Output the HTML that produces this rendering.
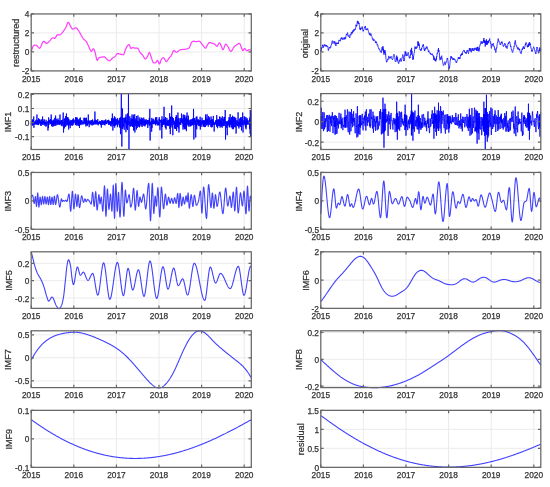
<!DOCTYPE html>
<html><head><meta charset="utf-8"><title>EMD decomposition</title>
<style>
html,body{margin:0;padding:0;background:#fff;}
body{width:550px;height:487px;overflow:hidden;}
svg{display:block;}
text{font-family:"Liberation Sans",Arial,sans-serif;font-size:8.3px;fill:#333333;stroke:#333;stroke-width:0.25px;}
text.yl{font-size:9.1px;}
</style></head><body>
<svg width="550" height="487" viewBox="0 0 550 487">
<rect width="550" height="487" fill="#fff"/>
<path d="M73.8 13.95V70.9M116.4 13.95V70.9M159 13.95V70.9M201.6 13.95V70.9M244.2 13.95V70.9M31.2 51.92H251.3M31.2 32.93H251.3" stroke="#ebebeb" stroke-width="1" fill="none"/>
<path d="M363.4 13.95V70.9M406 13.95V70.9M448.6 13.95V70.9M491.2 13.95V70.9M533.8 13.95V70.9M320.8 51.92H540.8M320.8 32.93H540.8" stroke="#ebebeb" stroke-width="1" fill="none"/>
<path d="M73.8 93.6V149.5M116.4 93.6V149.5M159 93.6V149.5M201.6 93.6V149.5M244.2 93.6V149.5M31.2 136.58H251.3M31.2 122.53H251.3M31.2 108.49H251.3M31.2 94.44H251.3" stroke="#ebebeb" stroke-width="1" fill="none"/>
<path d="M363.4 93.6V149.5M406 93.6V149.5M448.6 93.6V149.5M491.2 93.6V149.5M533.8 93.6V149.5M320.8 142.14H540.8M320.8 121.7H540.8M320.8 101.26H540.8" stroke="#ebebeb" stroke-width="1" fill="none"/>
<path d="M73.8 172.45V229.25M116.4 172.45V229.25M159 172.45V229.25M201.6 172.45V229.25M244.2 172.45V229.25M31.2 200.85H251.3" stroke="#ebebeb" stroke-width="1" fill="none"/>
<path d="M363.4 172.45V229.25M406 172.45V229.25M448.6 172.45V229.25M491.2 172.45V229.25M533.8 172.45V229.25M320.8 200.85H540.8" stroke="#ebebeb" stroke-width="1" fill="none"/>
<path d="M73.8 251.8V308.35M116.4 251.8V308.35M159 251.8V308.35M201.6 251.8V308.35M244.2 251.8V308.35M31.2 298.03H251.3M31.2 280.68H251.3M31.2 263.34H251.3" stroke="#ebebeb" stroke-width="1" fill="none"/>
<path d="M363.4 251.8V308.35M406 251.8V308.35M448.6 251.8V308.35M491.2 251.8V308.35M533.8 251.8V308.35M320.8 280.08H540.8" stroke="#ebebeb" stroke-width="1" fill="none"/>
<path d="M73.8 330.8V387.6M116.4 330.8V387.6M159 330.8V387.6M201.6 330.8V387.6M244.2 330.8V387.6M31.2 380.87H251.3M31.2 357.84H251.3M31.2 334.81H251.3" stroke="#ebebeb" stroke-width="1" fill="none"/>
<path d="M363.4 330.8V387.6M406 330.8V387.6M448.6 330.8V387.6M491.2 330.8V387.6M533.8 330.8V387.6M320.8 386.13H540.8M320.8 359.31H540.8M320.8 332.49H540.8" stroke="#ebebeb" stroke-width="1" fill="none"/>
<path d="M73.8 410.35V467.35M116.4 410.35V467.35M159 410.35V467.35M201.6 410.35V467.35M244.2 410.35V467.35M31.2 438.85H251.3" stroke="#ebebeb" stroke-width="1" fill="none"/>
<path d="M363.4 410.35V467.35M406 410.35V467.35M448.6 410.35V467.35M491.2 410.35V467.35M533.8 410.35V467.35M320.8 448.35H540.8M320.8 429.35H540.8" stroke="#ebebeb" stroke-width="1" fill="none"/>
<path d="M31.3 51.4 L31.8 49.77 L32.3 48.31 L32.8 47.07 L33.3 46.07 L33.8 45.38 L34.3 45.03 L34.8 45.01 L35.3 45.09 L35.8 45.21 L36.3 45.37 L36.8 45.63 L37.3 46.12 L37.8 46.73 L38.3 47.36 L38.8 47.88 L39.3 48.17 L39.8 48.1 L40.3 47.53 L40.8 46.6 L41.3 45.44 L41.8 44.2 L42.3 43.01 L42.8 42.03 L43.3 41.38 L43.8 41.21 L44.3 41.46 L44.8 41.95 L45.3 42.53 L45.8 43.06 L46.3 43.37 L46.8 43.36 L47.3 43.13 L47.8 42.76 L48.3 42.32 L48.8 41.86 L49.3 41.42 L49.8 40.88 L50.3 40.25 L50.8 39.58 L51.3 38.94 L51.8 38.39 L52.3 37.99 L52.8 37.81 L53.3 37.86 L53.8 38.03 L54.3 38.21 L54.8 38.3 L55.3 37.96 L55.8 37.15 L56.3 36.15 L56.8 35.27 L57.3 34.82 L57.8 34.8 L58.3 34.8 L58.8 34.8 L59.3 34.8 L59.8 34.8 L60.3 34.72 L60.8 34.4 L61.3 33.92 L61.8 33.31 L62.3 32.65 L62.8 31.98 L63.3 31.35 L63.8 30.67 L64.3 29.93 L64.8 29.14 L65.3 28.31 L65.8 27.42 L66.3 26.27 L66.8 24.97 L67.3 23.73 L67.8 22.78 L68.3 22.31 L68.8 22.6 L69.3 23.56 L69.8 24.72 L70.3 25.65 L70.8 26.62 L71.3 27.62 L71.8 28.47 L72.3 29 L72.8 29.09 L73.3 28.94 L73.8 28.69 L74.3 28.39 L74.8 28.1 L75.3 27.89 L75.8 27.8 L76.3 27.95 L76.8 28.36 L77.3 28.93 L77.8 29.6 L78.3 30.27 L78.8 30.97 L79.3 31.81 L79.8 32.71 L80.3 33.6 L80.8 34.49 L81.3 35.42 L81.8 36.35 L82.3 37.24 L82.8 38.04 L83.3 38.72 L83.8 39.27 L84.3 39.74 L84.8 40.16 L85.3 40.6 L85.8 41.08 L86.3 41.67 L86.8 42.43 L87.3 43.39 L87.8 44.49 L88.3 45.62 L88.8 46.7 L89.3 47.81 L89.8 49.09 L90.3 50.3 L90.8 51.15 L91.3 51.38 L91.8 50.93 L92.3 50.1 L92.8 49.27 L93.3 48.82 L93.8 49.11 L94.3 50.13 L94.8 51.47 L95.3 53 L95.8 55.33 L96.3 57.83 L96.8 59.73 L97.3 60.28 L97.8 59.74 L98.3 58.81 L98.8 57.96 L99.3 57.62 L99.8 57.45 L100.3 57.33 L100.8 57.23 L101.3 57.15 L101.8 57.07 L102.3 56.99 L102.8 56.91 L103.3 56.85 L103.8 56.81 L104.3 56.81 L104.8 57.03 L105.3 57.49 L105.8 58.06 L106.3 58.62 L106.8 59.08 L107.3 59.54 L107.8 60.03 L108.3 60.46 L108.8 60.78 L109.3 60.9 L109.8 60.76 L110.3 60.41 L110.8 59.91 L111.3 59.33 L111.8 58.76 L112.3 58.26 L112.8 57.89 L113.3 57.58 L113.8 57.3 L114.3 57 L114.8 56.66 L115.3 56.2 L115.8 55.51 L116.3 54.73 L116.8 54.04 L117.3 53.59 L117.8 53.51 L118.3 53.58 L118.8 53.7 L119.3 53.87 L119.8 54.04 L120.3 54.2 L120.8 54.32 L121.3 54.45 L121.8 54.57 L122.3 54.69 L122.8 54.77 L123.3 54.8 L123.8 54.31 L124.3 53.1 L124.8 51.53 L125.3 49.97 L125.8 48.8 L126.3 47.91 L126.8 47.01 L127.3 46.17 L127.8 45.45 L128.3 44.91 L128.8 44.63 L129.3 44.85 L129.8 46.05 L130.3 47.5 L130.8 48.37 L131.3 48.31 L131.8 48.03 L132.3 47.74 L132.8 47.6 L133.3 47.67 L133.8 47.84 L134.3 48.03 L134.8 48.17 L135.3 48.2 L135.8 48.2 L136.3 48.2 L136.8 48.2 L137.3 48.2 L137.8 48.26 L138.3 48.81 L138.8 49.76 L139.3 50.89 L139.8 51.95 L140.3 52.73 L140.8 53.29 L141.3 53.79 L141.8 54.27 L142.3 54.76 L142.8 55.32 L143.3 56.08 L143.8 56.97 L144.3 57.85 L144.8 58.56 L145.3 58.96 L145.8 58.91 L146.3 58.42 L146.8 57.7 L147.3 56.94 L147.8 55.78 L148.3 54.35 L148.8 53.09 L149.3 52.42 L149.8 52.85 L150.3 54.28 L150.8 55.94 L151.3 57.32 L151.8 58.88 L152.3 60.46 L152.8 61.8 L153.3 62.64 L153.8 62.8 L154.3 62.8 L154.8 62.8 L155.3 62.8 L155.8 62.63 L156.3 61.84 L156.8 60.89 L157.3 60.32 L157.8 60.66 L158.3 61.8 L158.8 63.11 L159.3 64 L159.8 63.79 L160.3 62.31 L160.8 60.54 L161.3 59.47 L161.8 58.83 L162.3 58.28 L162.8 57.89 L163.3 57.71 L163.8 57.9 L164.3 58.59 L164.8 59.55 L165.3 60.53 L165.8 61.29 L166.3 61.6 L166.8 61.37 L167.3 60.77 L167.8 59.98 L168.3 59.13 L168.8 58.4 L169.3 57.8 L169.8 57.22 L170.3 56.64 L170.8 56.03 L171.3 55.35 L171.8 54.46 L172.3 53.26 L172.8 52.03 L173.3 51.02 L173.8 50.52 L174.3 50.61 L174.8 51 L175.3 51.5 L175.8 51.98 L176.3 52.27 L176.8 52.25 L177.3 51.99 L177.8 51.57 L178.3 51.09 L178.8 50.62 L179.3 50.24 L179.8 50.03 L180.3 49.88 L180.8 49.76 L181.3 49.65 L181.8 49.56 L182.3 49.49 L182.8 49.43 L183.3 49.38 L183.8 49.34 L184.3 49.29 L184.8 49.24 L185.3 49.17 L185.8 49.09 L186.3 49.01 L186.8 48.91 L187.3 48.79 L187.8 48.64 L188.3 48.47 L188.8 48.25 L189.3 47.75 L189.8 46.64 L190.3 45.23 L190.8 43.83 L191.3 42.76 L191.8 42.2 L192.3 41.73 L192.8 41.38 L193.3 41.21 L193.8 41.22 L194.3 41.28 L194.8 41.37 L195.3 41.47 L195.8 41.55 L196.3 41.6 L196.8 41.59 L197.3 41.51 L197.8 41.4 L198.3 41.29 L198.8 41.21 L199.3 41.23 L199.8 41.52 L200.3 42.03 L200.8 42.68 L201.3 43.34 L201.8 43.94 L202.3 44.59 L202.8 45.28 L203.3 45.94 L203.8 46.54 L204.3 47.2 L204.8 47.8 L205.3 48.16 L205.8 48.04 L206.3 47.25 L206.8 46.15 L207.3 45.15 L207.8 44.4 L208.3 43.6 L208.8 42.93 L209.3 42.54 L209.8 42.52 L210.3 42.6 L210.8 42.75 L211.3 42.93 L211.8 43.13 L212.3 43.33 L212.8 43.5 L213.3 43.67 L213.8 43.84 L214.3 44.05 L214.8 44.29 L215.3 44.65 L215.8 45.28 L216.3 45.93 L216.8 46.29 L217.3 46.08 L217.8 45.33 L218.3 44.35 L218.8 43.42 L219.3 42.86 L219.8 42.97 L220.3 43.81 L220.8 44.95 L221.3 46.05 L221.8 47.49 L222.3 48.9 L222.8 49.67 L223.3 49.41 L223.8 48.42 L224.3 47.04 L224.8 45.64 L225.3 44.54 L225.8 44.1 L226.3 44.35 L226.8 44.96 L227.3 45.72 L227.8 46.44 L228.3 47.29 L228.8 48.32 L229.3 49.38 L229.8 50.33 L230.3 51.05 L230.8 51.39 L231.3 51.25 L231.8 50.72 L232.3 49.92 L232.8 48.98 L233.3 48.06 L233.8 47.26 L234.3 46.7 L234.8 46.23 L235.3 45.8 L235.8 45.4 L236.3 45.04 L236.8 44.7 L237.3 44.4 L237.8 44.09 L238.3 43.78 L238.8 43.53 L239.3 43.4 L239.8 43.66 L240.3 44.56 L240.8 45.84 L241.3 47.22 L241.8 48.44 L242.3 49.89 L242.8 50.7 L243.3 50.22 L243.8 49.25 L244.3 48.49 L244.8 48.51 L245.3 49.04 L245.8 49.77 L246.3 50.42 L246.8 50.7 L247.3 50.6 L247.8 50.37 L248.3 50.09 L248.8 49.84 L249.3 49.7 L249.8 49.75 L250.3 49.96 L250.8 50.28 L251.3 50.7" fill="none" stroke="#ff3cff" stroke-width="1.2" stroke-linejoin="round" />
<path d="M31.2 125.11 L31.37 121.87 L31.54 122.4 L31.71 122.54 L31.88 124.78 L32.05 120.33 L32.22 125.45 L32.39 122.1 L32.56 119.54 L32.72 125.33 L32.89 122.9 L33.06 119.53 L33.23 124.53 L33.4 122.82 L33.57 121.55 L33.74 116.53 L33.91 127.83 L34.08 122.14 L34.25 123.64 L34.42 124.3 L34.59 123.24 L34.76 123.54 L34.93 121.34 L35.1 124.48 L35.27 121.69 L35.44 121.81 L35.61 124.22 L35.77 121.66 L35.94 119.89 L36.11 123.4 L36.28 123.76 L36.45 121.89 L36.62 124.17 L36.79 121.51 L36.96 114.53 L37.13 124.96 L37.3 122.13 L37.47 120.14 L37.64 124.62 L37.81 121.75 L37.98 124.42 L38.15 123.39 L38.32 122.73 L38.49 118.38 L38.66 125.05 L38.82 123.13 L38.99 122.74 L39.16 122.61 L39.33 121.23 L39.5 122.75 L39.67 118.93 L39.84 123.71 L40.01 120.13 L40.18 122.88 L40.35 121.78 L40.52 125.36 L40.69 121.68 L40.86 122.49 L41.03 123.17 L41.2 126.02 L41.37 119.41 L41.54 123.94 L41.71 123.35 L41.87 122.34 L42.04 122.86 L42.21 121.73 L42.38 124.85 L42.55 116.53 L42.72 121.27 L42.89 122.73 L43.06 123.33 L43.23 123.11 L43.4 123.52 L43.57 122.07 L43.74 120.61 L43.91 125.11 L44.08 119.15 L44.25 122.09 L44.42 124.19 L44.59 120.54 L44.76 125.56 L44.92 124.47 L45.09 123.23 L45.26 122.52 L45.43 122.96 L45.6 123.24 L45.77 121.93 L45.94 126.7 L46.11 119.79 L46.28 125.59 L46.45 122.94 L46.62 122.51 L46.79 124.73 L46.96 124.25 L47.13 123.32 L47.3 121.83 L47.47 121.42 L47.64 121.94 L47.8 125.22 L47.97 130.53 L48.14 123.74 L48.31 120.8 L48.48 127.86 L48.65 117.41 L48.82 125.08 L48.99 124.66 L49.16 120.22 L49.33 120.6 L49.5 123.02 L49.67 120.18 L49.84 123.18 L50.01 119.68 L50.18 120.72 L50.35 123.99 L50.52 119.11 L50.69 123.42 L50.85 122.64 L51.02 124.29 L51.19 114.53 L51.36 120.76 L51.53 125.93 L51.7 120.17 L51.87 122.29 L52.04 122.6 L52.21 126.61 L52.38 120.84 L52.55 121.28 L52.72 124.77 L52.89 121.64 L53.06 126.49 L53.23 119.75 L53.4 124.06 L53.57 120.9 L53.74 126.18 L53.9 119.79 L54.07 123.37 L54.24 121.16 L54.41 124.73 L54.58 123 L54.75 117.85 L54.92 126.01 L55.09 123.19 L55.26 122.02 L55.43 124.55 L55.6 115.53 L55.77 120.14 L55.94 125.65 L56.11 124.83 L56.28 118.87 L56.45 121.81 L56.62 122.23 L56.79 121.11 L56.95 124.64 L57.12 122.15 L57.29 124.39 L57.46 123.9 L57.63 119.95 L57.8 124.5 L57.97 118.48 L58.14 123.85 L58.31 123.83 L58.48 120.26 L58.65 120.09 L58.82 123.25 L58.99 124.84 L59.16 120.66 L59.33 120.46 L59.5 124.82 L59.67 123.34 L59.84 119.91 L60 114.53 L60.17 124.6 L60.34 122.07 L60.51 123.77 L60.68 121.51 L60.85 122.53 L61.02 120.38 L61.19 122.09 L61.36 126.1 L61.53 120.24 L61.7 121.12 L61.87 122.75 L62.04 120.81 L62.21 124.28 L62.38 123.92 L62.55 119.67 L62.72 125.66 L62.88 126.24 L63.05 118.09 L63.22 112.53 L63.39 122.8 L63.56 132.53 L63.73 124.29 L63.9 123.81 L64.07 122.39 L64.24 121.48 L64.41 128.39 L64.58 118.4 L64.75 125.92 L64.92 124.29 L65.09 119.31 L65.26 123.81 L65.43 126.43 L65.6 116.1 L65.77 126.63 L65.93 121.3 L66.1 121.69 L66.27 119.56 L66.44 113.53 L66.61 119.54 L66.78 125.14 L66.95 119.16 L67.12 125.35 L67.29 122.82 L67.46 117.32 L67.63 124.07 L67.8 122.63 L67.97 117.19 L68.14 124.06 L68.31 124.74 L68.48 119.65 L68.65 129.53 L68.82 118.79 L68.98 120.61 L69.15 125.43 L69.32 123.06 L69.49 121.3 L69.66 122.93 L69.83 124.82 L70 119.92 L70.17 128.18 L70.34 121.58 L70.51 122.79 L70.68 123.24 L70.85 121.49 L71.02 125.49 L71.19 120.01 L71.36 123.41 L71.53 124.12 L71.7 124.9 L71.87 124.02 L72.03 120.45 L72.2 125.83 L72.37 121.35 L72.54 119.64 L72.71 121.44 L72.88 119.73 L73.05 124.88 L73.22 125 L73.39 118.34 L73.56 123.11 L73.73 120.32 L73.9 123.4 L74.07 119.66 L74.24 121.57 L74.41 121.77 L74.58 121.82 L74.75 122.02 L74.92 122.33 L75.08 122.17 L75.25 120.24 L75.42 125.11 L75.59 117.05 L75.76 124.76 L75.93 120.1 L76.1 123.45 L76.27 123.21 L76.44 117.46 L76.61 125.5 L76.78 125.36 L76.95 122.38 L77.12 122.78 L77.29 117.65 L77.46 124.18 L77.63 120.67 L77.8 125.53 L77.96 120.72 L78.13 121.12 L78.3 119.36 L78.47 125.83 L78.64 120.33 L78.81 122.19 L78.98 125.36 L79.15 121.42 L79.32 123.06 L79.49 127.9 L79.66 118.44 L79.83 121.94 L80 124.7 L80.17 124.91 L80.34 117.56 L80.51 123.65 L80.68 120.75 L80.85 120.15 L81.01 125.12 L81.18 120.13 L81.35 123.62 L81.52 122.68 L81.69 122.44 L81.86 122.55 L82.03 120.25 L82.2 123.32 L82.37 122.97 L82.54 122.76 L82.71 121.59 L82.88 124.75 L83.05 122.75 L83.22 122.09 L83.39 123.89 L83.56 122.29 L83.73 123.65 L83.9 117.8 L84.06 121.55 L84.23 122.97 L84.4 122.65 L84.57 117.82 L84.74 124.11 L84.91 123.08 L85.08 121.2 L85.25 122.28 L85.42 119.56 L85.59 123.87 L85.76 117.92 L85.93 126.41 L86.1 120.31 L86.27 125.05 L86.44 117.75 L86.61 124.82 L86.78 122.56 L86.95 120.15 L87.11 120.99 L87.28 125.95 L87.45 122.02 L87.62 124.82 L87.79 121.38 L87.96 122.78 L88.13 123.27 L88.3 114.53 L88.47 122.69 L88.64 123.61 L88.81 121.11 L88.98 120.41 L89.15 127.18 L89.32 121.12 L89.49 122.99 L89.66 121.76 L89.83 124.52 L89.99 122.07 L90.16 124.17 L90.33 120.61 L90.5 122.88 L90.67 123.07 L90.84 121.54 L91.01 123.3 L91.18 125.14 L91.35 120.14 L91.52 122.57 L91.69 123.28 L91.86 120.42 L92.03 121.23 L92.2 125.44 L92.37 122.84 L92.54 119.46 L92.71 121.64 L92.88 124.83 L93.04 123.57 L93.21 122.61 L93.38 123.03 L93.55 124.54 L93.72 121.46 L93.89 124.41 L94.06 123.59 L94.23 120.34 L94.4 124.24 L94.57 122.29 L94.74 121.41 L94.91 111.53 L95.08 123.4 L95.25 122.16 L95.42 123.64 L95.59 119.65 L95.76 122.69 L95.93 124.65 L96.09 121.53 L96.26 121.42 L96.43 122.5 L96.6 120.11 L96.77 121.67 L96.94 124.08 L97.11 122.11 L97.28 124.26 L97.45 121.51 L97.62 122.44 L97.79 119.13 L97.96 124.05 L98.13 125.29 L98.3 121.86 L98.47 122.12 L98.64 124.58 L98.81 122.87 L98.98 122.46 L99.14 122.07 L99.31 122.95 L99.48 123.6 L99.65 120.86 L99.82 123.79 L99.99 122.97 L100.16 123.83 L100.33 122.84 L100.5 121.31 L100.67 125.07 L100.84 121.72 L101.01 121.5 L101.18 123.63 L101.35 127.53 L101.52 124.08 L101.69 120 L101.86 121.72 L102.03 123.05 L102.19 124.98 L102.36 122.82 L102.53 120.57 L102.7 120.97 L102.87 123.2 L103.04 120.8 L103.21 124.03 L103.38 122.48 L103.55 122.25 L103.72 122.08 L103.89 124.86 L104.06 120.3 L104.23 121.29 L104.4 125.13 L104.57 123.48 L104.74 121.16 L104.91 123.85 L105.07 125.27 L105.24 120.02 L105.41 122.92 L105.58 123.43 L105.75 119.43 L105.92 123.6 L106.09 123.67 L106.26 121.67 L106.43 124.05 L106.6 123.01 L106.77 121.51 L106.94 123.61 L107.11 122.85 L107.28 120.02 L107.45 122.49 L107.62 121.99 L107.79 122.05 L107.96 122.19 L108.12 120.68 L108.29 123.43 L108.46 119.81 L108.63 125.01 L108.8 122.36 L108.97 124.26 L109.14 122.34 L109.31 121.45 L109.48 120.69 L109.65 124.76 L109.82 121.89 L109.99 122.97 L110.16 123.74 L110.33 124.05 L110.5 121.42 L110.67 126.17 L110.84 120.99 L111.01 122.49 L111.17 124.21 L111.34 123.71 L111.51 124.29 L111.68 118.15 L111.85 126.45 L112.02 118.93 L112.19 122.31 L112.36 113.53 L112.53 124.08 L112.7 119.24 L112.87 130.53 L113.04 126.61 L113.21 121.93 L113.38 119.68 L113.55 123.19 L113.72 118.33 L113.89 125.66 L114.06 120.72 L114.22 125.82 L114.39 116.36 L114.56 126.47 L114.73 127.65 L114.9 119.62 L115.07 123.17 L115.24 117.39 L115.41 125.67 L115.58 122.19 L115.75 120.38 L115.92 119.28 L116.09 124.65 L116.26 119.37 L116.43 122.07 L116.6 124.14 L116.77 121.69 L116.94 122.51 L117.11 125.07 L117.27 118.57 L117.44 127.16 L117.61 118.23 L117.78 121.03 L117.95 124.33 L118.12 124.01 L118.29 122.07 L118.46 121.28 L118.63 121.35 L118.8 122.61 L118.97 120.12 L119.14 125.29 L119.31 121.07 L119.48 127.45 L119.65 118.18 L119.82 123.01 L119.99 124.56 L120.15 117.77 L120.32 122.01 L120.49 134.17 L120.66 117.29 L120.83 127.84 L121 117.27 L121.17 114.21 L121.34 93.6 L121.51 120.73 L121.68 122.89 L121.85 146.53 L122.02 120.48 L122.19 118.55 L122.36 129 L122.53 108.53 L122.7 128.44 L122.87 120.38 L123.04 117.92 L123.2 122.35 L123.37 127.04 L123.54 123.17 L123.71 123.09 L123.88 122.35 L124.05 117.91 L124.22 129.76 L124.39 118.16 L124.56 120.51 L124.73 122.08 L124.9 121.32 L125.07 117.38 L125.24 123.25 L125.41 119.93 L125.58 121.41 L125.75 116.85 L125.92 132.23 L126.09 114.35 L126.25 125.1 L126.42 123.98 L126.59 124.95 L126.76 128.62 L126.93 120.69 L127.1 125.02 L127.27 119.65 L127.44 130.06 L127.61 113.42 L127.78 123.85 L127.95 124.73 L128.12 124.28 L128.29 124.55 L128.46 93.6 L128.63 122.79 L128.8 121.79 L128.97 149.5 L129.14 127.12 L129.3 121.2 L129.47 125.31 L129.64 121.03 L129.81 116.2 L129.98 123.48 L130.15 124.34 L130.32 126.62 L130.49 124.83 L130.66 126.07 L130.83 118.31 L131 126.05 L131.17 121.61 L131.34 124.15 L131.51 121.77 L131.68 118.73 L131.85 126.2 L132.02 114.53 L132.19 124.15 L132.35 119.14 L132.52 126.97 L132.69 124.96 L132.86 125.11 L133.03 125.5 L133.2 119.01 L133.37 114.69 L133.54 130.34 L133.71 117.46 L133.88 122.42 L134.05 130.53 L134.22 121.15 L134.39 122.95 L134.56 125.1 L134.73 114.24 L134.9 132.5 L135.07 118.3 L135.23 121.19 L135.4 126.04 L135.57 120.82 L135.74 119.73 L135.91 123.59 L136.08 121.29 L136.25 120.77 L136.42 129.59 L136.59 115.99 L136.76 117.84 L136.93 123.27 L137.1 120.19 L137.27 127.96 L137.44 120.99 L137.61 124.52 L137.78 123.58 L137.95 115.53 L138.12 125.89 L138.28 122.03 L138.45 126.64 L138.62 121.14 L138.79 122.13 L138.96 124.6 L139.13 123.33 L139.3 117.54 L139.47 127.32 L139.64 123.71 L139.81 122.82 L139.98 119.8 L140.15 119.48 L140.32 123.91 L140.49 124.31 L140.66 122.45 L140.83 119.39 L141 126.26 L141.17 117.46 L141.33 120.17 L141.5 124.43 L141.67 120.42 L141.84 121.08 L142.01 119.46 L142.18 127 L142.35 118.18 L142.52 124.56 L142.69 124.63 L142.86 120.85 L143.03 123.45 L143.2 125.25 L143.37 125.73 L143.54 123.24 L143.71 117.57 L143.88 119.05 L144.05 123.28 L144.22 119.43 L144.38 125.47 L144.55 122.13 L144.72 121.27 L144.89 126.4 L145.06 124.09 L145.23 120.83 L145.4 123.91 L145.57 125.24 L145.74 119.88 L145.91 123.96 L146.08 119.22 L146.25 123.66 L146.42 123.58 L146.59 121.45 L146.76 123.31 L146.93 124.41 L147.1 122.73 L147.27 120.1 L147.43 121.86 L147.6 120.04 L147.77 127.95 L147.94 121.54 L148.11 122.91 L148.28 122.09 L148.45 123.9 L148.62 123.38 L148.79 119.91 L148.96 123.08 L149.13 125.57 L149.3 117.76 L149.47 121.63 L149.64 125.09 L149.81 108.93 L149.98 125.06 L150.15 140.53 L150.31 124.01 L150.48 124.55 L150.65 122.25 L150.82 124.28 L150.99 121.27 L151.16 122.26 L151.33 122.82 L151.5 123.96 L151.67 131.67 L151.84 117.91 L152.01 127.91 L152.18 120.51 L152.35 119.28 L152.52 123.69 L152.69 123.71 L152.86 122.28 L153.03 122.76 L153.2 123.86 L153.36 123.33 L153.53 124.19 L153.7 118.76 L153.87 123.98 L154.04 120.33 L154.21 123.86 L154.38 122.19 L154.55 122.88 L154.72 121.17 L154.89 120.81 L155.06 122.91 L155.23 124.56 L155.4 123.64 L155.57 117.33 L155.74 125.39 L155.91 123.05 L156.08 118.17 L156.25 121.74 L156.41 122.48 L156.58 123.56 L156.75 117.06 L156.92 123.98 L157.09 121.82 L157.26 122.91 L157.43 125.4 L157.6 123.97 L157.77 120.34 L157.94 122.35 L158.11 123.57 L158.28 124.73 L158.45 124.56 L158.62 121.94 L158.79 125.49 L158.96 119.2 L159.13 120.75 L159.3 117.2 L159.46 123.16 L159.63 124.86 L159.8 123.54 L159.97 130.22 L160.14 120.11 L160.31 122.38 L160.48 120.37 L160.65 121.81 L160.82 121.62 L160.99 122.48 L161.16 120.78 L161.33 119.25 L161.5 127.28 L161.67 122.32 L161.84 138.53 L162.01 116.33 L162.18 120.8 L162.35 122.31 L162.51 126.57 L162.68 120.16 L162.85 123.57 L163.02 122.31 L163.19 123.08 L163.36 120.5 L163.53 124.89 L163.7 118.84 L163.87 122.86 L164.04 106.83 L164.21 122.11 L164.38 124 L164.55 118.93 L164.72 124.83 L164.89 121.14 L165.06 124.12 L165.23 127.26 L165.39 116.98 L165.56 127.91 L165.73 119 L165.9 121.65 L166.07 129.43 L166.24 122.88 L166.41 122.75 L166.58 125.01 L166.75 125.3 L166.92 117.86 L167.09 125.09 L167.26 120.89 L167.43 124.5 L167.6 120.76 L167.77 125.95 L167.94 121.4 L168.11 120 L168.28 123.75 L168.44 124.4 L168.61 126.09 L168.78 119.81 L168.95 121.58 L169.12 124.58 L169.29 125.09 L169.46 118.65 L169.63 113.06 L169.8 128.72 L169.97 120.4 L170.14 120.85 L170.31 134.11 L170.48 117.18 L170.65 125.43 L170.82 116.56 L170.99 125.58 L171.16 125.37 L171.33 121.52 L171.49 121.75 L171.66 105.53 L171.83 121.66 L172 127.51 L172.17 121.38 L172.34 119.14 L172.51 116.92 L172.68 123.06 L172.85 135.23 L173.02 118.24 L173.19 120.77 L173.36 118.12 L173.53 120.9 L173.7 124.66 L173.87 120.99 L174.04 122.15 L174.21 121.91 L174.38 122.17 L174.54 125.54 L174.71 128.57 L174.88 121.55 L175.05 128.62 L175.22 119.81 L175.39 122.53 L175.56 128.92 L175.73 117.11 L175.9 120.45 L176.07 124.29 L176.24 115.26 L176.41 117.9 L176.58 130.99 L176.75 115.64 L176.92 122.19 L177.09 122.4 L177.26 118.83 L177.43 126.95 L177.59 123.59 L177.76 124.47 L177.93 112.53 L178.1 121.65 L178.27 128.51 L178.44 124.36 L178.61 118.12 L178.78 124.51 L178.95 132.53 L179.12 130.22 L179.29 122.44 L179.46 123.18 L179.63 122.14 L179.8 124.7 L179.97 118.23 L180.14 124.17 L180.31 122.57 L180.47 122.18 L180.64 120.47 L180.81 125.05 L180.98 118.08 L181.15 122.48 L181.32 122.96 L181.49 113.53 L181.66 120.84 L181.83 119.89 L182 120.76 L182.17 122.55 L182.34 119.85 L182.51 123.32 L182.68 118.45 L182.85 124.23 L183.02 129.6 L183.19 114.62 L183.36 124.36 L183.52 127.11 L183.69 120.74 L183.86 125.34 L184.03 114.81 L184.2 123.93 L184.37 129.17 L184.54 116.97 L184.71 125.19 L184.88 115.27 L185.05 129.1 L185.22 129.36 L185.39 117.89 L185.56 124.52 L185.73 124.08 L185.9 128.68 L186.07 118.11 L186.24 118.2 L186.41 131.16 L186.57 116.17 L186.74 125.3 L186.91 115.85 L187.08 112.53 L187.25 123.82 L187.42 118.97 L187.59 122.56 L187.76 124.51 L187.93 120.11 L188.1 124.49 L188.27 126.25 L188.44 115.64 L188.61 125.53 L188.78 123.9 L188.95 120.54 L189.12 126.71 L189.29 124.19 L189.46 122.05 L189.62 123.71 L189.79 121.91 L189.96 119.78 L190.13 125.15 L190.3 120.68 L190.47 121.26 L190.64 126.37 L190.81 120.3 L190.98 125.17 L191.15 118.99 L191.32 122.4 L191.49 123.29 L191.66 125.73 L191.83 120.65 L192 124.62 L192.17 120.19 L192.34 123.56 L192.51 124.96 L192.67 118.7 L192.84 121.8 L193.01 125.18 L193.18 118.22 L193.35 124.68 L193.52 108.93 L193.69 121.43 L193.86 139.53 L194.03 122.89 L194.2 122.33 L194.37 118.67 L194.54 120.55 L194.71 124.65 L194.88 118.11 L195.05 124.15 L195.22 121.78 L195.39 120.24 L195.55 123 L195.72 137.53 L195.89 124.61 L196.06 126.32 L196.23 116.8 L196.4 125.41 L196.57 123.18 L196.74 129.29 L196.91 116.45 L197.08 121.68 L197.25 122.09 L197.42 120.58 L197.59 119.5 L197.76 124.43 L197.93 120.01 L198.1 125.09 L198.27 122.77 L198.44 119.42 L198.6 122.96 L198.77 126.09 L198.94 119.97 L199.11 123.41 L199.28 124.59 L199.45 120.45 L199.62 124.05 L199.79 126.14 L199.96 123.31 L200.13 116.73 L200.3 129.59 L200.47 120.15 L200.64 120.57 L200.81 122.1 L200.98 127.04 L201.15 121.6 L201.32 121.6 L201.49 120.68 L201.65 125.49 L201.82 125.03 L201.99 117.73 L202.16 120.85 L202.33 123.13 L202.5 124.29 L202.67 120.49 L202.84 122.78 L203.01 120.58 L203.18 126.88 L203.35 120.64 L203.52 122.95 L203.69 125.99 L203.86 120.26 L204.03 122.75 L204.2 124.07 L204.37 120.61 L204.54 127.07 L204.7 120.93 L204.87 121 L205.04 122.7 L205.21 119.71 L205.38 127.04 L205.55 114.53 L205.72 119.82 L205.89 121.97 L206.06 117.55 L206.23 123.14 L206.4 125.28 L206.57 119.46 L206.74 125.31 L206.91 125.4 L207.08 114.23 L207.25 124.76 L207.42 121.5 L207.58 121.19 L207.75 118.88 L207.92 123.75 L208.09 119.57 L208.26 126.67 L208.43 125.47 L208.6 116.01 L208.77 120.39 L208.94 123.29 L209.11 121.95 L209.28 122.16 L209.45 124.8 L209.62 117.35 L209.79 122.59 L209.96 122.15 L210.13 121.56 L210.3 119.96 L210.47 122.4 L210.63 120.95 L210.8 126.74 L210.97 119.34 L211.14 116.49 L211.31 127.28 L211.48 121.99 L211.65 119.56 L211.82 121.44 L211.99 121.96 L212.16 127.2 L212.33 119.28 L212.5 126.12 L212.67 123.74 L212.84 119.86 L213.01 124.25 L213.18 120.37 L213.35 115.9 L213.52 124.27 L213.68 121.5 L213.85 124.71 L214.02 123.23 L214.19 131.53 L214.36 122.85 L214.53 124.5 L214.7 123.06 L214.87 122.36 L215.04 124.63 L215.21 124.64 L215.38 124.02 L215.55 120.53 L215.72 123.02 L215.89 120.51 L216.06 121.01 L216.23 124.4 L216.4 120.4 L216.57 126.69 L216.73 115.11 L216.9 121.84 L217.07 125.02 L217.24 124.74 L217.41 119.91 L217.58 128.24 L217.75 122.56 L217.92 119.38 L218.09 123.73 L218.26 123.83 L218.43 119.47 L218.6 126.16 L218.77 120.77 L218.94 123.87 L219.11 124.53 L219.28 120.16 L219.45 125.7 L219.62 116.62 L219.78 126.03 L219.95 116.86 L220.12 127.62 L220.29 119.75 L220.46 125.97 L220.63 125.05 L220.8 120.43 L220.97 121.37 L221.14 126.73 L221.31 117.85 L221.48 125.64 L221.65 121.69 L221.82 121.25 L221.99 121.73 L222.16 127.72 L222.33 116.28 L222.5 122.89 L222.66 124.82 L222.83 124.23 L223 126.19 L223.17 124.62 L223.34 118.95 L223.51 124.86 L223.68 125.78 L223.85 122.28 L224.02 117.08 L224.19 126.02 L224.36 123.9 L224.53 116.95 L224.7 123.29 L224.87 123.18 L225.04 124.07 L225.21 110.03 L225.38 124.22 L225.55 139.53 L225.71 122.97 L225.88 121.2 L226.05 121.3 L226.22 122.65 L226.39 122.06 L226.56 125.75 L226.73 127.9 L226.9 121.1 L227.07 124.94 L227.24 135.23 L227.41 122.34 L227.58 126.1 L227.75 124.3 L227.92 121.29 L228.09 122.38 L228.26 124.88 L228.43 120.02 L228.6 123.81 L228.76 125.45 L228.93 120.78 L229.1 117.12 L229.27 127.39 L229.44 117.96 L229.61 119.11 L229.78 120.15 L229.95 127.21 L230.12 114.05 L230.29 124.99 L230.46 124.03 L230.63 122.14 L230.8 120.12 L230.97 123.52 L231.14 123.23 L231.31 117.43 L231.48 127.36 L231.65 125.27 L231.81 117.09 L231.98 121.64 L232.15 119.63 L232.32 128.73 L232.49 115.72 L232.66 122.29 L232.83 117.16 L233 129.3 L233.17 119.56 L233.34 123.43 L233.51 128.77 L233.68 122.25 L233.85 116.65 L234.02 127.33 L234.19 124.66 L234.36 117.06 L234.53 120.49 L234.7 120.49 L234.86 126.98 L235.03 121.18 L235.2 117.91 L235.37 127.28 L235.54 124.18 L235.71 117.79 L235.88 118.49 L236.05 133.53 L236.22 130.06 L236.39 123.25 L236.56 124.48 L236.73 122 L236.9 120.08 L237.07 124.32 L237.24 124.89 L237.41 120.74 L237.58 126.07 L237.74 121.44 L237.91 124.55 L238.08 112.32 L238.25 123.82 L238.42 126.77 L238.59 123.82 L238.76 122.62 L238.93 128.48 L239.1 122.62 L239.27 123.98 L239.44 118.64 L239.61 125.86 L239.78 125.15 L239.95 126.34 L240.12 125.35 L240.29 120.85 L240.46 123.69 L240.63 117.74 L240.79 126.98 L240.96 117.2 L241.13 123 L241.3 123.46 L241.47 130.52 L241.64 124.15 L241.81 117.53 L241.98 119.11 L242.15 124.23 L242.32 119.77 L242.49 124.76 L242.66 112.53 L242.83 123.82 L243 132.53 L243.17 122.85 L243.34 123.7 L243.51 122.85 L243.68 120.42 L243.84 122.44 L244.01 125.31 L244.18 116.23 L244.35 124.02 L244.52 123.1 L244.69 117.37 L244.86 121.58 L245.03 124.19 L245.2 120.5 L245.37 126.17 L245.54 123.14 L245.71 127.76 L245.88 116.91 L246.05 129.26 L246.22 118.71 L246.39 125.13 L246.56 124.88 L246.73 121.46 L246.89 121.8 L247.06 121.41 L247.23 118.3 L247.4 123.66 L247.57 120.63 L247.74 124.67 L247.91 120.08 L248.08 122.81 L248.25 124.1 L248.42 121.96 L248.59 122.61 L248.76 122.06 L248.93 121.52 L249.1 124.73 L249.27 124.12 L249.44 119.14 L249.61 129.11 L249.78 122.23 L249.94 117.19 L250.11 133.74 L250.28 110.03 L250.45 118.47 L250.62 136.53 L250.79 110.57 L250.96 136.24 L251.13 113.01 L251.3 117.71" fill="none" stroke="#0000ff" stroke-width="0.85" stroke-linejoin="round" />
<path d="M320.8 122.12 L320.97 116.26 L321.14 128.52 L321.31 107.7 L321.48 128.52 L321.65 116.26 L321.82 122.12 L321.99 122.57 L322.15 128.49 L322.32 128.92 L322.49 119.78 L322.66 112.17 L322.83 111.95 L323 113.58 L323.17 121.81 L323.34 129.08 L323.51 131.11 L323.68 127.82 L323.85 120.97 L324.02 112.41 L324.19 112.41 L324.36 117.55 L324.53 129.29 L324.7 127 L324.86 123.45 L325.03 121.14 L325.2 127.22 L325.37 124.47 L325.54 118.24 L325.71 118.95 L325.88 120.97 L326.05 121.51 L326.22 118.96 L326.39 119.1 L326.56 115.29 L326.73 118.16 L326.9 124.25 L327.07 127.82 L327.24 131.98 L327.41 131.84 L327.57 122.04 L327.74 115.02 L327.91 118.11 L328.08 121.15 L328.25 130.01 L328.42 130.88 L328.59 124.03 L328.76 116.69 L328.93 118.43 L329.1 118.63 L329.27 114.8 L329.44 118.52 L329.61 120.38 L329.78 127.49 L329.95 131.68 L330.11 128.81 L330.28 120.96 L330.45 116.71 L330.62 119.49 L330.79 123.57 L330.96 122.22 L331.13 115.7 L331.3 116.7 L331.47 126.09 L331.64 124.64 L331.81 120.06 L331.98 116.3 L332.15 117.07 L332.32 112.25 L332.49 115.4 L332.66 119.48 L332.82 130.1 L332.99 133.18 L333.16 130.69 L333.33 123.68 L333.5 117.58 L333.67 119.66 L333.84 116.06 L334.01 121.58 L334.18 126.42 L334.35 125.5 L334.52 121.32 L334.69 126.76 L334.86 115.37 L335.03 134.7 L335.2 115.37 L335.37 126.76 L335.53 121.32 L335.7 127.54 L335.87 134.04 L336.04 132.89 L336.21 126.54 L336.38 121.87 L336.55 116.22 L336.72 125.89 L336.89 133.55 L337.06 133.73 L337.23 124.97 L337.4 118.32 L337.57 118.92 L337.74 125.31 L337.91 123.49 L338.07 123.07 L338.24 121.34 L338.41 128.42 L338.58 124.02 L338.75 118.7 L338.92 115.53 L339.09 112.81 L339.26 117.92 L339.43 123.95 L339.6 123.23 L339.77 120.46 L339.94 120.78 L340.11 121.57 L340.28 124.24 L340.45 121.57 L340.62 116.74 L340.78 117.35 L340.95 113.53 L341.12 122.48 L341.29 128.37 L341.46 120.94 L341.63 119.21 L341.8 125.94 L341.97 122.05 L342.14 117.67 L342.31 122.49 L342.48 121.93 L342.65 125.51 L342.82 130.17 L342.99 128.45 L343.16 125.14 L343.33 125.66 L343.49 124.97 L343.66 126.69 L343.83 124.54 L344 121.78 L344.17 117.57 L344.34 119.76 L344.51 122.06 L344.68 117.04 L344.85 127.55 L345.02 109.7 L345.19 127.55 L345.36 117.04 L345.53 122.06 L345.7 127.54 L345.87 124.87 L346.03 123.07 L346.2 118.27 L346.37 115.36 L346.54 119.06 L346.71 121.64 L346.88 127.28 L347.05 127.5 L347.22 119.93 L347.39 109.39 L347.56 109.4 L347.73 113.23 L347.9 130.67 L348.07 130.91 L348.24 132.26 L348.41 129.99 L348.58 122.25 L348.74 122.75 L348.91 116.26 L349.08 111.53 L349.25 117.93 L349.42 126.49 L349.59 134.13 L349.76 134.64 L349.93 127.07 L350.1 116.04 L350.27 112.12 L350.44 115.05 L350.61 123.42 L350.78 125.88 L350.95 131.25 L351.12 128.38 L351.28 116.63 L351.45 108.99 L351.62 114.06 L351.79 123.65 L351.96 122.38 L352.13 113.8 L352.3 120.48 L352.47 127.18 L352.64 126.71 L352.81 118.14 L352.98 119.42 L353.15 118.89 L353.32 121.94 L353.49 113.1 L353.66 111.28 L353.83 117.93 L353.99 125.72 L354.16 122.88 L354.33 117.85 L354.5 122.41 L354.67 123.8 L354.84 129.46 L355.01 131.7 L355.18 133.29 L355.35 133.02 L355.52 129.53 L355.69 127.55 L355.86 120.37 L356.03 113.45 L356.2 116.16 L356.37 126.96 L356.54 126.04 L356.7 133.25 L356.87 137.5 L357.04 129.16 L357.21 114.79 L357.38 106.16 L357.55 112.13 L357.72 128.85 L357.89 136.65 L358.06 128.72 L358.23 124.28 L358.4 124.01 L358.57 129.65 L358.74 133.88 L358.91 124.49 L359.08 115.87 L359.24 120.39 L359.41 121.32 L359.58 126.76 L359.75 115.37 L359.92 134.7 L360.09 115.37 L360.26 126.76 L360.43 121.32 L360.6 127.63 L360.77 115.36 L360.94 117.85 L361.11 125.31 L361.28 123.8 L361.45 123.52 L361.62 124.74 L361.79 121.52 L361.95 119.26 L362.12 115.08 L362.29 113.83 L362.46 120.59 L362.63 125.72 L362.8 126.34 L362.97 129.26 L363.14 130.35 L363.31 121.75 L363.48 123.38 L363.65 119.37 L363.82 117.59 L363.99 119.84 L364.16 120.25 L364.33 119.58 L364.5 115.54 L364.66 119.08 L364.83 123.75 L365 126.1 L365.17 117.37 L365.34 111.59 L365.51 118.53 L365.68 125.86 L365.85 130.57 L366.02 127.64 L366.19 121.62 L366.36 109.28 L366.53 117.43 L366.7 120.86 L366.87 121.67 L367.04 125.09 L367.2 125.69 L367.37 125.67 L367.54 123.17 L367.71 116.89 L367.88 122.71 L368.05 120.19 L368.22 121.39 L368.39 116.21 L368.56 115.06 L368.73 113.71 L368.9 115.89 L369.07 116.52 L369.24 119.99 L369.41 126.26 L369.58 124.56 L369.75 119.03 L369.91 109.32 L370.08 119.8 L370.25 127.71 L370.42 124.3 L370.59 125.94 L370.76 125.23 L370.93 114.13 L371.1 109.33 L371.27 116.21 L371.44 119.09 L371.61 118 L371.78 116.87 L371.95 117.96 L372.12 120.18 L372.29 125.66 L372.46 128.5 L372.62 123.06 L372.79 118.86 L372.96 111.66 L373.13 115.32 L373.3 130.01 L373.47 132.83 L373.64 128.3 L373.81 119.15 L373.98 115.59 L374.15 120.52 L374.32 118.7 L374.49 122.08 L374.66 121.26 L374.83 122.23 L375 126.95 L375.16 121.22 L375.33 127.65 L375.5 130.82 L375.67 125.36 L375.84 121.41 L376.01 116.56 L376.18 117.51 L376.35 122.52 L376.52 116.74 L376.69 117.59 L376.86 121.29 L377.03 127.66 L377.2 130.23 L377.37 124.06 L377.54 117.23 L377.71 116.17 L377.87 121.72 L378.04 122.41 L378.21 128.71 L378.38 129.2 L378.55 125.88 L378.72 124.57 L378.89 121.52 L379.06 122.56 L379.23 125.78 L379.4 118.12 L379.57 113.06 L379.74 111.2 L379.91 116.5 L380.08 119.03 L380.25 119 L380.42 115.89 L380.58 109.16 L380.75 113.13 L380.92 120.41 L381.09 125.5 L381.26 134.33 L381.43 134.39 L381.6 131.07 L381.77 115.58 L381.94 112.87 L382.11 111.93 L382.28 111.86 L382.45 122.42 L382.62 112.37 L382.79 133.39 L382.96 97.7 L383.12 133.39 L383.29 112.37 L383.46 120.93 L383.63 131.81 L383.8 109.04 L383.97 147.7 L384.14 109.04 L384.31 131.81 L384.48 122.24 L384.65 114.71 L384.82 130.47 L384.99 103.7 L385.16 130.47 L385.33 114.71 L385.5 122.24 L385.67 108.84 L385.83 121.04 L386 122.95 L386.17 119.66 L386.34 119.18 L386.51 121.64 L386.68 120.99 L386.85 117.08 L387.02 114.12 L387.19 118.66 L387.36 121.04 L387.53 118.85 L387.7 115.81 L387.87 131.86 L388.04 135.91 L388.21 134.86 L388.38 125.72 L388.54 117.6 L388.71 111.5 L388.88 112.16 L389.05 118.88 L389.22 124.32 L389.39 118.53 L389.56 119.78 L389.73 120.45 L389.9 115.34 L390.07 114.92 L390.24 127.36 L390.41 129.25 L390.58 127.12 L390.75 123.02 L390.92 115.33 L391.08 112.92 L391.25 118.21 L391.42 119.6 L391.59 119.87 L391.76 120.68 L391.93 120.55 L392.1 120.16 L392.27 122.29 L392.44 124.96 L392.61 124.44 L392.78 126.15 L392.95 129.52 L393.12 121.22 L393.29 117.86 L393.46 118.52 L393.63 121.39 L393.79 123.17 L393.96 123.14 L394.13 121.96 L394.3 124.38 L394.47 120.27 L394.64 121.68 L394.81 118.38 L394.98 126.28 L395.15 132.16 L395.32 125 L395.49 119.38 L395.66 120.45 L395.83 120.31 L396 125.45 L396.17 122.3 L396.34 113.93 L396.5 131.44 L396.67 101.7 L396.84 121.17 L397.01 128.7 L397.18 112.94 L397.35 139.7 L397.52 112.94 L397.69 128.7 L397.86 121.17 L398.03 127.74 L398.2 116.85 L398.37 116.38 L398.54 122.3 L398.71 129.42 L398.88 123.45 L399.04 119.18 L399.21 111.25 L399.38 114.05 L399.55 130 L399.72 130.59 L399.89 126.81 L400.06 122.45 L400.23 112.35 L400.4 113.71 L400.57 114.37 L400.74 119.27 L400.91 127.07 L401.08 125.78 L401.25 125.12 L401.42 117.46 L401.59 111.78 L401.75 114.44 L401.92 117.89 L402.09 119.87 L402.26 123.28 L402.43 120.35 L402.6 120.53 L402.77 118.67 L402.94 123.66 L403.11 124.73 L403.28 121.68 L403.45 123.23 L403.62 124.69 L403.79 125.75 L403.96 120.95 L404.13 121.51 L404.29 120.18 L404.46 114.32 L404.63 122.21 L404.8 115.09 L404.97 129.98 L405.14 104.7 L405.31 129.98 L405.48 121.29 L405.65 127.15 L405.82 114.88 L405.99 135.7 L406.16 114.88 L406.33 127.15 L406.5 121.29 L406.67 118.24 L406.84 115.65 L407 119.17 L407.17 122.38 L407.34 122.21 L407.51 128.03 L407.68 130.15 L407.85 129.05 L408.02 124.53 L408.19 121.26 L408.36 120.63 L408.53 124.11 L408.7 122.04 L408.87 119.48 L409.04 125.77 L409.21 126.66 L409.38 128.25 L409.55 118.54 L409.71 116.68 L409.88 120.3 L410.05 122.8 L410.22 124.3 L410.39 123.72 L410.56 115.95 L410.73 114.41 L410.9 115 L411.07 122.54 L411.24 110.82 L411.41 135.34 L411.58 93.7 L411.75 135.34 L411.92 110.82 L412.09 122.54 L412.25 120.68 L412.42 121.14 L412.59 129.09 L412.76 112.45 L412.93 140.7 L413.1 112.45 L413.27 129.09 L413.44 121.14 L413.61 114.97 L413.78 113.79 L413.95 112.72 L414.12 122.11 L414.29 128.98 L414.46 131.75 L414.63 126.46 L414.8 115.3 L414.96 110.54 L415.13 118.7 L415.3 125.92 L415.47 123.62 L415.64 122.95 L415.81 122.03 L415.98 120.09 L416.15 126.66 L416.32 124.27 L416.49 120.06 L416.66 116.72 L416.83 121.32 L417 126.99 L417.17 129.09 L417.34 124.63 L417.51 119.88 L417.67 117.82 L417.84 122.21 L418.01 115.09 L418.18 129.98 L418.35 104.7 L418.52 121.35 L418.69 126.37 L418.86 115.86 L419.03 133.7 L419.2 115.86 L419.37 126.37 L419.54 121.35 L419.71 128.14 L419.88 128.36 L420.05 125.66 L420.21 118.58 L420.38 118.02 L420.55 120.76 L420.72 124.57 L420.89 129.97 L421.06 122.17 L421.23 126.47 L421.4 128.39 L421.57 122.97 L421.74 124.51 L421.91 121.22 L422.08 114.7 L422.25 118.65 L422.42 121.94 L422.59 127.73 L422.76 125.23 L422.92 121.18 L423.09 118.38 L423.26 113.94 L423.43 114.56 L423.6 114.56 L423.77 116.68 L423.94 125.05 L424.11 126.61 L424.28 122.68 L424.45 124.64 L424.62 119.45 L424.79 117.76 L424.96 117.94 L425.13 123.24 L425.3 124.86 L425.47 122.77 L425.63 121.9 L425.8 120.97 L425.97 127.37 L426.14 123.18 L426.31 123.25 L426.48 129.34 L426.65 131.22 L426.82 129.11 L426.99 121.21 L427.16 120.18 L427.33 119.5 L427.5 123.7 L427.67 117.29 L427.84 114.45 L428.01 111.39 L428.17 118.87 L428.34 122.94 L428.51 127.8 L428.68 124.58 L428.85 118.52 L429.02 122.65 L429.19 128.46 L429.36 131.9 L429.53 133.1 L429.7 129.31 L429.87 126.02 L430.04 126.71 L430.21 123.71 L430.38 118.57 L430.55 122.58 L430.72 126.36 L430.88 125.39 L431.05 123.39 L431.22 123.8 L431.39 119.52 L431.56 115.15 L431.73 114.22 L431.9 118.99 L432.07 115.73 L432.24 110.26 L432.41 116.1 L432.58 123.34 L432.75 121.49 L432.92 123.91 L433.09 122.11 L433.26 120.6 L433.43 121.2 L433.59 128.31 L433.76 113.42 L433.93 138.7 L434.1 113.42 L434.27 128.31 L434.44 121.2 L434.61 106.72 L434.78 110.72 L434.95 118.61 L435.12 118.68 L435.29 115.63 L435.46 122.33 L435.63 113.54 L435.8 131.93 L435.97 121.29 L436.13 127.15 L436.3 114.88 L436.47 135.7 L436.64 114.88 L436.81 127.15 L436.98 121.29 L437.15 110.31 L437.32 116.67 L437.49 125.38 L437.66 128.5 L437.83 121.24 L438 122.27 L438.17 114.32 L438.34 130.96 L438.51 102.7 L438.68 130.96 L438.84 114.32 L439.01 122.27 L439.18 110.93 L439.35 114.98 L439.52 117.95 L439.69 121.19 L439.86 127.32 L440.03 128.47 L440.2 125.15 L440.37 114.91 L440.54 106.11 L440.71 107.7 L440.88 121.96 L441.05 133.29 L441.22 133.06 L441.39 119.18 L441.55 111.04 L441.72 113.29 L441.89 123.96 L442.06 124.03 L442.23 121.09 L442.4 120.08 L442.57 120.01 L442.74 112.3 L442.91 114.92 L443.08 111.93 L443.25 110.54 L443.42 116.32 L443.59 118.76 L443.76 122.44 L443.93 127.78 L444.09 128.26 L444.26 128.26 L444.43 122.06 L444.6 118.31 L444.77 116 L444.94 114.78 L445.11 131.34 L445.28 132.58 L445.45 133.6 L445.62 126.2 L445.79 122.52 L445.96 119.63 L446.13 114.39 L446.3 122.21 L446.47 125.46 L446.64 125.12 L446.8 129.61 L446.97 124.66 L447.14 120.09 L447.31 120.24 L447.48 123.65 L447.65 114.13 L447.82 122.15 L447.99 115.87 L448.16 129.01 L448.33 121.38 L448.5 125.98 L448.67 116.35 L448.84 132.7 L449.01 116.35 L449.18 125.98 L449.35 121.38 L449.51 128.4 L449.68 126.17 L449.85 119.74 L450.02 115.69 L450.19 118.16 L450.36 121.78 L450.53 123.06 L450.7 116.92 L450.87 118.32 L451.04 119.89 L451.21 119.77 L451.38 123.69 L451.55 124.13 L451.72 122.36 L451.89 122.35 L452.05 120.22 L452.22 117.14 L452.39 115.1 L452.56 118.6 L452.73 121.99 L452.9 117.05 L453.07 120.34 L453.24 122.4 L453.41 120.6 L453.58 119.86 L453.75 118.77 L453.92 119.53 L454.09 119.19 L454.26 117.04 L454.43 119.44 L454.6 121.59 L454.76 123.03 L454.93 124.12 L455.1 123.28 L455.27 125.01 L455.44 121.78 L455.61 115.02 L455.78 112.92 L455.95 113.15 L456.12 121.07 L456.29 122.6 L456.46 125.1 L456.63 124.5 L456.8 117.1 L456.97 118.87 L457.14 119.23 L457.31 120.15 L457.47 122.1 L457.64 125.63 L457.81 123.89 L457.98 122.9 L458.15 118.45 L458.32 114.34 L458.49 120.78 L458.66 126.62 L458.83 127.95 L459 128.4 L459.17 127.72 L459.34 123.46 L459.51 120.56 L459.68 124.67 L459.85 126.63 L460.01 123.12 L460.18 123.77 L460.35 125.51 L460.52 119.51 L460.69 113.45 L460.86 120.1 L461.03 128.79 L461.2 128.2 L461.37 127.25 L461.54 124.02 L461.71 122.1 L461.88 118.97 L462.05 126.86 L462.22 131.32 L462.39 131.32 L462.56 123.49 L462.72 116.62 L462.89 121.08 L463.06 122.56 L463.23 120.56 L463.4 120.94 L463.57 122.75 L463.74 121.64 L463.91 117.1 L464.08 116.87 L464.25 118.1 L464.42 121.15 L464.59 124.45 L464.76 127.33 L464.93 124.61 L465.1 122.23 L465.26 121.34 L465.43 118.27 L465.6 117.23 L465.77 116.79 L465.94 124.53 L466.11 125.58 L466.28 125.58 L466.45 125.91 L466.62 126.3 L466.79 119.48 L466.96 114.08 L467.13 118.41 L467.3 126.6 L467.47 128.1 L467.64 126.55 L467.81 116.9 L467.97 119.47 L468.14 128.79 L468.31 130.85 L468.48 126.18 L468.65 120.09 L468.82 122.09 L468.99 116.65 L469.16 128.03 L469.33 108.7 L469.5 121.29 L469.67 127.15 L469.84 114.88 L470.01 135.7 L470.18 114.88 L470.35 127.15 L470.52 121.29 L470.68 117.77 L470.85 126.15 L471.02 130.72 L471.19 134.04 L471.36 134.64 L471.53 126.79 L471.7 114.67 L471.87 107.97 L472.04 109.02 L472.21 121.08 L472.38 133.35 L472.55 128.65 L472.72 119.75 L472.89 118.77 L473.06 116.91 L473.22 116.47 L473.39 128.06 L473.56 127.29 L473.73 122.73 L473.9 121.35 L474.07 122.71 L474.24 115.03 L474.41 107.72 L474.58 107.7 L474.75 118.34 L474.92 131.49 L475.09 128.53 L475.26 128.29 L475.43 127.17 L475.6 131.07 L475.77 119.32 L475.93 109.71 L476.1 122.36 L476.27 113.15 L476.44 132.42 L476.61 121.05 L476.78 130.26 L476.95 110.99 L477.12 143.7 L477.29 110.99 L477.46 130.26 L477.63 121.05 L477.8 120.11 L477.97 117.77 L478.14 120.9 L478.31 133.51 L478.48 121.17 L478.64 128.7 L478.81 112.94 L478.98 139.7 L479.15 112.94 L479.32 128.7 L479.49 121.17 L479.66 116.54 L479.83 122.49 L480 121.34 L480.17 127.62 L480.34 129.53 L480.51 129.34 L480.68 126.23 L480.85 117.67 L481.02 118.32 L481.18 118.15 L481.35 117.04 L481.52 127.47 L481.69 135.2 L481.86 133 L482.03 127.45 L482.2 119.16 L482.37 125.56 L482.54 123.15 L482.71 117.42 L482.88 117.66 L483.05 127.1 L483.22 128.9 L483.39 122.3 L483.56 113.93 L483.73 131.44 L483.89 101.7 L484.06 131.44 L484.23 113.93 L484.4 122.3 L484.57 135.9 L484.74 120.87 L484.91 132.59 L485.08 108.07 L485.25 149.5 L485.42 108.07 L485.59 132.59 L485.76 120.87 L485.93 122.51 L486.1 111.21 L486.27 134.85 L486.44 94.7 L486.6 134.85 L486.77 121.11 L486.94 129.48 L487.11 111.96 L487.28 141.7 L487.45 121.23 L487.62 127.92 L487.79 113.91 L487.96 137.7 L488.13 113.91 L488.3 127.92 L488.47 121.23 L488.64 135.6 L488.81 121.11 L488.98 120.12 L489.14 123.09 L489.31 122.55 L489.48 119.02 L489.65 111.14 L489.82 121.54 L489.99 127.18 L490.16 123.01 L490.33 125.94 L490.5 125.02 L490.67 113.69 L490.84 107.57 L491.01 109.68 L491.18 130.45 L491.35 134.86 L491.52 129.23 L491.69 121.69 L491.85 117.77 L492.02 108.6 L492.19 109.23 L492.36 123.49 L492.53 129.08 L492.7 128.89 L492.87 125.45 L493.04 121.6 L493.21 116.54 L493.38 116 L493.55 123.86 L493.72 127.1 L493.89 123.86 L494.06 122.38 L494.23 116.95 L494.4 113.94 L494.56 120.78 L494.73 124.13 L494.9 116.98 L495.07 110.35 L495.24 113.99 L495.41 117.57 L495.58 124.58 L495.75 132.03 L495.92 127.73 L496.09 120.62 L496.26 115.35 L496.43 116.44 L496.6 119.15 L496.77 124.23 L496.94 123.71 L497.1 119.13 L497.27 118.36 L497.44 117 L497.61 125.78 L497.78 130.99 L497.95 122.86 L498.12 110.66 L498.29 110.06 L498.46 117.15 L498.63 128.82 L498.8 129.53 L498.97 122.12 L499.14 123.29 L499.31 120.73 L499.48 117.87 L499.65 116.88 L499.81 123.98 L499.98 124.34 L500.15 129 L500.32 120.98 L500.49 116.27 L500.66 121.88 L500.83 119.28 L501 114.76 L501.17 119.09 L501.34 113.72 L501.51 120.12 L501.68 123.41 L501.85 119 L502.02 128.11 L502.19 124.79 L502.36 121.34 L502.52 119.7 L502.69 124.67 L502.86 124.26 L503.03 127.07 L503.2 129.5 L503.37 127.78 L503.54 128.02 L503.71 117.95 L503.88 120.03 L504.05 125.33 L504.22 127.16 L504.39 124.89 L504.56 118.21 L504.73 113.03 L504.9 116.82 L505.06 123.71 L505.23 126.05 L505.4 121.24 L505.57 115.82 L505.74 118.61 L505.91 131.52 L506.08 123.02 L506.25 112.94 L506.42 111.24 L506.59 115.58 L506.76 124.01 L506.93 131.58 L507.1 130.97 L507.27 125.93 L507.44 123.12 L507.61 127.22 L507.77 127.62 L507.94 121.36 L508.11 120.36 L508.28 120.52 L508.45 131.22 L508.62 131.99 L508.79 126.69 L508.96 126.32 L509.13 131.33 L509.3 126.3 L509.47 124.41 L509.64 119.23 L509.81 119.94 L509.98 118.5 L510.15 121.28 L510.32 130.12 L510.48 130.35 L510.65 126.55 L510.82 118.17 L510.99 117.84 L511.16 121.94 L511.33 119.98 L511.5 114.42 L511.67 112 L511.84 111.72 L512.01 115.57 L512.18 117.69 L512.35 117.01 L512.52 117.41 L512.69 120.12 L512.86 121.83 L513.02 110.52 L513.19 111.19 L513.36 119.31 L513.53 127.19 L513.7 128.55 L513.87 123.58 L514.04 125.35 L514.21 133.57 L514.38 129.52 L514.55 130 L514.72 123.88 L514.89 118.4 L515.06 111.76 L515.23 106.49 L515.4 110.92 L515.57 123.1 L515.73 134.32 L515.9 136.18 L516.07 128.33 L516.24 129.23 L516.41 124.78 L516.58 120.38 L516.75 116.12 L516.92 118.75 L517.09 121.56 L517.26 126.28 L517.43 127.99 L517.6 132.38 L517.77 127.73 L517.94 114.8 L518.11 111.51 L518.27 114.66 L518.44 124.69 L518.61 122.69 L518.78 124.02 L518.95 120.14 L519.12 118.44 L519.29 123.4 L519.46 121 L519.63 120 L519.8 119.74 L519.97 119.03 L520.14 120.35 L520.31 123.55 L520.48 122.26 L520.65 122.93 L520.82 122.23 L520.98 124.35 L521.15 130.26 L521.32 131.45 L521.49 128.1 L521.66 122.06 L521.83 112.63 L522 121.05 L522.17 125.54 L522.34 135.92 L522.51 136.02 L522.68 131.07 L522.85 132.26 L523.02 134.79 L523.19 127.33 L523.36 119.42 L523.53 116.97 L523.69 122.21 L523.86 115.09 L524.03 116.09 L524.2 123.88 L524.37 119.46 L524.54 115.62 L524.71 118.89 L524.88 117.09 L525.05 118.29 L525.22 118.28 L525.39 119.28 L525.56 126.04 L525.73 122.77 L525.9 119.57 L526.07 123.52 L526.23 127.55 L526.4 122.29 L526.57 120.47 L526.74 119.99 L526.91 118.08 L527.08 118.72 L527.25 127.47 L527.42 126.06 L527.59 118.53 L527.76 112.5 L527.93 122.24 L528.1 114.71 L528.27 130.47 L528.44 103.7 L528.61 130.47 L528.78 114.71 L528.94 121.17 L529.11 128.7 L529.28 112.94 L529.45 139.7 L529.62 112.94 L529.79 128.7 L529.96 121.17 L530.13 118.56 L530.3 118.52 L530.47 115.47 L530.64 115.87 L530.81 122.12 L530.98 123.69 L531.15 120.65 L531.32 122.27 L531.49 124.35 L531.65 125.17 L531.82 125.51 L531.99 122.17 L532.16 116.52 L532.33 111.45 L532.5 111.66 L532.67 113.98 L532.84 117.12 L533.01 117.47 L533.18 121.54 L533.35 121.68 L533.52 120.74 L533.69 121.23 L533.86 123.26 L534.03 124.99 L534.19 124.8 L534.36 126.88 L534.53 122.98 L534.7 120.07 L534.87 119.02 L535.04 119.01 L535.21 118.27 L535.38 121.96 L535.55 124.22 L535.72 129.36 L535.89 132.06 L536.06 132.1 L536.23 122.77 L536.4 120.56 L536.57 118.43 L536.74 114.14 L536.9 118.04 L537.07 116.79 L537.24 112.67 L537.41 112.77 L537.58 111.03 L537.75 114.01 L537.92 123.22 L538.09 125.66 L538.26 126.08 L538.43 127.8 L538.6 129.15 L538.77 117.72 L538.94 115.71 L539.11 118.29 L539.28 124.05 L539.45 121.26 L539.61 127.53 L539.78 114.4 L539.95 136.7 L540.12 114.4 L540.29 127.53 L540.46 121.26 L540.63 112.65 L540.8 112.07" fill="none" stroke="#0000ff" stroke-width="0.8" stroke-linejoin="round" />
<path d="M31.3 197.6 L31.5 196.73 L31.7 196.1 L31.9 195.67 L32.1 195.4 L32.3 195.26 L32.5 195.2 L32.7 195.29 L32.9 195.97 L33.1 197.13 L33.3 198.58 L33.5 200.12 L33.7 201.57 L33.9 202.73 L34.1 203.41 L34.3 203.36 L34.5 202.39 L34.7 200.83 L34.9 199.07 L35.1 197.51 L35.3 196.54 L35.5 196.64 L35.7 198.24 L35.9 200.76 L36.1 203.46 L36.3 205.62 L36.5 206.5 L36.7 205.49 L36.9 202.95 L37.1 199.65 L37.3 196.35 L37.5 193.81 L37.7 192.8 L37.9 193.86 L38.1 196.51 L38.3 199.95 L38.5 203.39 L38.7 206.04 L38.9 207.1 L39.1 206.35 L39.3 204.48 L39.5 202.05 L39.7 199.62 L39.9 197.75 L40.1 197 L40.3 197.57 L40.5 199 L40.7 200.85 L40.9 202.7 L41.1 204.13 L41.3 204.7 L41.5 204.09 L41.7 202.55 L41.9 200.55 L42.1 198.55 L42.3 197.01 L42.5 196.4 L42.7 196.97 L42.9 198.4 L43.1 200.25 L43.3 202.1 L43.5 203.53 L43.7 204.1 L43.9 203.53 L44.1 202.1 L44.3 200.25 L44.5 198.4 L44.7 196.97 L44.9 196.4 L45.1 196.97 L45.3 198.4 L45.5 200.25 L45.7 202.1 L45.9 203.53 L46.1 204.1 L46.3 203.57 L46.5 202.26 L46.7 200.55 L46.9 198.84 L47.1 197.53 L47.3 197 L47.5 197.57 L47.7 199 L47.9 200.85 L48.1 202.7 L48.3 204.13 L48.5 204.7 L48.7 203.98 L48.9 202.21 L49.1 199.99 L49.3 197.92 L49.5 196.59 L49.7 196.56 L49.9 197.7 L50.1 199.52 L50.3 201.58 L50.5 203.4 L50.7 204.54 L50.9 204.55 L51.1 203.5 L51.3 201.8 L51.5 199.9 L51.7 198.2 L51.9 197.15 L52.1 197.15 L52.3 198.2 L52.5 199.9 L52.7 201.8 L52.9 203.5 L53.1 204.55 L53.3 204.52 L53.5 203.31 L53.7 201.35 L53.9 199.15 L54.1 197.19 L54.3 195.98 L54.5 195.98 L54.7 197.19 L54.9 199.15 L55.1 201.35 L55.3 203.31 L55.5 204.52 L55.7 204.61 L55.9 203.95 L56.1 202.79 L56.3 201.31 L56.5 199.65 L56.7 197.99 L56.9 196.51 L57.1 195.35 L57.3 194.69 L57.5 194.66 L57.7 195.14 L57.9 196 L58.1 197.17 L58.3 198.56 L58.5 200.07 L58.7 201.63 L58.9 203.14 L59.1 204.53 L59.3 205.7 L59.5 206.56 L59.7 207.04 L59.9 207.02 L60.1 206.42 L60.3 205.37 L60.5 204.04 L60.7 202.58 L60.9 201.17 L61.1 199.96 L61.3 199.12 L61.5 198.8 L61.7 199.14 L61.9 199.93 L62.1 200.8 L62.3 201.41 L62.5 201.47 L62.7 201.24 L62.9 200.92 L63.1 200.63 L63.3 200.5 L63.5 200.55 L63.7 200.68 L63.9 200.85 L64.1 201.02 L64.3 201.15 L64.5 201.2 L64.7 201.13 L64.9 200.94 L65.1 200.7 L65.3 200.46 L65.5 200.27 L65.7 200.2 L65.9 200.3 L66.1 200.54 L66.3 200.85 L66.5 201.16 L66.7 201.4 L66.9 201.5 L67.1 201.31 L67.3 200.79 L67.5 200.01 L67.7 199.06 L67.9 198.02 L68.1 196.95 L68.3 195.94 L68.5 195.07 L68.7 194.42 L68.9 194.05 L69.1 194.17 L69.3 195.43 L69.5 197.61 L69.7 200.38 L69.9 203.41 L70.1 206.36 L70.3 208.88 L70.5 210.64 L70.7 211.3 L70.9 210.52 L71.1 208.46 L71.3 205.5 L71.5 202.04 L71.7 198.49 L71.9 195.24 L72.1 192.67 L72.3 191.2 L72.5 191.23 L72.7 192.86 L72.9 195.64 L73.1 199.06 L73.3 202.6 L73.5 205.76 L73.7 208.03 L73.9 208.9 L74.1 208.26 L74.3 206.57 L74.5 204.19 L74.7 201.45 L74.9 198.71 L75.1 196.33 L75.3 194.64 L75.5 194 L75.7 194.69 L75.9 196.48 L76.1 198.92 L76.3 201.58 L76.5 204.02 L76.7 205.81 L76.9 206.5 L77.1 205.62 L77.3 203.41 L77.5 200.55 L77.7 197.69 L77.9 195.48 L78.1 194.6 L78.3 195.33 L78.5 197.2 L78.7 199.76 L78.9 202.54 L79.1 205.1 L79.3 206.97 L79.5 207.7 L79.7 207.42 L79.9 206.66 L80.1 205.53 L80.3 204.12 L80.5 202.56 L80.7 200.94 L80.9 199.38 L81.1 197.97 L81.3 196.84 L81.5 196.08 L81.7 195.8 L81.9 196.03 L82.1 196.63 L82.3 197.51 L82.5 198.55 L82.7 199.65 L82.9 200.69 L83.1 201.57 L83.3 202.17 L83.5 202.4 L83.7 202.23 L83.9 201.77 L84.1 201.13 L84.3 200.42 L84.5 199.73 L84.7 199.17 L84.9 198.85 L85.1 198.86 L85.3 199.27 L85.5 199.93 L85.7 200.67 L85.9 201.33 L86.1 201.74 L86.3 201.77 L86.5 201.52 L86.7 201.1 L86.9 200.6 L87.1 200.1 L87.3 199.68 L87.5 199.43 L87.7 199.41 L87.9 199.48 L88.1 199.62 L88.3 199.8 L88.5 200.02 L88.7 200.27 L88.9 200.54 L89.1 200.81 L89.3 201.07 L89.5 201.34 L89.7 201.67 L89.9 202.07 L90.1 202.5 L90.3 202.93 L90.5 203.33 L90.7 203.68 L90.9 203.94 L91.1 204.08 L91.3 203.93 L91.5 202.69 L91.7 200.63 L91.9 198.15 L92.1 195.67 L92.3 193.61 L92.5 192.37 L92.7 192.36 L92.9 193.52 L93.1 195.52 L93.3 198.02 L93.5 200.68 L93.7 203.18 L93.9 205.18 L94.1 206.34 L94.3 206.31 L94.5 204.95 L94.7 202.64 L94.9 199.79 L95.1 196.84 L95.3 194.21 L95.5 192.32 L95.7 191.6 L95.9 192.62 L96.1 195.27 L96.3 198.88 L96.5 202.82 L96.7 206.43 L96.9 209.08 L97.1 210.1 L97.3 209.57 L97.5 208.14 L97.7 206.08 L97.9 203.64 L98.1 201.06 L98.3 198.62 L98.5 196.56 L98.7 195.13 L98.9 194.6 L99.1 195.42 L99.3 197.42 L99.5 199.94 L99.7 202.28 L99.9 203.78 L100.1 203.86 L100.3 202.91 L100.5 201.37 L100.7 199.63 L100.9 198.09 L101.1 197.14 L101.3 197.16 L101.5 198.32 L101.7 200.32 L101.9 202.82 L102.1 205.48 L102.3 207.98 L102.5 209.98 L102.7 211.14 L102.9 211.04 L103.1 209.19 L103.3 205.96 L103.5 201.85 L103.7 197.37 L103.9 193.02 L104.1 189.28 L104.3 186.68 L104.5 185.7 L104.7 187.2 L104.9 191.12 L105.1 196.58 L105.3 202.69 L105.5 208.59 L105.7 213.39 L105.9 216.21 L106.1 216.19 L106.3 213.31 L106.5 208.47 L106.7 202.65 L106.9 196.83 L107.1 191.99 L107.3 189.11 L107.5 188.97 L107.7 190.86 L107.9 194.09 L108.1 198.06 L108.3 202.18 L108.5 205.85 L108.7 208.49 L108.9 209.5 L109.1 208.83 L109.3 207.08 L109.5 204.6 L109.7 201.75 L109.9 198.9 L110.1 196.42 L110.3 194.67 L110.5 194 L110.7 194.96 L110.9 197.43 L111.1 200.81 L111.3 204.49 L111.5 207.87 L111.7 210.34 L111.9 211.3 L112.1 209.85 L112.3 206.11 L112.5 200.99 L112.7 195.41 L112.9 190.29 L113.1 186.55 L113.3 185.1 L113.5 187.57 L113.7 193.73 L113.9 201.75 L114.1 209.77 L114.3 215.93 L114.5 218.4 L114.7 216.16 L114.9 210.48 L115.1 202.87 L115.3 194.88 L115.5 188.04 L115.7 183.89 L115.9 183.66 L116.1 186.21 L116.3 190.56 L116.5 195.9 L116.7 201.44 L116.9 206.39 L117.1 209.94 L117.3 211.3 L117.5 209.89 L117.7 206.35 L117.9 201.75 L118.1 197.15 L118.3 193.61 L118.5 192.2 L118.7 193.41 L118.9 196.59 L119.1 201 L119.3 205.95 L119.5 210.72 L119.7 214.6 L119.9 216.88 L120.1 216.95 L120.3 215.07 L120.5 211.72 L120.7 207.31 L120.9 202.27 L121.1 197.03 L121.3 191.99 L121.5 187.58 L121.7 184.23 L121.9 182.35 L122.1 182.41 L122.3 184.66 L122.5 188.61 L122.7 193.69 L122.9 199.35 L123.1 205.01 L123.3 210.09 L123.5 214.04 L123.7 216.29 L123.9 216.3 L124.1 214.14 L124.3 210.41 L124.5 205.74 L124.7 200.76 L124.9 196.09 L125.1 192.36 L125.3 190.2 L125.5 190.09 L125.7 191.45 L125.9 193.72 L126.1 196.45 L126.3 199.18 L126.5 201.45 L126.7 202.81 L126.9 202.96 L127.1 202.64 L127.3 202.06 L127.5 201.27 L127.7 200.34 L127.9 199.32 L128.1 198.28 L128.3 197.26 L128.5 196.33 L128.7 195.54 L128.9 194.96 L129.1 194.64 L129.3 194.76 L129.5 195.9 L129.7 197.84 L129.9 200.23 L130.1 202.7 L130.3 204.91 L130.5 206.49 L130.7 207.1 L130.9 206.96 L131.1 206.56 L131.3 205.96 L131.5 205.21 L131.7 204.38 L131.9 203.5 L132.1 202.23 L132.3 200.32 L132.5 198 L132.7 195.5 L132.9 193.04 L133.1 190.86 L133.3 189.18 L133.5 188.23 L133.7 188.32 L133.9 189.91 L134.1 192.69 L134.3 196.22 L134.5 200.07 L134.7 203.81 L134.9 207.02 L135.1 209.26 L135.3 210.1 L135.5 209.43 L135.7 207.63 L135.9 205.02 L136.1 201.93 L136.3 198.67 L136.5 195.58 L136.7 192.97 L136.9 191.17 L137.1 190.5 L137.3 191.28 L137.5 193.31 L137.7 196.13 L137.9 199.3 L138.1 202.35 L138.3 204.84 L138.5 206.3 L138.7 206.36 L138.9 205.38 L139.1 203.73 L139.3 201.75 L139.5 199.77 L139.7 198.12 L139.9 197.14 L140.1 197.07 L140.3 197.56 L140.5 198.4 L140.7 199.43 L140.9 200.5 L141.1 201.45 L141.3 202.14 L141.5 202.4 L141.7 202.19 L141.9 201.6 L142.1 200.73 L142.3 199.67 L142.5 198.5 L142.7 197.31 L142.9 196.18 L143.1 195.2 L143.3 194.47 L143.5 194.06 L143.7 194.1 L143.9 194.83 L144.1 196.13 L144.3 197.86 L144.5 199.86 L144.7 201.98 L144.9 204.06 L145.1 205.95 L145.3 207.48 L145.5 208.52 L145.7 208.9 L145.9 208.57 L146.1 207.66 L146.3 206.24 L146.5 204.41 L146.7 202.26 L146.9 199.89 L147.1 197.38 L147.3 194.82 L147.5 192.31 L147.7 189.94 L147.9 187.79 L148.1 185.96 L148.3 184.54 L148.5 183.63 L148.7 183.3 L148.9 184.59 L149.1 188.03 L149.3 193.02 L149.5 198.94 L149.7 205.16 L149.9 211.08 L150.1 216.07 L150.3 219.51 L150.5 220.8 L150.7 219.51 L150.9 216.07 L151.1 211.08 L151.3 205.16 L151.5 198.94 L151.7 193.02 L151.9 188.03 L152.1 184.59 L152.3 183.3 L152.5 184.78 L152.7 188.63 L152.9 194 L153.1 200.02 L153.3 205.82 L153.5 210.54 L153.7 213.31 L153.9 213.44 L154.1 211.59 L154.3 208.48 L154.5 204.75 L154.7 201.02 L154.9 197.91 L155.1 196.06 L155.3 196.01 L155.5 197.47 L155.7 199.82 L155.9 202.48 L156.1 204.83 L156.3 206.29 L156.5 206.22 L156.7 204.26 L156.9 200.96 L157.1 197 L157.3 193.04 L157.5 189.74 L157.7 187.78 L157.9 187.72 L158.1 189.3 L158.3 192.14 L158.5 195.87 L158.7 200.13 L158.9 204.57 L159.1 208.83 L159.3 212.56 L159.5 215.4 L159.7 216.98 L159.9 216.86 L160.1 214.4 L160.3 210.17 L160.5 204.88 L160.7 199.22 L160.9 193.93 L161.1 189.7 L161.3 187.24 L161.5 187.03 L161.7 188.02 L161.9 189.79 L162.1 192.16 L162.3 194.93 L162.5 197.9 L162.7 200.87 L162.9 203.64 L163.1 206.01 L163.3 207.78 L163.5 208.77 L163.7 208.77 L163.9 207.8 L164.1 206.09 L164.3 203.89 L164.5 201.45 L164.7 199.01 L164.9 196.81 L165.1 195.1 L165.3 194.13 L165.5 194.14 L165.7 195.18 L165.9 196.93 L166.1 199.09 L166.3 201.32 L166.5 203.32 L166.7 204.75 L166.9 205.3 L167.1 204.98 L167.3 204.14 L167.5 202.93 L167.7 201.52 L167.9 200.06 L168.1 198.73 L168.3 197.68 L168.5 197.08 L168.7 197.08 L168.9 197.66 L169.1 198.63 L169.3 199.84 L169.5 201.08 L169.7 202.19 L169.9 202.99 L170.1 203.3 L170.3 203.06 L170.5 202.42 L170.7 201.54 L170.9 200.55 L171.1 199.6 L171.3 198.82 L171.5 198.36 L171.7 198.36 L171.9 198.78 L172.1 199.51 L172.3 200.42 L172.5 201.38 L172.7 202.29 L172.9 203.02 L173.1 203.44 L173.3 203.41 L173.5 202.8 L173.7 201.78 L173.9 200.55 L174.1 199.32 L174.3 198.3 L174.5 197.69 L174.7 197.68 L174.9 198.21 L175.1 199.13 L175.3 200.26 L175.5 201.42 L175.7 202.47 L175.9 203.21 L176.1 203.5 L176.3 203.07 L176.5 201.92 L176.7 200.3 L176.9 198.45 L177.1 196.6 L177.3 194.98 L177.5 193.83 L177.7 193.4 L177.9 194.46 L178.1 197.11 L178.3 200.55 L178.5 203.99 L178.7 206.64 L178.9 207.7 L179.1 206.64 L179.3 203.99 L179.5 200.55 L179.7 197.11 L179.9 194.46 L180.1 193.4 L180.3 193.94 L180.5 195.35 L180.7 197.36 L180.9 199.65 L181.1 201.94 L181.3 203.95 L181.5 205.36 L181.7 205.9 L181.9 205.41 L182.1 204.14 L182.3 202.4 L182.5 200.5 L182.7 198.76 L182.9 197.49 L183.1 197 L183.3 197.39 L183.5 198.41 L183.7 199.79 L183.9 201.31 L184.1 202.69 L184.3 203.71 L184.5 204.1 L184.7 203.74 L184.9 202.8 L185.1 201.47 L185.3 199.95 L185.5 198.43 L185.7 197.1 L185.9 196.16 L186.1 195.8 L186.3 196.34 L186.5 197.66 L186.7 199.32 L186.9 200.87 L187.1 201.86 L187.3 201.68 L187.5 199.61 L187.7 196.64 L187.9 193.96 L188.1 192.8 L188.3 193.95 L188.5 196.82 L188.7 200.55 L188.9 204.28 L189.1 207.15 L189.3 208.3 L189.5 207.88 L189.7 206.73 L189.9 205.06 L190.1 203.06 L190.3 200.91 L190.5 198.81 L190.7 196.95 L190.9 195.52 L191.1 194.71 L191.3 194.72 L191.5 195.58 L191.7 197.08 L191.9 198.99 L192.1 201.07 L192.3 203.1 L192.5 204.83 L192.7 206.04 L192.9 206.5 L193.1 205.95 L193.3 204.52 L193.5 202.52 L193.7 200.29 L193.9 198.13 L194.1 196.38 L194.3 195.34 L194.5 195.27 L194.7 195.81 L194.9 196.78 L195.1 198.05 L195.3 199.5 L195.5 201 L195.7 202.45 L195.9 203.72 L196.1 204.69 L196.3 205.23 L196.5 205.29 L196.7 205.18 L196.9 204.97 L197.1 204.67 L197.3 204.31 L197.5 203.88 L197.7 203.4 L197.9 202.88 L198.1 202.34 L198.3 201.78 L198.5 201.17 L198.7 200.26 L198.9 199.07 L199.1 197.72 L199.3 196.28 L199.5 194.84 L199.7 193.51 L199.9 192.38 L200.1 191.53 L200.3 191.06 L200.5 191.28 L200.7 193.3 L200.9 196.73 L201.1 200.95 L201.3 205.32 L201.5 209.22 L201.7 212.03 L201.9 213.1 L202.1 212.1 L202.3 209.43 L202.5 205.61 L202.7 201.15 L202.9 196.57 L203.1 192.37 L203.3 189.06 L203.5 187.16 L203.7 187.01 L203.9 187.84 L204.1 189.39 L204.3 191.52 L204.5 194.12 L204.7 197.06 L204.9 200.21 L205.1 203.46 L205.3 206.68 L205.5 209.75 L205.7 212.53 L205.9 214.91 L206.1 216.77 L206.3 217.97 L206.5 218.4 L206.7 217.54 L206.9 215.18 L207.1 211.68 L207.3 207.39 L207.5 202.66 L207.7 197.84 L207.9 193.29 L208.1 189.35 L208.3 186.38 L208.5 184.72 L208.7 184.62 L208.9 185.5 L209.1 187.1 L209.3 189.27 L209.5 191.84 L209.7 194.65 L209.9 197.55 L210.1 200.36 L210.3 202.93 L210.5 205.1 L210.7 206.7 L210.9 207.58 L211.1 207.48 L211.3 205.94 L211.5 203.36 L211.7 200.25 L211.9 197.14 L212.1 194.56 L212.3 193.02 L212.5 193 L212.7 194.41 L212.9 196.82 L213.1 199.78 L213.3 202.84 L213.5 205.58 L213.7 207.55 L213.9 208.3 L214.1 207.71 L214.3 206.16 L214.5 203.97 L214.7 201.45 L214.9 198.93 L215.1 196.74 L215.3 195.19 L215.5 194.6 L215.7 195.11 L215.9 196.46 L216.1 198.37 L216.3 200.55 L216.5 202.73 L216.7 204.64 L216.9 205.99 L217.1 206.5 L217.3 206.27 L217.5 205.64 L217.7 204.67 L217.9 203.44 L218.1 202.01 L218.3 200.45 L218.5 198.85 L218.7 197.26 L218.9 195.76 L219.1 194.42 L219.3 193.31 L219.5 192.5 L219.7 192.06 L219.9 192.07 L220.1 192.57 L220.3 193.51 L220.5 194.82 L220.7 196.43 L220.9 198.26 L221.1 200.25 L221.3 202.33 L221.5 204.42 L221.7 206.46 L221.9 208.38 L222.1 210.11 L222.3 211.58 L222.5 212.71 L222.7 213.44 L222.9 213.7 L223.1 213.33 L223.3 212.28 L223.5 210.67 L223.7 208.6 L223.9 206.21 L224.1 203.58 L224.3 200.85 L224.5 198.12 L224.7 195.49 L224.9 193.1 L225.1 191.03 L225.3 189.42 L225.5 188.37 L225.7 188 L225.9 188.5 L226.1 189.87 L226.3 191.89 L226.5 194.34 L226.7 197 L226.9 199.66 L227.1 202.11 L227.3 204.13 L227.5 205.5 L227.7 206 L227.9 205.79 L228.1 205.2 L228.3 204.31 L228.5 203.21 L228.7 201.97 L228.9 200.67 L229.1 199.4 L229.3 198.22 L229.5 197.21 L229.7 196.47 L229.9 196.06 L230.1 196.17 L230.3 197.36 L230.5 199.35 L230.7 201.75 L230.9 204.15 L231.1 206.14 L231.3 207.33 L231.5 207.38 L231.7 206.46 L231.9 204.84 L232.1 202.74 L232.3 200.36 L232.5 197.93 L232.7 195.66 L232.9 193.77 L233.1 192.48 L233.3 192 L233.5 192.94 L233.7 195.39 L233.9 198.79 L234.1 202.61 L234.3 206.3 L234.5 209.29 L234.7 211.05 L234.9 211.06 L235.1 209.31 L235.3 206.27 L235.5 202.41 L235.7 198.19 L235.9 194.09 L236.1 190.57 L236.3 188.12 L236.5 187.2 L236.7 188.19 L236.9 190.83 L237.1 194.6 L237.3 199.01 L237.5 203.54 L237.7 207.7 L237.9 210.96 L238.1 212.84 L238.3 212.99 L238.5 212.15 L238.7 210.64 L238.9 208.6 L239.1 206.21 L239.3 203.61 L239.5 200.98 L239.7 198.46 L239.9 196.22 L240.1 194.43 L240.3 193.23 L240.5 192.8 L240.7 193.21 L240.9 194.31 L241.1 195.92 L241.3 197.85 L241.5 199.92 L241.7 201.95 L241.9 203.74 L242.1 205.12 L242.3 205.89 L242.5 205.83 L242.7 204.62 L242.9 202.52 L243.1 199.9 L243.3 197.1 L243.5 194.48 L243.7 192.38 L243.9 191.17 L244.1 191.17 L244.3 192.4 L244.5 194.59 L244.7 197.48 L244.9 200.78 L245.1 204.22 L245.3 207.52 L245.5 210.41 L245.7 212.6 L245.9 213.83 L246.1 213.64 L246.3 211.09 L246.5 206.74 L246.7 201.4 L246.9 195.86 L247.1 190.91 L247.3 187.36 L247.5 186 L247.7 187.23 L247.9 190.44 L248.1 194.91 L248.3 199.91 L248.5 204.74 L248.7 208.67 L248.9 210.98 L249.1 211.04 L249.3 209.23 L249.5 206.25 L249.7 202.77 L249.9 199.45 L250.1 196.97 L250.3 196 L250.5 196.07 L250.7 196.37 L250.9 197.03 L251.1 198.19 L251.3 200 L251.3 200" fill="none" stroke="#4040ff" stroke-width="1.1" stroke-linejoin="round" />
<path d="M320.8 51.38 L320.97 50.17 L321.14 50.89 L321.31 47.92 L321.48 49.82 L321.65 47.54 L321.82 48.09 L321.99 47.39 L322.15 47.42 L322.32 47.54 L322.49 46.07 L322.66 44.81 L322.83 45.11 L323 45.14 L323.17 45.99 L323.34 46.4 L323.51 47.58 L323.68 46.76 L323.85 46 L324.02 44.94 L324.19 44.62 L324.36 44.92 L324.53 45.77 L324.7 45.51 L324.86 44.74 L325.03 44.51 L325.2 45.61 L325.37 45.5 L325.54 45.16 L325.71 46.05 L325.88 46.74 L326.05 46.91 L326.22 46.81 L326.39 46.37 L326.56 45.05 L326.73 45.8 L326.9 45.83 L327.07 45.82 L327.24 46.63 L327.41 46.65 L327.57 46.3 L327.74 46.15 L327.91 47.26 L328.08 48.03 L328.25 50.21 L328.42 50.58 L328.59 49.9 L328.76 48.96 L328.93 48.77 L329.1 48.46 L329.27 47.27 L329.44 47.66 L329.61 47.19 L329.78 47.99 L329.95 48.29 L330.11 48.21 L330.28 47.04 L330.45 46.63 L330.62 46.87 L330.79 47.33 L330.96 46.26 L331.13 45.33 L331.3 44.7 L331.47 44.9 L331.64 44.02 L331.81 42.72 L331.98 41.99 L332.15 41.03 L332.32 40.66 L332.49 41.1 L332.66 41.71 L332.82 42.99 L332.99 43.52 L333.16 43.25 L333.33 42.35 L333.5 41.96 L333.67 41.54 L333.84 41.14 L334.01 41.74 L334.18 41.86 L334.35 42.13 L334.52 41.69 L334.69 42.49 L334.86 41.61 L335.03 44.29 L335.2 42.67 L335.37 44.3 L335.53 44.42 L335.7 44.75 L335.87 45.95 L336.04 45.41 L336.21 44.38 L336.38 43.74 L336.55 42.72 L336.72 43.43 L336.89 44 L337.06 43.96 L337.23 43.12 L337.4 42.82 L337.57 43.5 L337.74 43.81 L337.91 43.46 L338.07 43.93 L338.24 42.63 L338.41 43.63 L338.58 42.6 L338.75 41.12 L338.92 40.3 L339.09 39.78 L339.26 39.93 L339.43 40.82 L339.6 40.52 L339.77 40.42 L339.94 40.85 L340.11 40.63 L340.28 41.25 L340.45 40.69 L340.62 39.93 L340.78 38.74 L340.95 38.3 L341.12 39.2 L341.29 38.9 L341.46 37.89 L341.63 37.56 L341.8 38.62 L341.97 37.85 L342.14 37.65 L342.31 38.74 L342.48 38.7 L342.65 39.7 L342.82 39.74 L342.99 39.81 L343.16 38.98 L343.33 39.16 L343.49 38.24 L343.66 38.44 L343.83 37.85 L344 37.8 L344.17 37.32 L344.34 37.44 L344.51 38.64 L344.68 38.13 L344.85 39.44 L345.02 37.67 L345.19 38.75 L345.36 37.64 L345.53 38.19 L345.7 38.19 L345.87 36.8 L346.03 36.25 L346.2 35.16 L346.37 34.17 L346.54 34.44 L346.71 34.18 L346.88 34.72 L347.05 34.68 L347.22 33.57 L347.39 32.89 L347.56 32.57 L347.73 33.65 L347.9 35.84 L348.07 35.85 L348.24 36.26 L348.41 36.53 L348.58 36.05 L348.74 36 L348.91 35.46 L349.08 35.44 L349.25 36.12 L349.42 36.81 L349.59 37.13 L349.76 37.83 L349.93 36.54 L350.1 35.11 L350.27 34.12 L350.44 34.16 L350.61 34.53 L350.78 34.6 L350.95 35.23 L351.12 34.2 L351.28 32.81 L351.45 32.02 L351.62 32.36 L351.79 33.61 L351.96 33.27 L352.13 31.74 L352.3 32.7 L352.47 33.22 L352.64 32.24 L352.81 30.59 L352.98 31.34 L353.15 31.86 L353.32 31.32 L353.49 30.09 L353.66 29.55 L353.83 29.99 L353.99 31.17 L354.16 29.78 L354.33 29.54 L354.5 29.6 L354.67 29.03 L354.84 29.7 L355.01 29.84 L355.18 28.86 L355.35 29.38 L355.52 28.22 L355.69 27.68 L355.86 26.37 L356.03 24.73 L356.2 25.13 L356.37 26.38 L356.54 25.37 L356.7 26.21 L356.87 25.97 L357.04 24.12 L357.21 22.59 L357.38 21.01 L357.55 20.87 L357.72 22.95 L357.89 23.54 L358.06 22.17 L358.23 22.45 L358.4 21.57 L358.57 22.64 L358.74 23.92 L358.91 23.25 L359.08 22.93 L359.24 24.44 L359.41 25.61 L359.58 26.66 L359.75 26.86 L359.92 29.21 L360.09 27.79 L360.26 29.54 L360.43 29.02 L360.6 30.09 L360.77 28.17 L360.94 28.49 L361.11 29.05 L361.28 28.61 L361.45 28.19 L361.62 27.73 L361.79 27.66 L361.95 27.03 L362.12 26.53 L362.29 26.87 L362.46 27.98 L362.63 29.51 L362.8 30.16 L362.97 30.47 L363.14 31.4 L363.31 30.49 L363.48 30.98 L363.65 30.02 L363.82 29.61 L363.99 29.4 L364.16 28.9 L364.33 28.26 L364.5 27.27 L364.66 27.16 L364.83 27.14 L365 27.59 L365.17 25.95 L365.34 26.09 L365.51 26.85 L365.68 28.42 L365.85 29.45 L366.02 29.21 L366.19 29.68 L366.36 28.66 L366.53 29.55 L366.7 29.98 L366.87 29.46 L367.04 30.09 L367.2 29.59 L367.37 29.77 L367.54 29.03 L367.71 28.49 L367.88 29.36 L368.05 30.17 L368.22 30.52 L368.39 30.81 L368.56 31.7 L368.73 31.93 L368.9 32.9 L369.07 33.79 L369.24 33.68 L369.41 34.86 L369.58 35.02 L369.75 34.5 L369.91 32.87 L370.08 34.55 L370.25 35.21 L370.42 34.81 L370.59 35.45 L370.76 35.06 L370.93 34.24 L371.1 33.82 L371.27 34.83 L371.44 35.51 L371.61 35.6 L371.78 36.16 L371.95 36.71 L372.12 37.4 L372.29 38.38 L372.46 39.4 L372.62 39.02 L372.79 38.85 L372.96 38.48 L373.13 38.96 L373.3 40.86 L373.47 40.79 L373.64 40.64 L373.81 39.76 L373.98 39.37 L374.15 39.56 L374.32 39.92 L374.49 40.31 L374.66 40.21 L374.83 40.62 L375 41.19 L375.16 41.18 L375.33 41.71 L375.5 43.05 L375.67 42.21 L375.84 42.36 L376.01 41.43 L376.18 42.3 L376.35 42.86 L376.52 42.24 L376.69 42.64 L376.86 43.71 L377.03 44.41 L377.2 45.28 L377.37 44.69 L377.54 44.44 L377.71 44.77 L377.87 45.09 L378.04 46.24 L378.21 47.43 L378.38 47.69 L378.55 47.69 L378.72 48.51 L378.89 48.1 L379.06 48.85 L379.23 49.6 L379.4 49.48 L379.57 49.2 L379.74 49.64 L379.91 50.43 L380.08 51.25 L380.25 51.61 L380.42 51.46 L380.58 50.96 L380.75 51.63 L380.92 52 L381.09 52.38 L381.26 52.9 L381.43 52.06 L381.6 51.04 L381.77 48.98 L381.94 47.88 L382.11 47.05 L382.28 46.94 L382.45 48.34 L382.62 47.29 L382.79 49.81 L382.96 46.25 L383.12 50.92 L383.29 48.85 L383.46 50.59 L383.63 52.3 L383.8 49.88 L383.97 54.75 L384.14 50.43 L384.31 52.92 L384.48 51.03 L384.65 51.15 L384.82 52.85 L384.99 50.27 L385.16 53.49 L385.33 52.75 L385.5 54.79 L385.67 54.36 L385.83 57.19 L386 58.9 L386.17 59.64 L386.34 60.93 L386.51 62.13 L386.68 62.25 L386.85 62.08 L387.02 61.22 L387.19 61.29 L387.36 60.7 L387.53 60.13 L387.7 59.13 L387.87 59.89 L388.04 59.7 L388.21 59.22 L388.38 57.63 L388.54 56.56 L388.71 55.93 L388.88 56.32 L389.05 57.51 L389.22 58.25 L389.39 58.1 L389.56 58.26 L389.73 58.3 L389.9 57.42 L390.07 56.95 L390.24 58.3 L390.41 57.93 L390.58 57.44 L390.75 57.03 L390.92 56.53 L391.08 56.17 L391.25 56.76 L391.42 57.46 L391.59 58.03 L391.76 58.71 L391.93 58.9 L392.1 58.97 L392.27 59.42 L392.44 59.86 L392.61 59.31 L392.78 59.25 L392.95 58.84 L393.12 57.13 L393.29 55.94 L393.46 55.46 L393.63 54.74 L393.79 54.51 L393.96 54.55 L394.13 54.36 L394.3 54.87 L394.47 55.44 L394.64 56.84 L394.81 57.26 L394.98 59.6 L395.15 61.44 L395.32 61.25 L395.49 61.59 L395.66 61.91 L395.83 61.43 L396 61.59 L396.17 60.36 L396.34 58.43 L396.5 59.72 L396.67 55.65 L396.84 57.24 L397.01 58.35 L397.18 56.94 L397.35 60.55 L397.52 58.34 L397.69 60.83 L397.86 61.09 L398.03 62.3 L398.2 62.12 L398.37 62.25 L398.54 63.17 L398.71 63.69 L398.88 62.67 L399.04 61.66 L399.21 60.57 L399.38 60.1 L399.55 61.38 L399.72 60.99 L399.89 60.2 L400.06 59.21 L400.23 58.46 L400.4 58.41 L400.57 58.95 L400.74 60.06 L400.91 61.33 L401.08 61.63 L401.25 61.3 L401.42 61.12 L401.59 59.57 L401.75 59.5 L401.92 58.26 L402.09 58.29 L402.26 57.17 L402.43 56.73 L402.6 55.62 L402.77 54.53 L402.94 54.86 L403.11 55.78 L403.28 56.07 L403.45 58.16 L403.62 59.24 L403.79 60.85 L403.96 60.17 L404.13 61.06 L404.29 60.38 L404.46 57.93 L404.63 57.6 L404.8 54.78 L404.97 55.64 L405.14 51.32 L405.31 53.22 L405.48 51.93 L405.65 53.21 L405.82 51.9 L405.99 55.09 L406.16 53.67 L406.33 55.54 L406.5 55.59 L406.67 55.92 L406.84 55.19 L407 56.03 L407.17 55.14 L407.34 54.6 L407.51 54.71 L407.68 54.15 L407.85 53.27 L408.02 52.47 L408.19 52.26 L408.36 52.76 L408.53 53.64 L408.7 54.69 L408.87 54.99 L409.04 57.11 L409.21 57.23 L409.38 58.35 L409.55 57.65 L409.71 56.85 L409.88 57.28 L410.05 57.99 L410.22 56.06 L410.39 56.03 L410.56 53.43 L410.73 52.14 L410.9 49.71 L411.07 52.03 L411.24 50.35 L411.41 54.68 L411.58 47.87 L411.75 52.6 L411.92 51.26 L412.09 51.66 L412.25 54 L412.42 54.42 L412.59 56.12 L412.76 55.57 L412.93 59.89 L413.1 56.88 L413.27 58.93 L413.44 57.76 L413.61 55.96 L413.78 55.8 L413.95 53.54 L414.12 53.4 L414.29 52.89 L414.46 51.78 L414.63 49.69 L414.8 47.96 L414.96 46.53 L415.13 47.26 L415.3 47.58 L415.47 48.63 L415.64 47.28 L415.81 48.24 L415.98 48.05 L416.15 48.87 L416.32 48.76 L416.49 47.36 L416.66 47 L416.83 46.69 L417 47.77 L417.17 46.25 L417.34 46.18 L417.51 45.34 L417.67 44.7 L417.84 44.85 L418.01 41.26 L418.18 45.04 L418.35 41.93 L418.52 45.98 L418.69 44.76 L418.86 43.21 L419.03 46.06 L419.2 44.45 L419.37 46.04 L419.54 46.97 L419.71 48.71 L419.88 49.79 L420.05 49.95 L420.21 49.67 L420.38 49.28 L420.55 50.16 L420.72 50.12 L420.89 50.8 L421.06 49.51 L421.23 49.51 L421.4 50.08 L421.57 48.22 L421.74 48.79 L421.91 47.56 L422.08 47.01 L422.25 46.8 L422.42 46.7 L422.59 47.01 L422.76 45.89 L422.92 44.88 L423.09 45.77 L423.26 44.32 L423.43 45.13 L423.6 46.32 L423.77 46.44 L423.94 48.24 L424.11 49.31 L424.28 48.68 L424.45 50.99 L424.62 49.67 L424.79 49.92 L424.96 50.32 L425.13 50.29 L425.3 50.02 L425.47 49.63 L425.63 48.8 L425.8 48.08 L425.97 48.96 L426.14 46.89 L426.31 46.63 L426.48 47.47 L426.65 47.31 L426.82 47.84 L426.99 46.72 L427.16 47.36 L427.33 47.75 L427.5 48.24 L427.67 49.08 L427.84 49.08 L428.01 49.66 L428.17 50.45 L428.34 51.22 L428.51 52.1 L428.68 51.72 L428.85 50.61 L429.02 51.88 L429.19 52.29 L429.36 52.74 L429.53 52.82 L429.7 52.65 L429.87 53 L430.04 53.46 L430.21 53.35 L430.38 52.91 L430.55 54.26 L430.72 54.29 L430.88 54.67 L431.05 55 L431.22 54.85 L431.39 54.49 L431.56 53.9 L431.73 54.41 L431.9 54.2 L432.07 54.33 L432.24 53.71 L432.41 54.05 L432.58 55.14 L432.75 55.19 L432.92 55.66 L433.09 55.5 L433.26 55.19 L433.43 55.8 L433.59 57.45 L433.76 56.06 L433.93 59.98 L434.1 57.5 L434.27 59.7 L434.44 59.91 L434.61 58.58 L434.78 59.18 L434.95 60.62 L435.12 60.85 L435.29 60.09 L435.46 61.04 L435.63 59.35 L435.8 61.36 L435.97 59.67 L436.13 59.55 L436.3 57.7 L436.47 59.44 L436.64 56.28 L436.81 56.72 L436.98 55.44 L437.15 53.25 L437.32 53.8 L437.49 53.45 L437.66 53.1 L437.83 51.49 L438 51.13 L438.17 49.68 L438.34 50.92 L438.51 48.09 L438.68 51.87 L438.84 50.04 L439.01 52.31 L439.18 52.56 L439.35 52.92 L439.52 55.92 L439.69 58.83 L439.86 59.23 L440.03 60.18 L440.2 60 L440.37 59.08 L440.54 57.58 L440.71 57.36 L440.88 58.4 L441.05 59.18 L441.22 59.26 L441.39 56.21 L441.55 55.94 L441.72 55.7 L441.89 57.24 L442.06 58.36 L442.23 59.17 L442.4 60.33 L442.57 61.68 L442.74 62.24 L442.91 63.71 L443.08 64.27 L443.25 64.21 L443.42 65.34 L443.59 65.05 L443.76 65.27 L443.93 65.13 L444.09 64.57 L444.26 63.79 L444.43 62.52 L444.6 61.93 L444.77 61.72 L444.94 61.64 L445.11 63.24 L445.28 64.4 L445.45 64.68 L445.62 63.61 L445.79 63.5 L445.96 63.03 L446.13 62.03 L446.3 61.63 L446.47 61.68 L446.64 60.57 L446.8 60.27 L446.97 59.25 L447.14 58.3 L447.31 57.93 L447.48 58.77 L447.65 58.49 L447.82 60.36 L447.99 60.7 L448.16 63.13 L448.33 63.78 L448.5 64.92 L448.67 65.02 L448.84 67.51 L449.01 66.74 L449.18 68.21 L449.35 67.61 L449.51 68.38 L449.68 66.3 L449.85 64.5 L450.02 62.38 L450.19 61.18 L450.36 60.01 L450.53 58.97 L450.7 57.14 L450.87 56.44 L451.04 56.99 L451.21 56.53 L451.38 58.35 L451.55 56.79 L451.72 57.22 L451.89 57.66 L452.05 58.15 L452.22 57.68 L452.39 58.09 L452.56 58.75 L452.73 59.49 L452.9 58.93 L453.07 59.87 L453.24 59.67 L453.41 59.7 L453.58 58.27 L453.75 59.27 L453.92 59.34 L454.09 58.78 L454.26 58.92 L454.43 58.82 L454.6 59.33 L454.76 59.87 L454.93 59.4 L455.1 60.52 L455.27 60.46 L455.44 60.84 L455.61 61.21 L455.78 60.94 L455.95 61.37 L456.12 62.66 L456.29 62.99 L456.46 62.62 L456.63 62.88 L456.8 61.37 L456.97 61.44 L457.14 60.67 L457.31 60.67 L457.47 59.99 L457.64 59.75 L457.81 59.39 L457.98 58.95 L458.15 58.3 L458.32 57.14 L458.49 57.9 L458.66 58.77 L458.83 58.96 L459 58.51 L459.17 57.99 L459.34 58.76 L459.51 57.67 L459.68 58 L459.85 59.05 L460.01 56.97 L460.18 57.35 L460.35 56.45 L460.52 56.11 L460.69 55.03 L460.86 55.1 L461.03 55.72 L461.2 54.04 L461.37 55 L461.54 54.83 L461.71 53.86 L461.88 53.09 L462.05 53.54 L462.22 54.28 L462.39 54.98 L462.56 52.47 L462.72 51.6 L462.89 51.5 L463.06 51.6 L463.23 51.33 L463.4 50.69 L463.57 50.8 L463.74 50.49 L463.91 49.9 L464.08 50.2 L464.25 50.72 L464.42 50.71 L464.59 51.98 L464.76 51.95 L464.93 52.24 L465.1 52.85 L465.26 52.13 L465.43 52.34 L465.6 52.69 L465.77 51.95 L465.94 52.94 L466.11 53.87 L466.28 52.32 L466.45 52.53 L466.62 52.18 L466.79 50.75 L466.96 50.47 L467.13 50.41 L467.3 51.28 L467.47 50.57 L467.64 51.44 L467.81 51.37 L467.97 51.76 L468.14 52.65 L468.31 53.57 L468.48 53.64 L468.65 52.43 L468.82 51.42 L468.99 50.18 L469.16 50.69 L469.33 48.14 L469.5 48.6 L469.67 49.56 L469.84 48.11 L470.01 50.6 L470.18 48.44 L470.35 50.53 L470.52 49.67 L470.68 49.99 L470.85 51.27 L471.02 51.23 L471.19 52.27 L471.36 52.18 L471.53 51.18 L471.7 49.69 L471.87 48.39 L472.04 48.43 L472.21 49.05 L472.38 50.63 L472.55 50.4 L472.72 48.17 L472.89 48.94 L473.06 49.13 L473.22 48.79 L473.39 50.71 L473.56 50.01 L473.73 50.43 L473.9 50.82 L474.07 50 L474.24 49.72 L474.41 47.92 L474.58 48.79 L474.75 49.71 L474.92 49.95 L475.09 49.88 L475.26 49.57 L475.43 49.62 L475.6 49.1 L475.77 47.84 L475.93 47.97 L476.1 48.39 L476.27 48.36 L476.44 49.97 L476.61 48.57 L476.78 50.46 L476.95 47.6 L477.12 51.04 L477.29 46.99 L477.46 48.3 L477.63 47.37 L477.8 47.55 L477.97 46.81 L478.14 48.49 L478.31 50.36 L478.48 49.21 L478.64 50.86 L478.81 48.93 L478.98 51.42 L479.15 48.03 L479.32 49.01 L479.49 47.25 L479.66 46.33 L479.83 45.77 L480 44.84 L480.17 45.14 L480.34 44.11 L480.51 43.88 L480.68 42.57 L480.85 41.55 L481.02 41.6 L481.18 41.85 L481.35 41.44 L481.52 43.12 L481.69 43.82 L481.86 44.04 L482.03 43.71 L482.2 42.38 L482.37 43.32 L482.54 43.22 L482.71 41.78 L482.88 41.99 L483.05 41.41 L483.22 42.23 L483.39 42.58 L483.56 39.99 L483.73 41.69 L483.89 37.98 L484.06 41.49 L484.23 40 L484.4 40.61 L484.57 42.86 L484.74 41.27 L484.91 42.75 L485.08 40.53 L485.25 46.61 L485.42 41.19 L485.59 44.25 L485.76 42.3 L485.93 43.24 L486.1 41.79 L486.27 44.9 L486.44 39.33 L486.6 44.16 L486.77 42.57 L486.94 43.28 L487.11 41.12 L487.28 44.71 L487.45 41.94 L487.62 42.96 L487.79 41.08 L487.96 43.32 L488.13 40.79 L488.3 42.4 L488.47 40.92 L488.64 42.57 L488.81 40.8 L488.98 40.15 L489.14 40.63 L489.31 40.61 L489.48 39.94 L489.65 38.57 L489.82 40.86 L489.99 40.96 L490.16 41.05 L490.33 42.23 L490.5 43.42 L490.67 42.7 L490.84 43 L491.01 44.06 L491.18 47.49 L491.35 48.41 L491.52 47.4 L491.69 46.74 L491.85 46.2 L492.02 44.83 L492.19 44.03 L492.36 45.24 L492.53 45.14 L492.7 45.18 L492.87 44.01 L493.04 43.67 L493.21 43.53 L493.38 43.34 L493.55 44.88 L493.72 45.9 L493.89 45.89 L494.06 46.93 L494.23 46.55 L494.4 46.99 L494.56 48.58 L494.73 49.41 L494.9 49.88 L495.07 48.62 L495.24 49.89 L495.41 50.83 L495.58 51.32 L495.75 52.58 L495.92 52.12 L496.09 50.47 L496.26 49.77 L496.43 49.11 L496.6 47.54 L496.77 47.89 L496.94 46.43 L497.1 44.8 L497.27 43.43 L497.44 42.62 L497.61 42.3 L497.78 42.65 L497.95 41.05 L498.12 38.57 L498.29 38.68 L498.46 39.7 L498.63 41.05 L498.8 41.4 L498.97 41.15 L499.14 41.15 L499.31 41.79 L499.48 41.95 L499.65 42.31 L499.81 43.46 L499.98 44.12 L500.15 44.88 L500.32 44.71 L500.49 43.72 L500.66 44.09 L500.83 44.45 L501 43.13 L501.17 42.94 L501.34 42.01 L501.51 42.34 L501.68 42.8 L501.85 41.51 L502.02 43.13 L502.19 42.88 L502.36 42.63 L502.52 43.35 L502.69 44.17 L502.86 44.35 L503.03 45.87 L503.2 46.33 L503.37 46.61 L503.54 46.54 L503.71 45.96 L503.88 45.24 L504.05 45.65 L504.22 45.37 L504.39 44.7 L504.56 43.86 L504.73 43.09 L504.9 43.39 L505.06 44.04 L505.23 44.82 L505.4 44.54 L505.57 44.52 L505.74 45.7 L505.91 47.41 L506.08 47.47 L506.25 45.84 L506.42 46.53 L506.59 47.29 L506.76 48.12 L506.93 48.38 L507.1 48.6 L507.27 47.14 L507.44 46.07 L507.61 46.3 L507.77 45.74 L507.94 44.08 L508.11 43.92 L508.28 42.91 L508.45 43.82 L508.62 43.53 L508.79 42.2 L508.96 42.35 L509.13 42.11 L509.3 42.31 L509.47 41.52 L509.64 42.2 L509.81 42.09 L509.98 42.99 L510.15 43.89 L510.32 45.19 L510.48 46.01 L510.65 46.75 L510.82 45.84 L510.99 47.24 L511.16 48.23 L511.33 48.81 L511.5 49.03 L511.67 50.01 L511.84 49.78 L512.01 51.29 L512.18 52.07 L512.35 52.27 L512.52 52.47 L512.69 52.44 L512.86 51.87 L513.02 50.53 L513.19 49.98 L513.36 49.84 L513.53 49.41 L513.7 49.35 L513.87 47.67 L514.04 46.35 L514.21 46.84 L514.38 45.48 L514.55 44.85 L514.72 42.34 L514.89 42.27 L515.06 42.45 L515.23 40.32 L515.4 40.61 L515.57 42.28 L515.73 44.05 L515.9 44.69 L516.07 44.77 L516.24 45.72 L516.41 45.36 L516.58 45.87 L516.75 46.86 L516.92 46.64 L517.09 47.68 L517.26 48.35 L517.43 48.51 L517.6 49.27 L517.77 49.09 L517.94 47.37 L518.11 47.45 L518.27 48.06 L518.44 48.92 L518.61 48.54 L518.78 49.67 L518.95 48.64 L519.12 48.71 L519.29 49.57 L519.46 50.13 L519.63 49.23 L519.8 50.54 L519.97 50.92 L520.14 51.44 L520.31 52.17 L520.48 52.74 L520.65 53.07 L520.82 52.67 L520.98 53.61 L521.15 53.78 L521.32 52.82 L521.49 52.26 L521.66 50.76 L521.83 49.76 L522 48.91 L522.17 49.23 L522.34 49.3 L522.51 49.71 L522.68 47.89 L522.85 47.99 L523.02 48.6 L523.19 47.41 L523.36 46.38 L523.53 47.42 L523.69 48.26 L523.86 47.28 L524.03 48 L524.2 49.02 L524.37 48.9 L524.54 47.61 L524.71 47.12 L524.88 46.93 L525.05 45.98 L525.22 44.58 L525.39 43.88 L525.56 45.1 L525.73 43.84 L525.9 42.52 L526.07 42.9 L526.23 43.26 L526.4 42.87 L526.57 43.57 L526.74 44.22 L526.91 44.36 L527.08 45.53 L527.25 46.72 L527.42 47.27 L527.59 45.66 L527.76 45.87 L527.93 46.99 L528.1 45.62 L528.27 46.89 L528.44 43.94 L528.61 45.98 L528.78 43.83 L528.94 43.64 L529.11 44.7 L529.28 42.55 L529.45 45.41 L529.62 42.35 L529.79 43.84 L529.96 43.49 L530.13 43.18 L530.3 44.5 L530.47 44.04 L530.64 45.32 L530.81 46.87 L530.98 48.42 L531.15 48.34 L531.32 48.73 L531.49 49.82 L531.65 51.03 L531.82 51.32 L531.99 51.72 L532.16 50.17 L532.33 50.46 L532.5 50.78 L532.67 49.61 L532.84 49.38 L533.01 48.62 L533.18 48.17 L533.35 47.79 L533.52 47.57 L533.69 46.73 L533.86 47.6 L534.03 48.07 L534.19 48.1 L534.36 49.26 L534.53 49.78 L534.7 49.93 L534.87 51.01 L535.04 51.48 L535.21 52.4 L535.38 52.4 L535.55 53.88 L535.72 53.49 L535.89 53.92 L536.06 53.18 L536.23 51 L536.4 49.9 L536.57 48.72 L536.74 47.28 L536.9 47.72 L537.07 47.21 L537.24 47.3 L537.41 47.45 L537.58 48.17 L537.75 49.38 L537.92 51 L538.09 52.02 L538.26 52.53 L538.43 52.94 L538.6 53.32 L538.77 51.64 L538.94 50.49 L539.11 51.02 L539.28 50.52 L539.45 49.28 L539.61 50.98 L539.78 47.49 L539.95 50.73 L540.12 49.86 L540.29 49.42 L540.46 51.07 L540.63 48.6 L540.8 49.37" fill="none" stroke="#1414ff" stroke-width="0.85" stroke-linejoin="round" />
<path d="M320.9 214 L321.15 209.16 L321.4 204.42 L321.65 199.85 L321.9 195.5 L322.15 191.45 L322.4 187.74 L322.65 184.43 L322.9 181.59 L323.15 179.28 L323.4 177.55 L323.65 176.47 L323.9 176.1 L324.15 176.33 L324.4 177 L324.65 178.07 L324.9 179.49 L325.15 181.22 L325.4 183.23 L325.65 185.46 L325.9 187.87 L326.15 190.43 L326.4 193.09 L326.65 195.81 L326.9 198.54 L327.15 201.25 L327.4 203.89 L327.65 206.43 L327.9 208.81 L328.15 210.99 L328.4 212.95 L328.65 214.62 L328.9 215.97 L329.15 216.96 L329.4 217.55 L329.65 217.69 L329.9 217.28 L330.15 216.34 L330.4 214.95 L330.65 213.18 L330.9 211.11 L331.15 208.8 L331.4 206.33 L331.65 203.77 L331.9 201.19 L332.15 198.68 L332.4 196.29 L332.65 194.11 L332.9 192.21 L333.15 190.66 L333.4 189.54 L333.65 188.91 L333.9 188.88 L334.15 189.76 L334.4 191.41 L334.65 193.64 L334.9 196.24 L335.15 199.01 L335.4 201.73 L335.65 204.21 L335.9 206.23 L336.15 207.6 L336.4 208.1 L336.65 207.83 L336.9 207.14 L337.15 206.18 L337.4 205.13 L337.65 204.14 L337.9 203.38 L338.15 203.01 L338.4 203.09 L338.65 203.39 L338.9 203.81 L339.15 204.25 L339.4 204.61 L339.65 204.79 L339.9 204.61 L340.15 203.91 L340.4 202.84 L340.65 201.53 L340.9 200.14 L341.15 198.81 L341.4 197.68 L341.65 196.89 L341.9 196.6 L342.15 196.79 L342.4 197.3 L342.65 198.08 L342.9 199.06 L343.15 200.17 L343.4 201.35 L343.65 202.53 L343.9 203.64 L344.15 204.62 L344.4 205.4 L344.65 205.91 L344.9 206.1 L345.15 205.82 L345.4 205.05 L345.65 203.91 L345.9 202.51 L346.15 200.94 L346.4 199.34 L346.65 197.8 L346.9 196.43 L347.15 195.36 L347.4 194.68 L347.65 194.51 L347.9 194.94 L348.15 195.87 L348.4 197.19 L348.65 198.75 L348.9 200.45 L349.15 202.15 L349.4 203.71 L349.65 205.03 L349.9 205.96 L350.15 206.39 L350.4 206.23 L350.65 205.65 L350.9 204.89 L351.15 204.18 L351.4 203.75 L351.65 203.78 L351.9 204.22 L352.15 204.91 L352.4 205.71 L352.65 206.49 L352.9 207.09 L353.15 207.39 L353.4 207.33 L353.65 207.05 L353.9 206.58 L354.15 205.94 L354.4 205.15 L354.65 204.24 L354.9 203.21 L355.15 202.1 L355.4 200.92 L355.65 199.7 L355.9 198.45 L356.15 197.2 L356.4 195.96 L356.65 194.76 L356.9 193.62 L357.15 192.56 L357.4 191.6 L357.65 190.76 L357.9 190.05 L358.15 189.52 L358.4 189.16 L358.65 189 L358.9 189.14 L359.15 189.7 L359.4 190.62 L359.65 191.85 L359.9 193.32 L360.15 194.98 L360.4 196.77 L360.65 198.63 L360.9 200.49 L361.15 202.32 L361.4 204.04 L361.65 205.59 L361.9 206.92 L362.15 207.97 L362.4 208.68 L362.65 208.99 L362.9 208.9 L363.15 208.53 L363.4 207.92 L363.65 207.11 L363.9 206.13 L364.15 205.04 L364.4 203.86 L364.65 202.65 L364.9 201.44 L365.15 200.26 L365.4 199.17 L365.65 198.19 L365.9 197.38 L366.15 196.77 L366.4 196.4 L366.65 196.31 L366.9 196.55 L367.15 197.1 L367.4 197.88 L367.65 198.84 L367.9 199.89 L368.15 200.99 L368.4 202.06 L368.65 203.04 L368.9 203.86 L369.15 204.46 L369.4 204.77 L369.65 204.71 L369.9 204.19 L370.15 203.34 L370.4 202.28 L370.65 201.14 L370.9 200.06 L371.15 199.16 L371.4 198.56 L371.65 198.41 L371.9 198.78 L372.15 199.56 L372.4 200.58 L372.65 201.7 L372.9 202.75 L373.15 203.59 L373.4 204.05 L373.65 204.03 L373.9 203.61 L374.15 202.88 L374.4 201.9 L374.65 200.72 L374.9 199.41 L375.15 198.03 L375.4 196.63 L375.65 195.29 L375.9 194.05 L376.15 192.98 L376.4 192.14 L376.65 191.6 L376.9 191.4 L377.15 191.76 L377.4 192.78 L377.65 194.35 L377.9 196.36 L378.15 198.71 L378.4 201.29 L378.65 204 L378.9 206.73 L379.15 209.38 L379.4 211.83 L379.65 213.99 L379.9 215.75 L380.15 217 L380.4 217.64 L380.65 217.48 L380.9 216.21 L381.15 213.98 L381.4 210.98 L381.65 207.41 L381.9 203.45 L382.15 199.3 L382.4 195.15 L382.65 191.19 L382.9 187.62 L383.15 184.62 L383.4 182.39 L383.65 181.12 L383.9 181.02 L384.15 182.29 L384.4 184.75 L384.65 188.13 L384.9 192.18 L385.15 196.63 L385.4 201.25 L385.65 205.76 L385.9 209.91 L386.15 213.44 L386.4 216.1 L386.65 217.63 L386.9 217.79 L387.15 216.59 L387.4 214.32 L387.65 211.26 L387.9 207.68 L388.15 203.89 L388.4 200.14 L388.65 196.74 L388.9 193.96 L389.15 192.09 L389.4 191.4 L389.65 191.66 L389.9 192.37 L390.15 193.44 L390.4 194.78 L390.65 196.29 L390.9 197.87 L391.15 199.43 L391.4 200.88 L391.65 202.12 L391.9 203.06 L392.15 203.6 L392.4 203.69 L392.65 203.54 L392.9 203.25 L393.15 202.84 L393.4 202.35 L393.65 201.8 L393.9 201.22 L394.15 200.63 L394.4 200.06 L394.65 199.54 L394.9 199.1 L395.15 198.76 L395.4 198.55 L395.65 198.5 L395.9 198.67 L396.15 199.03 L396.4 199.54 L396.65 200.17 L396.9 200.87 L397.15 201.59 L397.4 202.29 L397.65 202.94 L397.9 203.48 L398.15 203.87 L398.4 204.08 L398.65 204.06 L398.9 203.81 L399.15 203.38 L399.4 202.8 L399.65 202.11 L399.9 201.33 L400.15 200.52 L400.4 199.69 L400.65 198.9 L400.9 198.16 L401.15 197.53 L401.4 197.04 L401.65 196.72 L401.9 196.6 L402.15 196.85 L402.4 197.55 L402.65 198.58 L402.9 199.83 L403.15 201.22 L403.4 202.62 L403.65 203.94 L403.9 205.08 L404.15 205.92 L404.4 206.36 L404.65 206.32 L404.9 205.85 L405.15 205.06 L405.4 204.01 L405.65 202.81 L405.9 201.54 L406.15 200.29 L406.4 199.14 L406.65 198.19 L406.9 197.52 L407.15 197.21 L407.4 197.23 L407.65 197.36 L407.9 197.58 L408.15 197.86 L408.4 198.21 L408.65 198.6 L408.9 199.02 L409.15 199.46 L409.4 199.9 L409.65 200.34 L409.9 200.78 L410.15 201.33 L410.4 201.98 L410.65 202.72 L410.9 203.5 L411.15 204.29 L411.4 205.06 L411.65 205.78 L411.9 206.4 L412.15 206.9 L412.4 207.24 L412.65 207.4 L412.9 207.28 L413.15 206.82 L413.4 206.09 L413.65 205.16 L413.9 204.09 L414.15 202.95 L414.4 201.81 L414.65 200.74 L414.9 199.81 L415.15 199.08 L415.4 198.62 L415.65 198.52 L415.9 199.26 L416.15 200.66 L416.4 202.25 L416.65 203.56 L416.9 204.1 L417.15 203.45 L417.4 201.76 L417.65 199.44 L417.9 196.87 L418.15 194.47 L418.4 192.62 L418.65 191.73 L418.9 192.12 L419.15 193.66 L419.4 196.03 L419.65 198.91 L419.9 201.98 L420.15 204.92 L420.4 207.42 L420.65 209.15 L420.9 209.8 L421.15 209.27 L421.4 207.87 L421.65 205.86 L421.9 203.53 L422.15 201.14 L422.4 198.98 L422.65 197.3 L422.9 196.39 L423.15 196.44 L423.4 197.17 L423.65 198.35 L423.9 199.75 L424.15 201.15 L424.4 202.33 L424.65 203.06 L424.9 203.17 L425.15 202.85 L425.4 202.26 L425.65 201.48 L425.9 200.57 L426.15 199.64 L426.4 198.76 L426.65 198 L426.9 197.46 L427.15 197.21 L427.4 197.28 L427.65 197.6 L427.9 198.12 L428.15 198.79 L428.4 199.57 L428.65 200.44 L428.9 201.33 L429.15 202.22 L429.4 203.05 L429.65 203.8 L429.9 204.41 L430.15 204.85 L430.4 205.08 L430.65 204.99 L430.9 204.39 L431.15 203.37 L431.4 202.03 L431.65 200.51 L431.9 198.91 L432.15 197.36 L432.4 195.98 L432.65 194.88 L432.9 194.19 L433.15 194.03 L433.4 195.01 L433.65 197.12 L433.9 200.01 L434.15 203.32 L434.4 206.7 L434.65 209.79 L434.9 212.26 L435.15 213.73 L435.4 213.92 L435.65 213.1 L435.9 211.49 L436.15 209.23 L436.4 206.46 L436.65 203.32 L436.9 199.96 L437.15 196.52 L437.4 193.13 L437.65 189.94 L437.9 187.09 L438.15 184.72 L438.4 182.97 L438.65 181.97 L438.9 181.87 L439.15 182.58 L439.4 184 L439.65 186.03 L439.9 188.56 L440.15 191.49 L440.4 194.73 L440.65 198.16 L440.9 201.7 L441.15 205.24 L441.4 208.67 L441.65 211.91 L441.9 214.84 L442.15 217.37 L442.4 219.4 L442.65 220.82 L442.9 221.53 L443.15 221.46 L443.4 220.63 L443.65 219.14 L443.9 217.1 L444.15 214.59 L444.4 211.72 L444.65 208.58 L444.9 205.26 L445.15 201.87 L445.4 198.5 L445.65 195.24 L445.9 192.19 L446.15 189.45 L446.4 187.12 L446.65 185.29 L446.9 184.06 L447.15 183.52 L447.4 184.21 L447.65 186.81 L447.9 190.83 L448.15 195.78 L448.4 201.13 L448.65 206.38 L448.9 211.02 L449.15 214.53 L449.4 216.42 L449.65 216.45 L449.9 215.59 L450.15 214.08 L450.4 212.05 L450.65 209.64 L450.9 206.96 L451.15 204.15 L451.4 201.34 L451.65 198.66 L451.9 196.25 L452.15 194.22 L452.4 192.71 L452.65 191.85 L452.9 191.74 L453.15 192.21 L453.4 193.13 L453.65 194.4 L453.9 195.95 L454.15 197.69 L454.4 199.53 L454.65 201.38 L454.9 203.17 L455.15 204.81 L455.4 206.2 L455.65 207.27 L455.9 207.93 L456.15 208.09 L456.4 207.7 L456.65 206.88 L456.9 205.78 L457.15 204.55 L457.4 203.36 L457.65 202.35 L457.9 201.68 L458.15 201.51 L458.4 201.66 L458.65 201.99 L458.9 202.41 L459.15 202.85 L459.4 203.22 L459.65 203.46 L459.9 203.47 L460.15 203.17 L460.4 202.6 L460.65 201.8 L460.9 200.85 L461.15 199.79 L461.4 198.68 L461.65 197.58 L461.9 196.55 L462.15 195.65 L462.4 194.94 L462.65 194.47 L462.9 194.3 L463.15 194.54 L463.4 195.21 L463.65 196.23 L463.9 197.51 L464.15 198.97 L464.4 200.53 L464.65 202.11 L464.9 203.62 L465.15 204.99 L465.4 206.12 L465.65 206.94 L465.9 207.36 L466.15 207.33 L466.4 206.92 L466.65 206.2 L466.9 205.24 L467.15 204.11 L467.4 202.87 L467.65 201.59 L467.9 200.34 L468.15 199.18 L468.4 198.18 L468.65 197.41 L468.9 196.93 L469.15 196.81 L469.4 197.15 L469.65 197.85 L469.9 198.76 L470.15 199.73 L470.4 200.61 L470.65 201.25 L470.9 201.5 L471.15 201.32 L471.4 200.87 L471.65 200.26 L471.9 199.61 L472.15 199.02 L472.4 198.61 L472.65 198.51 L472.9 198.7 L473.15 199.09 L473.4 199.59 L473.65 200.12 L473.9 200.56 L474.15 200.85 L474.4 200.89 L474.65 200.76 L474.9 200.54 L475.15 200.26 L475.4 199.97 L475.65 199.72 L475.9 199.55 L476.15 199.51 L476.4 199.87 L476.65 200.62 L476.9 201.64 L477.15 202.8 L477.4 203.96 L477.65 204.98 L477.9 205.73 L478.15 206.09 L478.4 205.95 L478.65 205.37 L478.9 204.46 L479.15 203.28 L479.4 201.93 L479.65 200.5 L479.9 199.07 L480.15 197.72 L480.4 196.54 L480.65 195.63 L480.9 195.05 L481.15 194.91 L481.4 195.1 L481.65 195.53 L481.9 196.18 L482.15 197 L482.4 197.95 L482.65 199.01 L482.9 200.13 L483.15 201.28 L483.4 202.42 L483.65 203.52 L483.9 204.54 L484.15 205.45 L484.4 206.2 L484.65 206.77 L484.9 207.11 L485.15 207.2 L485.4 207.03 L485.65 206.64 L485.9 206.06 L486.15 205.32 L486.4 204.44 L486.65 203.45 L486.9 202.38 L487.15 201.25 L487.4 200.1 L487.65 198.95 L487.9 197.82 L488.15 196.75 L488.4 195.76 L488.65 194.88 L488.9 194.14 L489.15 193.56 L489.4 193.17 L489.65 193 L489.9 193.1 L490.15 193.47 L490.4 194.07 L490.65 194.85 L490.9 195.74 L491.15 196.71 L491.4 197.69 L491.65 198.64 L491.9 199.5 L492.15 200.37 L492.4 201.35 L492.65 202.43 L492.9 203.57 L493.15 204.73 L493.4 205.9 L493.65 207.03 L493.9 208.09 L494.15 209.06 L494.4 209.9 L494.65 210.58 L494.9 211.08 L495.15 211.35 L495.4 211.35 L495.65 210.76 L495.9 209.64 L496.15 208.07 L496.4 206.18 L496.65 204.07 L496.9 201.85 L497.15 199.63 L497.4 197.52 L497.65 195.63 L497.9 194.06 L498.15 192.94 L498.4 192.35 L498.65 192.37 L498.9 192.79 L499.15 193.52 L499.4 194.48 L499.65 195.61 L499.9 196.85 L500.15 198.1 L500.4 199.32 L500.65 200.43 L500.9 201.35 L501.15 202.02 L501.4 202.37 L501.65 202.36 L501.9 202.17 L502.15 201.85 L502.4 201.46 L502.65 201.05 L502.9 200.68 L503.15 200.38 L503.4 200.22 L503.65 200.27 L503.9 200.7 L504.15 201.43 L504.4 202.4 L504.65 203.53 L504.9 204.75 L505.15 205.99 L505.4 207.16 L505.65 208.21 L505.9 209.04 L506.15 209.6 L506.4 209.8 L506.65 209.33 L506.9 208.04 L507.15 206.1 L507.4 203.67 L507.65 200.94 L507.9 198.07 L508.15 195.24 L508.4 192.61 L508.65 190.36 L508.9 188.66 L509.15 187.67 L509.4 187.62 L509.65 188.89 L509.9 191.32 L510.15 194.65 L510.4 198.63 L510.65 202.97 L510.9 207.42 L511.15 211.71 L511.4 215.57 L511.65 218.75 L511.9 220.97 L512.15 221.97 L512.4 221.63 L512.65 220.19 L512.9 217.84 L513.15 214.74 L513.4 211.04 L513.65 206.92 L513.9 202.54 L514.15 198.06 L514.4 193.64 L514.65 189.45 L514.9 185.66 L515.15 182.42 L515.4 179.91 L515.65 178.28 L515.9 177.7 L516.15 178.01 L516.4 178.9 L516.65 180.3 L516.9 182.15 L517.15 184.39 L517.4 186.94 L517.65 189.76 L517.9 192.77 L518.15 195.9 L518.4 199.1 L518.65 202.3 L518.9 205.43 L519.15 208.44 L519.4 211.26 L519.65 213.81 L519.9 216.05 L520.15 217.9 L520.4 219.3 L520.65 220.19 L520.9 220.5 L521.15 220.24 L521.4 219.5 L521.65 218.36 L521.9 216.91 L522.15 215.21 L522.4 213.36 L522.65 211.42 L522.9 209.48 L523.15 207.61 L523.4 205.9 L523.65 204.41 L523.9 203.24 L524.15 202.45 L524.4 202.1 L524.65 201.89 L524.9 201.74 L525.15 201.61 L525.4 201.51 L525.65 201.39 L525.9 201.24 L526.15 201.05 L526.4 200.76 L526.65 200.11 L526.9 199.11 L527.15 197.85 L527.4 196.41 L527.65 194.88 L527.9 193.34 L528.15 191.87 L528.4 190.56 L528.65 189.49 L528.9 188.74 L529.15 188.41 L529.4 188.85 L529.65 190.52 L529.9 193.13 L530.15 196.36 L530.4 199.9 L530.65 203.44 L530.9 206.67 L531.15 209.28 L531.4 210.95 L531.65 211.38 L531.9 210.58 L532.15 208.85 L532.4 206.45 L532.65 203.63 L532.9 200.66 L533.15 197.79 L533.4 195.28 L533.65 193.4 L533.9 192.4 L534.15 192.49 L534.4 193.56 L534.65 195.35 L534.9 197.59 L535.15 200.04 L535.4 202.44 L535.65 204.53 L535.9 206.06 L536.15 206.78 L536.4 206.71 L536.65 206.35 L536.9 205.78 L537.15 205.03 L537.4 204.16 L537.65 203.2 L537.9 202.2 L538.15 201.21 L538.4 200.28 L538.65 199.45 L538.9 198.77 L539.15 198.28 L539.4 198.02 L539.65 198.08 L539.9 198.53 L540.15 199.3 L540.4 200.31 L540.65 201.47 L540.8 202.2" fill="none" stroke="#4040ff" stroke-width="1.1" stroke-linejoin="round" />
<path d="M31.3 252.1 L31.55 253.1 L31.8 254.1 L32.05 255.1 L32.3 256.1 L32.55 257.1 L32.8 258.1 L33.05 259.13 L33.3 260.19 L33.55 261.24 L33.8 262.28 L34.05 263.3 L34.3 264.27 L34.55 265.19 L34.8 266.03 L35.05 266.84 L35.3 267.63 L35.55 268.39 L35.8 269.13 L36.05 269.85 L36.3 270.53 L36.55 271.19 L36.8 271.82 L37.05 272.43 L37.3 273 L37.55 273.54 L37.8 274.05 L38.05 274.53 L38.3 274.99 L38.55 275.43 L38.8 275.85 L39.05 276.26 L39.3 276.67 L39.55 277.07 L39.8 277.48 L40.05 277.89 L40.3 278.31 L40.55 278.75 L40.8 279.2 L41.05 279.68 L41.3 280.19 L41.55 280.72 L41.8 281.28 L42.05 281.85 L42.3 282.45 L42.55 283.06 L42.8 283.7 L43.05 284.35 L43.3 285.02 L43.55 285.71 L43.8 286.42 L44.05 287.15 L44.3 287.94 L44.55 288.79 L44.8 289.69 L45.05 290.62 L45.3 291.56 L45.55 292.51 L45.8 293.44 L46.05 294.34 L46.3 295.18 L46.55 295.97 L46.8 296.68 L47.05 297.44 L47.3 298.23 L47.55 299.01 L47.8 299.72 L48.05 300.33 L48.3 300.79 L48.55 301.05 L48.8 301.09 L49.05 300.97 L49.3 300.75 L49.55 300.44 L49.8 300.06 L50.05 299.64 L50.3 299.19 L50.55 298.74 L50.8 298.3 L51.05 297.9 L51.3 297.56 L51.55 297.3 L51.8 297.14 L52.05 297.1 L52.3 297.19 L52.55 297.38 L52.8 297.67 L53.05 298.05 L53.3 298.51 L53.55 299.03 L53.8 299.6 L54.05 300.22 L54.3 300.87 L54.55 301.53 L54.8 302.21 L55.05 302.88 L55.3 303.53 L55.55 304.16 L55.8 304.75 L56.05 305.3 L56.3 305.78 L56.55 306.19 L56.8 306.53 L57.05 306.87 L57.3 307.21 L57.55 307.54 L57.8 307.86 L58.05 308.14 L58.3 308.38 L58.55 308.56 L58.8 308.67 L59.05 308.7 L59.3 308.63 L59.55 308.49 L59.8 308.27 L60.05 307.98 L60.3 307.64 L60.55 307.25 L60.8 306.82 L61.05 306.37 L61.3 305.89 L61.55 305.38 L61.8 304.72 L62.05 303.92 L62.3 302.99 L62.55 301.94 L62.8 300.79 L63.05 299.55 L63.3 298.24 L63.55 296.81 L63.8 295.07 L64.05 293.06 L64.3 290.84 L64.55 288.49 L64.8 286.07 L65.05 283.65 L65.3 281.3 L65.55 279.01 L65.8 276.51 L66.05 273.92 L66.3 271.37 L66.55 269.01 L66.8 266.99 L67.05 265.42 L67.3 264.01 L67.55 262.65 L67.8 261.43 L68.05 260.47 L68.3 259.86 L68.55 259.71 L68.8 259.89 L69.05 260.32 L69.3 260.95 L69.55 261.75 L69.8 262.68 L70.05 263.71 L70.3 264.81 L70.55 265.94 L70.8 267.56 L71.05 269.7 L71.3 272.12 L71.55 274.59 L71.8 276.87 L72.05 278.71 L72.3 280.16 L72.55 281.63 L72.8 282.96 L73.05 283.99 L73.3 284.55 L73.55 284.53 L73.8 284.11 L74.05 283.36 L74.3 282.33 L74.55 281.07 L74.8 279.64 L75.05 278.09 L75.3 276.46 L75.55 274.81 L75.8 273.2 L76.05 271.66 L76.3 270.26 L76.55 269.05 L76.8 268.07 L77.05 267.38 L77.3 267.03 L77.55 267.06 L77.8 267.4 L78.05 268 L78.3 268.79 L78.55 269.72 L78.8 270.74 L79.05 271.77 L79.3 272.77 L79.55 273.68 L79.8 274.44 L80.05 274.99 L80.3 275.27 L80.55 275.28 L80.8 275.13 L81.05 274.89 L81.3 274.57 L81.55 274.19 L81.8 273.78 L82.05 273.37 L82.3 272.98 L82.55 272.63 L82.8 272.35 L83.05 272.17 L83.3 272.1 L83.55 272.17 L83.8 272.36 L84.05 272.67 L84.3 273.07 L84.55 273.55 L84.8 274.1 L85.05 274.7 L85.3 275.33 L85.55 275.99 L85.8 276.65 L86.05 277.3 L86.3 277.93 L86.55 278.52 L86.8 279.05 L87.05 279.52 L87.3 279.9 L87.55 280.19 L87.8 280.36 L88.05 280.4 L88.3 280.32 L88.55 280.13 L88.8 279.86 L89.05 279.51 L89.3 279.09 L89.55 278.62 L89.8 278.11 L90.05 277.57 L90.3 277.01 L90.55 276.45 L90.8 275.91 L91.05 275.38 L91.3 274.89 L91.55 274.45 L91.8 274.07 L92.05 273.76 L92.3 273.54 L92.55 273.42 L92.8 273.42 L93.05 273.69 L93.3 274.23 L93.55 275.01 L93.8 275.99 L94.05 277.16 L94.3 278.47 L94.55 279.89 L94.8 281.41 L95.05 282.98 L95.3 284.57 L95.55 286.16 L95.8 287.71 L96.05 289.19 L96.3 290.57 L96.55 291.83 L96.8 292.92 L97.05 293.83 L97.3 294.52 L97.55 294.95 L97.8 295.1 L98.05 294.93 L98.3 294.42 L98.55 293.62 L98.8 292.55 L99.05 291.25 L99.3 289.74 L99.55 288.05 L99.8 286.23 L100.05 284.29 L100.3 282.27 L100.55 280.2 L100.8 278.11 L101.05 276.04 L101.3 274.01 L101.55 272.05 L101.8 270.2 L102.05 268.49 L102.3 266.94 L102.55 265.59 L102.8 264.47 L103.05 263.62 L103.3 263.05 L103.55 262.81 L103.8 262.91 L104.05 263.35 L104.3 264.09 L104.55 265.11 L104.8 266.37 L105.05 267.86 L105.3 269.53 L105.55 271.36 L105.8 273.33 L106.05 275.39 L106.3 277.54 L106.55 279.73 L106.8 281.93 L107.05 284.13 L107.3 286.28 L107.55 288.37 L107.8 290.36 L108.05 292.22 L108.3 293.92 L108.55 295.45 L108.8 296.76 L109.05 297.83 L109.3 298.63 L109.55 299.13 L109.8 299.3 L110.05 299.18 L110.3 298.84 L110.55 298.29 L110.8 297.55 L111.05 296.63 L111.3 295.56 L111.55 294.33 L111.8 292.98 L112.05 291.51 L112.3 289.95 L112.55 288.3 L112.8 286.59 L113.05 284.83 L113.3 283.03 L113.55 281.21 L113.8 279.39 L114.05 277.59 L114.3 275.81 L114.55 274.08 L114.8 272.4 L115.05 270.8 L115.3 269.3 L115.55 267.89 L115.8 266.62 L116.05 265.48 L116.3 264.5 L116.55 263.68 L116.8 263.05 L117.05 262.63 L117.3 262.42 L117.55 262.46 L117.8 262.82 L118.05 263.49 L118.3 264.42 L118.55 265.6 L118.8 266.99 L119.05 268.57 L119.3 270.3 L119.55 272.16 L119.8 274.12 L120.05 276.15 L120.3 278.22 L120.55 280.3 L120.8 282.36 L121.05 284.38 L121.3 286.32 L121.55 288.15 L121.8 289.86 L122.05 291.4 L122.3 292.75 L122.55 293.88 L122.8 294.77 L123.05 295.37 L123.3 295.67 L123.55 295.62 L123.8 295.14 L124.05 294.28 L124.3 293.08 L124.55 291.6 L124.8 289.88 L125.05 287.97 L125.3 285.92 L125.55 283.79 L125.8 281.61 L126.05 279.45 L126.3 277.35 L126.55 275.35 L126.8 273.51 L127.05 271.88 L127.3 270.5 L127.55 269.43 L127.8 268.72 L128.05 268.41 L128.3 268.52 L128.55 268.98 L128.8 269.75 L129.05 270.78 L129.3 272.04 L129.55 273.49 L129.8 275.07 L130.05 276.75 L130.3 278.5 L130.55 280.26 L130.8 281.99 L131.05 283.66 L131.3 285.22 L131.55 286.63 L131.8 287.84 L132.05 288.83 L132.3 289.54 L132.55 289.93 L132.8 289.98 L133.05 289.78 L133.3 289.37 L133.55 288.78 L133.8 288.02 L134.05 287.12 L134.3 286.1 L134.55 284.97 L134.8 283.76 L135.05 282.49 L135.3 281.18 L135.55 279.85 L135.8 278.52 L136.05 277.21 L136.3 275.94 L136.55 274.73 L136.8 273.6 L137.05 272.58 L137.3 271.68 L137.55 270.92 L137.8 270.33 L138.05 269.92 L138.3 269.72 L138.55 269.76 L138.8 270.09 L139.05 270.7 L139.3 271.55 L139.55 272.62 L139.8 273.87 L140.05 275.29 L140.3 276.84 L140.55 278.48 L140.8 280.21 L141.05 281.98 L141.3 283.76 L141.55 285.54 L141.8 287.28 L142.05 288.94 L142.3 290.51 L142.55 291.96 L142.8 293.25 L143.05 294.36 L143.3 295.25 L143.55 295.91 L143.8 296.3 L144.05 296.39 L144.3 296.14 L144.55 295.56 L144.8 294.68 L145.05 293.53 L145.3 292.13 L145.55 290.53 L145.8 288.75 L146.05 286.83 L146.3 284.78 L146.55 282.65 L146.8 280.47 L147.05 278.26 L147.3 276.05 L147.55 273.89 L147.8 271.79 L148.05 269.79 L148.3 267.92 L148.55 266.2 L148.8 264.68 L149.05 263.38 L149.3 262.33 L149.55 261.57 L149.8 261.12 L150.05 261.01 L150.3 261.22 L150.55 261.71 L150.8 262.47 L151.05 263.47 L151.3 264.68 L151.55 266.08 L151.8 267.65 L152.05 269.36 L152.3 271.2 L152.55 273.13 L152.8 275.14 L153.05 277.19 L153.3 279.28 L153.55 281.37 L153.8 283.45 L154.05 285.48 L154.3 287.44 L154.55 289.32 L154.8 291.08 L155.05 292.71 L155.3 294.18 L155.55 295.47 L155.8 296.56 L156.05 297.41 L156.3 298.02 L156.55 298.34 L156.8 298.38 L157.05 298.12 L157.3 297.59 L157.55 296.83 L157.8 295.85 L158.05 294.67 L158.3 293.32 L158.55 291.83 L158.8 290.21 L159.05 288.49 L159.3 286.7 L159.55 284.85 L159.8 282.98 L160.05 281.1 L160.3 279.24 L160.55 277.42 L160.8 275.67 L161.05 274.01 L161.3 272.46 L161.55 271.05 L161.8 269.8 L162.05 268.74 L162.3 267.88 L162.55 267.26 L162.8 266.89 L163.05 266.81 L163.3 267.03 L163.55 267.55 L163.8 268.33 L164.05 269.34 L164.3 270.54 L164.55 271.9 L164.8 273.39 L165.05 274.97 L165.3 276.61 L165.55 278.28 L165.8 279.95 L166.05 281.57 L166.3 283.12 L166.55 284.56 L166.8 285.86 L167.05 286.99 L167.3 287.91 L167.55 288.59 L167.8 289 L168.05 289.1 L168.3 288.93 L168.55 288.55 L168.8 287.98 L169.05 287.22 L169.3 286.32 L169.55 285.29 L169.8 284.14 L170.05 282.9 L170.3 281.6 L170.55 280.25 L170.8 278.88 L171.05 277.5 L171.3 276.13 L171.55 274.81 L171.8 273.54 L172.05 272.36 L172.3 271.28 L172.55 270.32 L172.8 269.51 L173.05 268.86 L173.3 268.4 L173.55 268.14 L173.8 268.12 L174.05 268.39 L174.3 268.92 L174.55 269.67 L174.8 270.62 L175.05 271.74 L175.3 272.98 L175.55 274.31 L175.8 275.71 L176.05 277.14 L176.3 278.55 L176.55 279.93 L176.8 281.23 L177.05 282.43 L177.3 283.48 L177.55 284.36 L177.8 285.02 L178.05 285.45 L178.3 285.6 L178.55 285.54 L178.8 285.36 L179.05 285.07 L179.3 284.71 L179.55 284.27 L179.8 283.77 L180.05 283.23 L180.3 282.66 L180.55 282.08 L180.8 281.51 L181.05 280.95 L181.3 280.43 L181.55 279.95 L181.8 279.54 L182.05 279.2 L182.3 278.96 L182.55 278.82 L182.8 278.82 L183.05 279.04 L183.3 279.47 L183.55 280.1 L183.8 280.9 L184.05 281.83 L184.3 282.88 L184.55 284.02 L184.8 285.22 L185.05 286.45 L185.3 287.7 L185.55 288.93 L185.8 290.12 L186.05 291.24 L186.3 292.27 L186.55 293.18 L186.8 293.94 L187.05 294.53 L187.3 294.92 L187.55 295.09 L187.8 295.02 L188.05 294.69 L188.3 294.13 L188.55 293.36 L188.8 292.41 L189.05 291.28 L189.3 290 L189.55 288.59 L189.8 287.07 L190.05 285.45 L190.3 283.77 L190.55 282.03 L190.8 280.27 L191.05 278.49 L191.3 276.72 L191.55 274.97 L191.8 273.28 L192.05 271.65 L192.3 270.11 L192.55 268.68 L192.8 267.37 L193.05 266.21 L193.3 265.21 L193.55 264.41 L193.8 263.8 L194.05 263.43 L194.3 263.3 L194.55 263.36 L194.8 263.55 L195.05 263.85 L195.3 264.26 L195.55 264.78 L195.8 265.39 L196.05 266.1 L196.3 266.89 L196.55 267.76 L196.8 268.7 L197.05 269.71 L197.3 270.78 L197.55 271.9 L197.8 273.08 L198.05 274.29 L198.3 275.54 L198.55 276.82 L198.8 278.13 L199.05 279.45 L199.3 280.78 L199.55 282.12 L199.8 283.45 L200.05 284.78 L200.3 286.1 L200.55 287.39 L200.8 288.66 L201.05 289.9 L201.3 291.1 L201.55 292.25 L201.8 293.35 L202.05 294.4 L202.3 295.38 L202.55 296.3 L202.8 297.14 L203.05 297.89 L203.3 298.56 L203.55 299.14 L203.8 299.61 L204.05 299.98 L204.3 300.24 L204.55 300.38 L204.8 300.37 L205.05 300.03 L205.3 299.34 L205.55 298.33 L205.8 297.05 L206.05 295.53 L206.3 293.8 L206.55 291.9 L206.8 289.86 L207.05 287.73 L207.3 285.53 L207.55 283.3 L207.8 281.08 L208.05 278.91 L208.3 276.81 L208.55 274.82 L208.8 272.99 L209.05 271.34 L209.3 269.91 L209.55 268.73 L209.8 267.85 L210.05 267.29 L210.3 267.1 L210.55 267.2 L210.8 267.5 L211.05 267.97 L211.3 268.58 L211.55 269.34 L211.8 270.2 L212.05 271.16 L212.3 272.18 L212.55 273.26 L212.8 274.38 L213.05 275.5 L213.3 276.62 L213.55 277.7 L213.8 278.74 L214.05 279.72 L214.3 280.6 L214.55 281.38 L214.8 282.02 L215.05 282.52 L215.3 282.85 L215.55 283 L215.8 282.95 L216.05 282.77 L216.3 282.47 L216.55 282.06 L216.8 281.55 L217.05 280.98 L217.3 280.34 L217.55 279.65 L217.8 278.93 L218.05 278.2 L218.3 277.47 L218.55 276.75 L218.8 276.06 L219.05 275.42 L219.3 274.85 L219.55 274.34 L219.8 273.93 L220.05 273.63 L220.3 273.45 L220.55 273.4 L220.8 273.44 L221.05 273.54 L221.3 273.69 L221.55 273.9 L221.8 274.15 L222.05 274.44 L222.3 274.78 L222.55 275.15 L222.8 275.56 L223.05 276 L223.3 276.47 L223.55 276.96 L223.8 277.48 L224.05 278.02 L224.3 278.57 L224.55 279.14 L224.8 279.71 L225.05 280.3 L225.3 280.88 L225.55 281.47 L225.8 282.05 L226.05 282.63 L226.3 283.2 L226.55 283.76 L226.8 284.31 L227.05 284.83 L227.3 285.34 L227.55 285.82 L227.8 286.27 L228.05 286.69 L228.3 287.08 L228.55 287.43 L228.8 287.74 L229.05 288.01 L229.3 288.23 L229.55 288.4 L229.8 288.52 L230.05 288.59 L230.3 288.59 L230.55 288.48 L230.8 288.25 L231.05 287.91 L231.3 287.48 L231.55 286.95 L231.8 286.33 L232.05 285.64 L232.3 284.88 L232.55 284.06 L232.8 283.18 L233.05 282.26 L233.3 281.3 L233.55 280.31 L233.8 279.3 L234.05 278.28 L234.3 277.24 L234.55 276.21 L234.8 275.19 L235.05 274.19 L235.3 273.21 L235.55 272.27 L235.8 271.36 L236.05 270.51 L236.3 269.71 L236.55 268.97 L236.8 268.31 L237.05 267.73 L237.3 267.24 L237.55 266.84 L237.8 266.54 L238.05 266.36 L238.3 266.3 L238.55 266.46 L238.8 266.93 L239.05 267.67 L239.3 268.66 L239.55 269.87 L239.8 271.27 L240.05 272.82 L240.3 274.51 L240.55 276.29 L240.8 278.14 L241.05 280.04 L241.3 281.94 L241.55 283.83 L241.8 285.67 L242.05 287.44 L242.3 289.1 L242.55 290.62 L242.8 291.99 L243.05 293.15 L243.3 294.1 L243.55 294.79 L243.8 295.2 L244.05 295.3 L244.3 295.13 L244.55 294.75 L244.8 294.16 L245.05 293.39 L245.3 292.45 L245.55 291.36 L245.8 290.15 L246.05 288.82 L246.3 287.39 L246.55 285.9 L246.8 284.34 L247.05 282.74 L247.3 281.12 L247.55 279.5 L247.8 277.9 L248.05 276.32 L248.3 274.8 L248.55 273.34 L248.8 271.97 L249.05 270.71 L249.3 269.57 L249.55 268.57 L249.8 267.73 L250.05 267.07 L250.3 266.6 L250.55 266.34 L250.8 266.31 L251.05 266.41 L251.3 266.6" fill="none" stroke="#4040ff" stroke-width="1.1" stroke-linejoin="round" />
<path d="M321 301.5 L321.5 300.84 L322 300.17 L322.5 299.49 L323 298.8 L323.5 298.1 L324 297.4 L324.5 296.68 L325 295.96 L325.5 295.23 L326 294.5 L326.5 293.77 L327 293.03 L327.5 292.29 L328 291.56 L328.5 290.82 L329 290.08 L329.5 289.35 L330 288.62 L330.5 287.89 L331 287.17 L331.5 286.45 L332 285.74 L332.5 285.04 L333 284.35 L333.5 283.67 L334 283 L334.5 282.34 L335 281.69 L335.5 281.06 L336 280.44 L336.5 279.84 L337 279.25 L337.5 278.68 L338 278.12 L338.5 277.57 L339 277.02 L339.5 276.48 L340 275.95 L340.5 275.42 L341 274.89 L341.5 274.36 L342 273.83 L342.5 273.3 L343 272.76 L343.5 272.21 L344 271.65 L344.5 271.09 L345 270.51 L345.5 269.92 L346 269.32 L346.5 268.71 L347 268.1 L347.5 267.49 L348 266.87 L348.5 266.26 L349 265.64 L349.5 265.03 L350 264.42 L350.5 263.82 L351 263.23 L351.5 262.64 L352 262.07 L352.5 261.51 L353 260.96 L353.5 260.43 L354 259.92 L354.5 259.44 L355 258.97 L355.5 258.54 L356 258.14 L356.5 257.77 L357 257.44 L357.5 257.14 L358 256.89 L358.5 256.68 L359 256.53 L359.5 256.42 L360 256.36 L360.5 256.36 L361 256.4 L361.5 256.5 L362 256.66 L362.5 256.86 L363 257.12 L363.5 257.43 L364 257.8 L364.5 258.22 L365 258.69 L365.5 259.21 L366 259.77 L366.5 260.37 L367 261.01 L367.5 261.68 L368 262.37 L368.5 263.09 L369 263.83 L369.5 264.59 L370 265.36 L370.5 266.14 L371 266.93 L371.5 267.72 L372 268.52 L372.5 269.33 L373 270.16 L373.5 271 L374 271.86 L374.5 272.74 L375 273.63 L375.5 274.56 L376 275.51 L376.5 276.49 L377 277.49 L377.5 278.54 L378 279.6 L378.5 280.68 L379 281.77 L379.5 282.86 L380 283.93 L380.5 284.98 L381 286 L381.5 286.97 L382 287.9 L382.5 288.77 L383 289.57 L383.5 290.32 L384 291.02 L384.5 291.66 L385 292.26 L385.5 292.81 L386 293.31 L386.5 293.76 L387 294.18 L387.5 294.56 L388 294.89 L388.5 295.19 L389 295.45 L389.5 295.67 L390 295.86 L390.5 296 L391 296.11 L391.5 296.18 L392 296.21 L392.5 296.2 L393 296.16 L393.5 296.09 L394 295.98 L394.5 295.84 L395 295.67 L395.5 295.48 L396 295.25 L396.5 295.01 L397 294.73 L397.5 294.44 L398 294.14 L398.5 293.82 L399 293.49 L399.5 293.15 L400 292.82 L400.5 292.49 L401 292.17 L401.5 291.86 L402 291.55 L402.5 291.24 L403 290.92 L403.5 290.58 L404 290.23 L404.5 289.86 L405 289.45 L405.5 289.01 L406 288.54 L406.5 288.01 L407 287.44 L407.5 286.81 L408 286.15 L408.5 285.44 L409 284.69 L409.5 283.91 L410 283.1 L410.5 282.26 L411 281.4 L411.5 280.52 L412 279.63 L412.5 278.75 L413 277.87 L413.5 277.01 L414 276.18 L414.5 275.39 L415 274.65 L415.5 273.97 L416 273.35 L416.5 272.8 L417 272.3 L417.5 271.87 L418 271.49 L418.5 271.17 L419 270.9 L419.5 270.68 L420 270.51 L420.5 270.39 L421 270.33 L421.5 270.32 L422 270.37 L422.5 270.47 L423 270.63 L423.5 270.85 L424 271.11 L424.5 271.42 L425 271.76 L425.5 272.14 L426 272.54 L426.5 272.96 L427 273.4 L427.5 273.85 L428 274.3 L428.5 274.75 L429 275.21 L429.5 275.65 L430 276.09 L430.5 276.52 L431 276.92 L431.5 277.31 L432 277.68 L432.5 278.01 L433 278.32 L433.5 278.59 L434 278.84 L434.5 279.06 L435 279.26 L435.5 279.45 L436 279.64 L436.5 279.81 L437 279.99 L437.5 280.17 L438 280.36 L438.5 280.56 L439 280.78 L439.5 281.01 L440 281.26 L440.5 281.51 L441 281.78 L441.5 282.04 L442 282.3 L442.5 282.57 L443 282.82 L443.5 283.06 L444 283.29 L444.5 283.5 L445 283.69 L445.5 283.86 L446 284.02 L446.5 284.15 L447 284.28 L447.5 284.38 L448 284.48 L448.5 284.56 L449 284.63 L449.5 284.69 L450 284.73 L450.5 284.76 L451 284.78 L451.5 284.77 L452 284.75 L452.5 284.7 L453 284.63 L453.5 284.54 L454 284.42 L454.5 284.27 L455 284.1 L455.5 283.89 L456 283.66 L456.5 283.41 L457 283.12 L457.5 282.8 L458 282.45 L458.5 282.09 L459 281.7 L459.5 281.32 L460 280.93 L460.5 280.55 L461 280.19 L461.5 279.85 L462 279.54 L462.5 279.27 L463 279.05 L463.5 278.88 L464 278.76 L464.5 278.7 L465 278.71 L465.5 278.79 L466 278.92 L466.5 279.11 L467 279.33 L467.5 279.59 L468 279.87 L468.5 280.17 L469 280.48 L469.5 280.78 L470 281.08 L470.5 281.35 L471 281.6 L471.5 281.81 L472 281.97 L472.5 282.07 L473 282.1 L473.5 282.06 L474 281.96 L474.5 281.79 L475 281.58 L475.5 281.32 L476 281.03 L476.5 280.72 L477 280.38 L477.5 280.03 L478 279.68 L478.5 279.34 L479 279 L479.5 278.68 L480 278.39 L480.5 278.12 L481 277.88 L481.5 277.67 L482 277.5 L482.5 277.36 L483 277.27 L483.5 277.23 L484 277.24 L484.5 277.3 L485 277.42 L485.5 277.59 L486 277.8 L486.5 278.06 L487 278.34 L487.5 278.65 L488 278.98 L488.5 279.32 L489 279.67 L489.5 280.02 L490 280.36 L490.5 280.68 L491 280.99 L491.5 281.27 L492 281.52 L492.5 281.74 L493 281.91 L493.5 282.03 L494 282.1 L494.5 282.11 L495 282.06 L495.5 281.97 L496 281.84 L496.5 281.68 L497 281.49 L497.5 281.29 L498 281.07 L498.5 280.85 L499 280.64 L499.5 280.44 L500 280.25 L500.5 280.08 L501 279.93 L501.5 279.8 L502 279.68 L502.5 279.59 L503 279.52 L503.5 279.48 L504 279.46 L504.5 279.47 L505 279.51 L505.5 279.58 L506 279.67 L506.5 279.79 L507 279.92 L507.5 280.07 L508 280.23 L508.5 280.39 L509 280.56 L509.5 280.73 L510 280.89 L510.5 281.04 L511 281.18 L511.5 281.31 L512 281.42 L512.5 281.52 L513 281.61 L513.5 281.67 L514 281.72 L514.5 281.75 L515 281.77 L515.5 281.76 L516 281.74 L516.5 281.7 L517 281.64 L517.5 281.56 L518 281.46 L518.5 281.34 L519 281.21 L519.5 281.06 L520 280.89 L520.5 280.71 L521 280.51 L521.5 280.31 L522 280.09 L522.5 279.85 L523 279.61 L523.5 279.36 L524 279.11 L524.5 278.87 L525 278.64 L525.5 278.42 L526 278.22 L526.5 278.04 L527 277.9 L527.5 277.79 L528 277.72 L528.5 277.69 L529 277.71 L529.5 277.77 L530 277.87 L530.5 278 L531 278.16 L531.5 278.35 L532 278.57 L532.5 278.8 L533 279.06 L533.5 279.32 L534 279.6 L534.5 279.88 L535 280.17 L535.5 280.46 L536 280.74 L536.5 281.02 L537 281.28 L537.5 281.53 L538 281.77 L538.5 281.98 L539 282.17 L539.5 282.33 L540 282.46 L540.5 282.56 L540.8 282.6" fill="none" stroke="#4040ff" stroke-width="1.1" stroke-linejoin="round" />
<path d="M31.3 359.9 L31.8 358.95 L32.3 358.02 L32.8 357.12 L33.3 356.25 L33.8 355.4 L34.3 354.57 L34.8 353.76 L35.3 352.98 L35.8 352.22 L36.3 351.48 L36.8 350.77 L37.3 350.07 L37.8 349.4 L38.3 348.74 L38.8 348.11 L39.3 347.49 L39.8 346.89 L40.3 346.32 L40.8 345.76 L41.3 345.21 L41.8 344.69 L42.3 344.18 L42.8 343.69 L43.3 343.21 L43.8 342.75 L44.3 342.31 L44.8 341.88 L45.3 341.46 L45.8 341.06 L46.3 340.68 L46.8 340.3 L47.3 339.94 L47.8 339.59 L48.3 339.25 L48.8 338.92 L49.3 338.61 L49.8 338.31 L50.3 338.01 L50.8 337.73 L51.3 337.46 L51.8 337.2 L52.3 336.95 L52.8 336.71 L53.3 336.48 L53.8 336.26 L54.3 336.04 L54.8 335.84 L55.3 335.64 L55.8 335.45 L56.3 335.27 L56.8 335.09 L57.3 334.93 L57.8 334.77 L58.3 334.62 L58.8 334.47 L59.3 334.33 L59.8 334.19 L60.3 334.07 L60.8 333.94 L61.3 333.83 L61.8 333.71 L62.3 333.61 L62.8 333.5 L63.3 333.41 L63.8 333.31 L64.3 333.22 L64.8 333.14 L65.3 333.06 L65.8 332.98 L66.3 332.9 L66.8 332.83 L67.3 332.76 L67.8 332.7 L68.3 332.64 L68.8 332.58 L69.3 332.52 L69.8 332.46 L70.3 332.41 L70.8 332.36 L71.3 332.32 L71.8 332.29 L72.3 332.25 L72.8 332.23 L73.3 332.21 L73.8 332.2 L74.3 332.2 L74.8 332.21 L75.3 332.22 L75.8 332.24 L76.3 332.28 L76.8 332.31 L77.3 332.36 L77.8 332.41 L78.3 332.47 L78.8 332.54 L79.3 332.61 L79.8 332.7 L80.3 332.78 L80.8 332.88 L81.3 332.98 L81.8 333.08 L82.3 333.19 L82.8 333.31 L83.3 333.43 L83.8 333.56 L84.3 333.69 L84.8 333.82 L85.3 333.97 L85.8 334.11 L86.3 334.26 L86.8 334.41 L87.3 334.57 L87.8 334.73 L88.3 334.9 L88.8 335.07 L89.3 335.24 L89.8 335.41 L90.3 335.59 L90.8 335.77 L91.3 335.96 L91.8 336.15 L92.3 336.34 L92.8 336.53 L93.3 336.73 L93.8 336.93 L94.3 337.13 L94.8 337.33 L95.3 337.54 L95.8 337.74 L96.3 337.95 L96.8 338.16 L97.3 338.38 L97.8 338.59 L98.3 338.81 L98.8 339.03 L99.3 339.24 L99.8 339.46 L100.3 339.69 L100.8 339.91 L101.3 340.13 L101.8 340.36 L102.3 340.59 L102.8 340.82 L103.3 341.05 L103.8 341.28 L104.3 341.52 L104.8 341.76 L105.3 342 L105.8 342.24 L106.3 342.49 L106.8 342.74 L107.3 342.99 L107.8 343.25 L108.3 343.5 L108.8 343.77 L109.3 344.03 L109.8 344.3 L110.3 344.57 L110.8 344.85 L111.3 345.13 L111.8 345.41 L112.3 345.7 L112.8 345.99 L113.3 346.29 L113.8 346.59 L114.3 346.9 L114.8 347.21 L115.3 347.52 L115.8 347.85 L116.3 348.17 L116.8 348.51 L117.3 348.85 L117.8 349.19 L118.3 349.55 L118.8 349.91 L119.3 350.27 L119.8 350.65 L120.3 351.03 L120.8 351.42 L121.3 351.81 L121.8 352.22 L122.3 352.63 L122.8 353.06 L123.3 353.49 L123.8 353.93 L124.3 354.38 L124.8 354.83 L125.3 355.3 L125.8 355.77 L126.3 356.25 L126.8 356.74 L127.3 357.24 L127.8 357.74 L128.3 358.25 L128.8 358.77 L129.3 359.29 L129.8 359.82 L130.3 360.35 L130.8 360.89 L131.3 361.44 L131.8 361.99 L132.3 362.54 L132.8 363.1 L133.3 363.67 L133.8 364.24 L134.3 364.81 L134.8 365.38 L135.3 365.96 L135.8 366.54 L136.3 367.12 L136.8 367.71 L137.3 368.29 L137.8 368.88 L138.3 369.46 L138.8 370.05 L139.3 370.64 L139.8 371.23 L140.3 371.82 L140.8 372.4 L141.3 372.99 L141.8 373.58 L142.3 374.16 L142.8 374.75 L143.3 375.33 L143.8 375.92 L144.3 376.5 L144.8 377.08 L145.3 377.65 L145.8 378.23 L146.3 378.79 L146.8 379.35 L147.3 379.91 L147.8 380.45 L148.3 380.99 L148.8 381.51 L149.3 382.03 L149.8 382.53 L150.3 383.02 L150.8 383.5 L151.3 383.96 L151.8 384.4 L152.3 384.83 L152.8 385.24 L153.3 385.64 L153.8 386.01 L154.3 386.35 L154.8 386.67 L155.3 386.96 L155.8 387.22 L156.3 387.45 L156.8 387.64 L157.3 387.79 L157.8 387.9 L158.3 387.98 L158.8 388 L159.3 387.98 L159.8 387.92 L160.3 387.8 L160.8 387.65 L161.3 387.45 L161.8 387.21 L162.3 386.93 L162.8 386.61 L163.3 386.26 L163.8 385.87 L164.3 385.45 L164.8 384.99 L165.3 384.5 L165.8 383.99 L166.3 383.44 L166.8 382.87 L167.3 382.26 L167.8 381.63 L168.3 380.97 L168.8 380.28 L169.3 379.56 L169.8 378.81 L170.3 378.04 L170.8 377.23 L171.3 376.4 L171.8 375.54 L172.3 374.65 L172.8 373.73 L173.3 372.78 L173.8 371.8 L174.3 370.8 L174.8 369.77 L175.3 368.71 L175.8 367.63 L176.3 366.53 L176.8 365.41 L177.3 364.28 L177.8 363.13 L178.3 361.98 L178.8 360.82 L179.3 359.65 L179.8 358.49 L180.3 357.33 L180.8 356.17 L181.3 355.02 L181.8 353.88 L182.3 352.75 L182.8 351.64 L183.3 350.55 L183.8 349.47 L184.3 348.42 L184.8 347.39 L185.3 346.39 L185.8 345.4 L186.3 344.45 L186.8 343.51 L187.3 342.61 L187.8 341.73 L188.3 340.88 L188.8 340.05 L189.3 339.26 L189.8 338.5 L190.3 337.77 L190.8 337.07 L191.3 336.41 L191.8 335.78 L192.3 335.18 L192.8 334.62 L193.3 334.1 L193.8 333.61 L194.3 333.16 L194.8 332.75 L195.3 332.38 L195.8 332.05 L196.3 331.75 L196.8 331.5 L197.3 331.29 L197.8 331.12 L198.3 331 L198.8 330.92 L199.3 330.88 L199.8 330.88 L200.3 330.92 L200.8 331 L201.3 331.12 L201.8 331.28 L202.3 331.47 L202.8 331.69 L203.3 331.95 L203.8 332.24 L204.3 332.56 L204.8 332.9 L205.3 333.27 L205.8 333.67 L206.3 334.08 L206.8 334.51 L207.3 334.97 L207.8 335.43 L208.3 335.92 L208.8 336.41 L209.3 336.91 L209.8 337.43 L210.3 337.95 L210.8 338.47 L211.3 339 L211.8 339.52 L212.3 340.05 L212.8 340.57 L213.3 341.09 L213.8 341.6 L214.3 342.11 L214.8 342.61 L215.3 343.1 L215.8 343.58 L216.3 344.05 L216.8 344.53 L217.3 344.99 L217.8 345.45 L218.3 345.9 L218.8 346.35 L219.3 346.79 L219.8 347.23 L220.3 347.67 L220.8 348.1 L221.3 348.53 L221.8 348.95 L222.3 349.37 L222.8 349.79 L223.3 350.21 L223.8 350.62 L224.3 351.04 L224.8 351.45 L225.3 351.86 L225.8 352.26 L226.3 352.67 L226.8 353.08 L227.3 353.48 L227.8 353.88 L228.3 354.29 L228.8 354.69 L229.3 355.09 L229.8 355.49 L230.3 355.89 L230.8 356.28 L231.3 356.68 L231.8 357.07 L232.3 357.47 L232.8 357.86 L233.3 358.26 L233.8 358.65 L234.3 359.04 L234.8 359.43 L235.3 359.82 L235.8 360.21 L236.3 360.6 L236.8 360.99 L237.3 361.39 L237.8 361.79 L238.3 362.19 L238.8 362.6 L239.3 363.02 L239.8 363.44 L240.3 363.87 L240.8 364.32 L241.3 364.77 L241.8 365.24 L242.3 365.72 L242.8 366.22 L243.3 366.73 L243.8 367.26 L244.3 367.81 L244.8 368.37 L245.3 368.96 L245.8 369.57 L246.3 370.2 L246.8 370.85 L247.3 371.53 L247.8 372.24 L248.3 372.97 L248.8 373.73 L249.3 374.52 L249.8 375.34 L250.3 376.2 L250.8 377.08 L251.3 378" fill="none" stroke="#4040ff" stroke-width="1.1" stroke-linejoin="round" />
<path d="M321 359.8 L321.5 360.27 L322 360.73 L322.5 361.2 L323 361.66 L323.5 362.13 L324 362.59 L324.5 363.06 L325 363.52 L325.5 363.98 L326 364.44 L326.5 364.9 L327 365.36 L327.5 365.82 L328 366.27 L328.5 366.73 L329 367.18 L329.5 367.63 L330 368.08 L330.5 368.52 L331 368.97 L331.5 369.41 L332 369.84 L332.5 370.28 L333 370.71 L333.5 371.14 L334 371.56 L334.5 371.98 L335 372.4 L335.5 372.81 L336 373.22 L336.5 373.63 L337 374.03 L337.5 374.43 L338 374.82 L338.5 375.21 L339 375.59 L339.5 375.97 L340 376.35 L340.5 376.71 L341 377.08 L341.5 377.43 L342 377.79 L342.5 378.13 L343 378.47 L343.5 378.81 L344 379.13 L344.5 379.46 L345 379.77 L345.5 380.08 L346 380.38 L346.5 380.68 L347 380.97 L347.5 381.26 L348 381.53 L348.5 381.81 L349 382.07 L349.5 382.33 L350 382.58 L350.5 382.83 L351 383.06 L351.5 383.3 L352 383.52 L352.5 383.74 L353 383.95 L353.5 384.16 L354 384.35 L354.5 384.54 L355 384.73 L355.5 384.91 L356 385.07 L356.5 385.24 L357 385.39 L357.5 385.54 L358 385.68 L358.5 385.82 L359 385.94 L359.5 386.07 L360 386.18 L360.5 386.29 L361 386.4 L361.5 386.49 L362 386.59 L362.5 386.68 L363 386.76 L363.5 386.84 L364 386.92 L364.5 386.99 L365 387.05 L365.5 387.12 L366 387.18 L366.5 387.23 L367 387.29 L367.5 387.34 L368 387.38 L368.5 387.43 L369 387.47 L369.5 387.5 L370 387.54 L370.5 387.57 L371 387.6 L371.5 387.62 L372 387.64 L372.5 387.66 L373 387.67 L373.5 387.68 L374 387.68 L374.5 387.69 L375 387.68 L375.5 387.68 L376 387.67 L376.5 387.66 L377 387.64 L377.5 387.62 L378 387.6 L378.5 387.57 L379 387.54 L379.5 387.51 L380 387.47 L380.5 387.43 L381 387.38 L381.5 387.33 L382 387.28 L382.5 387.22 L383 387.16 L383.5 387.1 L384 387.03 L384.5 386.96 L385 386.89 L385.5 386.81 L386 386.73 L386.5 386.64 L387 386.55 L387.5 386.46 L388 386.37 L388.5 386.27 L389 386.17 L389.5 386.06 L390 385.96 L390.5 385.85 L391 385.73 L391.5 385.61 L392 385.49 L392.5 385.37 L393 385.24 L393.5 385.11 L394 384.98 L394.5 384.84 L395 384.7 L395.5 384.56 L396 384.42 L396.5 384.27 L397 384.12 L397.5 383.96 L398 383.81 L398.5 383.65 L399 383.48 L399.5 383.32 L400 383.15 L400.5 382.98 L401 382.8 L401.5 382.63 L402 382.45 L402.5 382.26 L403 382.08 L403.5 381.89 L404 381.7 L404.5 381.51 L405 381.31 L405.5 381.11 L406 380.91 L406.5 380.71 L407 380.5 L407.5 380.29 L408 380.08 L408.5 379.86 L409 379.65 L409.5 379.42 L410 379.2 L410.5 378.97 L411 378.74 L411.5 378.51 L412 378.28 L412.5 378.04 L413 377.8 L413.5 377.55 L414 377.3 L414.5 377.05 L415 376.8 L415.5 376.54 L416 376.28 L416.5 376.02 L417 375.75 L417.5 375.48 L418 375.21 L418.5 374.93 L419 374.65 L419.5 374.37 L420 374.09 L420.5 373.8 L421 373.51 L421.5 373.21 L422 372.92 L422.5 372.62 L423 372.32 L423.5 372.01 L424 371.71 L424.5 371.4 L425 371.09 L425.5 370.78 L426 370.47 L426.5 370.15 L427 369.84 L427.5 369.52 L428 369.2 L428.5 368.88 L429 368.56 L429.5 368.24 L430 367.92 L430.5 367.6 L431 367.27 L431.5 366.95 L432 366.63 L432.5 366.3 L433 365.98 L433.5 365.65 L434 365.33 L434.5 365.01 L435 364.68 L435.5 364.36 L436 364.03 L436.5 363.71 L437 363.39 L437.5 363.06 L438 362.74 L438.5 362.41 L439 362.08 L439.5 361.76 L440 361.43 L440.5 361.1 L441 360.77 L441.5 360.44 L442 360.11 L442.5 359.77 L443 359.44 L443.5 359.1 L444 358.76 L444.5 358.42 L445 358.08 L445.5 357.74 L446 357.39 L446.5 357.04 L447 356.69 L447.5 356.34 L448 355.99 L448.5 355.63 L449 355.27 L449.5 354.9 L450 354.54 L450.5 354.17 L451 353.8 L451.5 353.43 L452 353.06 L452.5 352.68 L453 352.31 L453.5 351.93 L454 351.55 L454.5 351.18 L455 350.8 L455.5 350.42 L456 350.04 L456.5 349.66 L457 349.28 L457.5 348.9 L458 348.52 L458.5 348.15 L459 347.77 L459.5 347.39 L460 347.02 L460.5 346.65 L461 346.28 L461.5 345.91 L462 345.54 L462.5 345.17 L463 344.81 L463.5 344.45 L464 344.09 L464.5 343.73 L465 343.38 L465.5 343.03 L466 342.69 L466.5 342.34 L467 342 L467.5 341.67 L468 341.33 L468.5 341.01 L469 340.68 L469.5 340.36 L470 340.04 L470.5 339.73 L471 339.43 L471.5 339.12 L472 338.83 L472.5 338.53 L473 338.25 L473.5 337.97 L474 337.69 L474.5 337.42 L475 337.15 L475.5 336.9 L476 336.64 L476.5 336.4 L477 336.16 L477.5 335.92 L478 335.7 L478.5 335.47 L479 335.26 L479.5 335.05 L480 334.85 L480.5 334.65 L481 334.46 L481.5 334.27 L482 334.09 L482.5 333.91 L483 333.74 L483.5 333.57 L484 333.41 L484.5 333.25 L485 333.1 L485.5 332.95 L486 332.81 L486.5 332.67 L487 332.53 L487.5 332.4 L488 332.27 L488.5 332.15 L489 332.03 L489.5 331.91 L490 331.8 L490.5 331.69 L491 331.58 L491.5 331.47 L492 331.37 L492.5 331.28 L493 331.18 L493.5 331.1 L494 331.01 L494.5 330.94 L495 330.87 L495.5 330.8 L496 330.74 L496.5 330.69 L497 330.65 L497.5 330.62 L498 330.59 L498.5 330.57 L499 330.57 L499.5 330.57 L500 330.58 L500.5 330.61 L501 330.64 L501.5 330.69 L502 330.74 L502.5 330.81 L503 330.88 L503.5 330.97 L504 331.07 L504.5 331.18 L505 331.29 L505.5 331.42 L506 331.56 L506.5 331.7 L507 331.86 L507.5 332.02 L508 332.2 L508.5 332.38 L509 332.57 L509.5 332.77 L510 332.98 L510.5 333.2 L511 333.43 L511.5 333.66 L512 333.9 L512.5 334.15 L513 334.41 L513.5 334.67 L514 334.95 L514.5 335.23 L515 335.52 L515.5 335.83 L516 336.14 L516.5 336.46 L517 336.79 L517.5 337.14 L518 337.49 L518.5 337.86 L519 338.23 L519.5 338.62 L520 339.02 L520.5 339.43 L521 339.86 L521.5 340.3 L522 340.75 L522.5 341.22 L523 341.7 L523.5 342.19 L524 342.7 L524.5 343.22 L525 343.76 L525.5 344.31 L526 344.88 L526.5 345.45 L527 346.04 L527.5 346.65 L528 347.26 L528.5 347.88 L529 348.52 L529.5 349.16 L530 349.81 L530.5 350.47 L531 351.14 L531.5 351.82 L532 352.51 L532.5 353.2 L533 353.9 L533.5 354.6 L534 355.31 L534.5 356.02 L535 356.74 L535.5 357.46 L536 358.19 L536.5 358.91 L537 359.64 L537.5 360.37 L538 361.1 L538.5 361.84 L539 362.57 L539.5 363.3 L540 364.03 L540.5 364.76 L540.8 365.2" fill="none" stroke="#4040ff" stroke-width="1.1" stroke-linejoin="round" />
<path d="M31.3 419.67 L31.8 420.03 L32.3 420.4 L32.8 420.76 L33.3 421.12 L33.8 421.47 L34.3 421.83 L34.8 422.18 L35.3 422.54 L35.8 422.89 L36.3 423.24 L36.8 423.59 L37.3 423.94 L37.8 424.28 L38.3 424.62 L38.8 424.97 L39.3 425.31 L39.8 425.65 L40.3 425.98 L40.8 426.32 L41.3 426.65 L41.8 426.99 L42.3 427.32 L42.8 427.65 L43.3 427.97 L43.8 428.3 L44.3 428.63 L44.8 428.95 L45.3 429.27 L45.8 429.59 L46.3 429.91 L46.8 430.22 L47.3 430.54 L47.8 430.85 L48.3 431.16 L48.8 431.47 L49.3 431.78 L49.8 432.09 L50.3 432.39 L50.8 432.69 L51.3 433 L51.8 433.3 L52.3 433.59 L52.8 433.89 L53.3 434.18 L53.8 434.48 L54.3 434.77 L54.8 435.06 L55.3 435.35 L55.8 435.63 L56.3 435.92 L56.8 436.2 L57.3 436.48 L57.8 436.76 L58.3 437.04 L58.8 437.31 L59.3 437.59 L59.8 437.86 L60.3 438.13 L60.8 438.4 L61.3 438.67 L61.8 438.93 L62.3 439.19 L62.8 439.46 L63.3 439.72 L63.8 439.98 L64.3 440.23 L64.8 440.49 L65.3 440.74 L65.8 440.99 L66.3 441.24 L66.8 441.49 L67.3 441.74 L67.8 441.98 L68.3 442.22 L68.8 442.46 L69.3 442.7 L69.8 442.94 L70.3 443.18 L70.8 443.41 L71.3 443.64 L71.8 443.87 L72.3 444.1 L72.8 444.33 L73.3 444.55 L73.8 444.78 L74.3 445 L74.8 445.22 L75.3 445.44 L75.8 445.65 L76.3 445.87 L76.8 446.08 L77.3 446.29 L77.8 446.5 L78.3 446.71 L78.8 446.91 L79.3 447.12 L79.8 447.32 L80.3 447.52 L80.8 447.72 L81.3 447.91 L81.8 448.11 L82.3 448.3 L82.8 448.49 L83.3 448.68 L83.8 448.87 L84.3 449.05 L84.8 449.24 L85.3 449.42 L85.8 449.6 L86.3 449.78 L86.8 449.95 L87.3 450.13 L87.8 450.3 L88.3 450.47 L88.8 450.64 L89.3 450.81 L89.8 450.97 L90.3 451.14 L90.8 451.3 L91.3 451.46 L91.8 451.62 L92.3 451.77 L92.8 451.93 L93.3 452.08 L93.8 452.23 L94.3 452.38 L94.8 452.53 L95.3 452.68 L95.8 452.82 L96.3 452.96 L96.8 453.1 L97.3 453.24 L97.8 453.38 L98.3 453.51 L98.8 453.64 L99.3 453.77 L99.8 453.9 L100.3 454.03 L100.8 454.16 L101.3 454.28 L101.8 454.4 L102.3 454.52 L102.8 454.64 L103.3 454.76 L103.8 454.87 L104.3 454.98 L104.8 455.1 L105.3 455.2 L105.8 455.31 L106.3 455.42 L106.8 455.52 L107.3 455.62 L107.8 455.72 L108.3 455.82 L108.8 455.92 L109.3 456.01 L109.8 456.1 L110.3 456.2 L110.8 456.28 L111.3 456.37 L111.8 456.46 L112.3 456.54 L112.8 456.62 L113.3 456.7 L113.8 456.78 L114.3 456.86 L114.8 456.93 L115.3 457 L115.8 457.08 L116.3 457.14 L116.8 457.21 L117.3 457.28 L117.8 457.34 L118.3 457.4 L118.8 457.46 L119.3 457.52 L119.8 457.58 L120.3 457.63 L120.8 457.69 L121.3 457.74 L121.8 457.79 L122.3 457.83 L122.8 457.88 L123.3 457.92 L123.8 457.96 L124.3 458 L124.8 458.04 L125.3 458.08 L125.8 458.12 L126.3 458.15 L126.8 458.18 L127.3 458.21 L127.8 458.24 L128.3 458.26 L128.8 458.29 L129.3 458.31 L129.8 458.33 L130.3 458.35 L130.8 458.37 L131.3 458.38 L131.8 458.4 L132.3 458.41 L132.8 458.42 L133.3 458.43 L133.8 458.43 L134.3 458.44 L134.8 458.44 L135.3 458.44 L135.8 458.44 L136.3 458.44 L136.8 458.44 L137.3 458.43 L137.8 458.42 L138.3 458.41 L138.8 458.4 L139.3 458.39 L139.8 458.38 L140.3 458.36 L140.8 458.34 L141.3 458.32 L141.8 458.3 L142.3 458.28 L142.8 458.25 L143.3 458.23 L143.8 458.2 L144.3 458.17 L144.8 458.14 L145.3 458.1 L145.8 458.07 L146.3 458.03 L146.8 458 L147.3 457.96 L147.8 457.91 L148.3 457.87 L148.8 457.83 L149.3 457.78 L149.8 457.73 L150.3 457.68 L150.8 457.63 L151.3 457.58 L151.8 457.52 L152.3 457.46 L152.8 457.4 L153.3 457.34 L153.8 457.28 L154.3 457.22 L154.8 457.15 L155.3 457.09 L155.8 457.02 L156.3 456.95 L156.8 456.88 L157.3 456.81 L157.8 456.73 L158.3 456.65 L158.8 456.58 L159.3 456.5 L159.8 456.42 L160.3 456.33 L160.8 456.25 L161.3 456.16 L161.8 456.07 L162.3 455.99 L162.8 455.89 L163.3 455.8 L163.8 455.71 L164.3 455.61 L164.8 455.52 L165.3 455.42 L165.8 455.32 L166.3 455.21 L166.8 455.11 L167.3 455.01 L167.8 454.9 L168.3 454.79 L168.8 454.68 L169.3 454.57 L169.8 454.46 L170.3 454.34 L170.8 454.23 L171.3 454.11 L171.8 453.99 L172.3 453.87 L172.8 453.75 L173.3 453.63 L173.8 453.5 L174.3 453.38 L174.8 453.25 L175.3 453.12 L175.8 452.99 L176.3 452.86 L176.8 452.72 L177.3 452.59 L177.8 452.45 L178.3 452.31 L178.8 452.17 L179.3 452.03 L179.8 451.89 L180.3 451.75 L180.8 451.6 L181.3 451.45 L181.8 451.31 L182.3 451.16 L182.8 451.01 L183.3 450.85 L183.8 450.7 L184.3 450.54 L184.8 450.39 L185.3 450.23 L185.8 450.07 L186.3 449.91 L186.8 449.75 L187.3 449.58 L187.8 449.42 L188.3 449.25 L188.8 449.09 L189.3 448.92 L189.8 448.75 L190.3 448.58 L190.8 448.4 L191.3 448.23 L191.8 448.05 L192.3 447.88 L192.8 447.7 L193.3 447.52 L193.8 447.34 L194.3 447.16 L194.8 446.97 L195.3 446.79 L195.8 446.6 L196.3 446.42 L196.8 446.23 L197.3 446.04 L197.8 445.85 L198.3 445.66 L198.8 445.46 L199.3 445.27 L199.8 445.07 L200.3 444.88 L200.8 444.68 L201.3 444.48 L201.8 444.28 L202.3 444.08 L202.8 443.87 L203.3 443.67 L203.8 443.46 L204.3 443.26 L204.8 443.05 L205.3 442.84 L205.8 442.63 L206.3 442.42 L206.8 442.21 L207.3 441.99 L207.8 441.78 L208.3 441.56 L208.8 441.35 L209.3 441.13 L209.8 440.91 L210.3 440.69 L210.8 440.47 L211.3 440.25 L211.8 440.02 L212.3 439.8 L212.8 439.57 L213.3 439.35 L213.8 439.12 L214.3 438.89 L214.8 438.66 L215.3 438.43 L215.8 438.2 L216.3 437.97 L216.8 437.73 L217.3 437.5 L217.8 437.26 L218.3 437.03 L218.8 436.79 L219.3 436.55 L219.8 436.31 L220.3 436.07 L220.8 435.83 L221.3 435.59 L221.8 435.35 L222.3 435.1 L222.8 434.86 L223.3 434.61 L223.8 434.36 L224.3 434.12 L224.8 433.87 L225.3 433.62 L225.8 433.37 L226.3 433.12 L226.8 432.87 L227.3 432.61 L227.8 432.36 L228.3 432.1 L228.8 431.85 L229.3 431.59 L229.8 431.34 L230.3 431.08 L230.8 430.82 L231.3 430.56 L231.8 430.3 L232.3 430.04 L232.8 429.78 L233.3 429.52 L233.8 429.25 L234.3 428.99 L234.8 428.72 L235.3 428.46 L235.8 428.19 L236.3 427.93 L236.8 427.66 L237.3 427.39 L237.8 427.12 L238.3 426.85 L238.8 426.58 L239.3 426.31 L239.8 426.04 L240.3 425.77 L240.8 425.5 L241.3 425.22 L241.8 424.95 L242.3 424.68 L242.8 424.4 L243.3 424.12 L243.8 423.85 L244.3 423.57 L244.8 423.29 L245.3 423.02 L245.8 422.74 L246.3 422.46 L246.8 422.18 L247.3 421.9 L247.8 421.62 L248.3 421.34 L248.8 421.06 L249.3 420.78 L249.8 420.49 L250.3 420.21 L250.8 419.93 L251.3 419.64" fill="none" stroke="#4040ff" stroke-width="1.1" stroke-linejoin="round" />
<path d="M321 415.58 L321.5 415.96 L322 416.33 L322.5 416.7 L323 417.08 L323.5 417.45 L324 417.82 L324.5 418.19 L325 418.56 L325.5 418.93 L326 419.29 L326.5 419.66 L327 420.02 L327.5 420.39 L328 420.75 L328.5 421.11 L329 421.47 L329.5 421.83 L330 422.19 L330.5 422.54 L331 422.9 L331.5 423.26 L332 423.61 L332.5 423.96 L333 424.31 L333.5 424.66 L334 425.01 L334.5 425.36 L335 425.71 L335.5 426.05 L336 426.4 L336.5 426.74 L337 427.09 L337.5 427.43 L338 427.77 L338.5 428.11 L339 428.44 L339.5 428.78 L340 429.12 L340.5 429.45 L341 429.78 L341.5 430.11 L342 430.44 L342.5 430.77 L343 431.1 L343.5 431.43 L344 431.75 L344.5 432.08 L345 432.4 L345.5 432.72 L346 433.04 L346.5 433.36 L347 433.68 L347.5 434 L348 434.31 L348.5 434.63 L349 434.94 L349.5 435.25 L350 435.56 L350.5 435.87 L351 436.18 L351.5 436.49 L352 436.79 L352.5 437.09 L353 437.4 L353.5 437.7 L354 438 L354.5 438.3 L355 438.59 L355.5 438.89 L356 439.18 L356.5 439.48 L357 439.77 L357.5 440.06 L358 440.35 L358.5 440.63 L359 440.92 L359.5 441.2 L360 441.49 L360.5 441.77 L361 442.05 L361.5 442.33 L362 442.61 L362.5 442.88 L363 443.16 L363.5 443.43 L364 443.7 L364.5 443.97 L365 444.24 L365.5 444.51 L366 444.77 L366.5 445.04 L367 445.3 L367.5 445.56 L368 445.82 L368.5 446.08 L369 446.34 L369.5 446.6 L370 446.85 L370.5 447.1 L371 447.35 L371.5 447.6 L372 447.85 L372.5 448.1 L373 448.35 L373.5 448.59 L374 448.83 L374.5 449.07 L375 449.31 L375.5 449.55 L376 449.79 L376.5 450.02 L377 450.25 L377.5 450.49 L378 450.72 L378.5 450.95 L379 451.17 L379.5 451.4 L380 451.62 L380.5 451.85 L381 452.07 L381.5 452.29 L382 452.5 L382.5 452.72 L383 452.93 L383.5 453.15 L384 453.36 L384.5 453.57 L385 453.78 L385.5 453.99 L386 454.19 L386.5 454.4 L387 454.6 L387.5 454.8 L388 455 L388.5 455.2 L389 455.39 L389.5 455.59 L390 455.78 L390.5 455.97 L391 456.16 L391.5 456.35 L392 456.53 L392.5 456.72 L393 456.9 L393.5 457.08 L394 457.26 L394.5 457.44 L395 457.62 L395.5 457.79 L396 457.97 L396.5 458.14 L397 458.31 L397.5 458.48 L398 458.65 L398.5 458.81 L399 458.98 L399.5 459.14 L400 459.3 L400.5 459.46 L401 459.61 L401.5 459.77 L402 459.92 L402.5 460.08 L403 460.23 L403.5 460.38 L404 460.52 L404.5 460.67 L405 460.82 L405.5 460.96 L406 461.1 L406.5 461.24 L407 461.38 L407.5 461.51 L408 461.65 L408.5 461.78 L409 461.91 L409.5 462.04 L410 462.17 L410.5 462.29 L411 462.42 L411.5 462.54 L412 462.66 L412.5 462.78 L413 462.9 L413.5 463.02 L414 463.13 L414.5 463.25 L415 463.36 L415.5 463.47 L416 463.57 L416.5 463.68 L417 463.79 L417.5 463.89 L418 463.99 L418.5 464.09 L419 464.19 L419.5 464.29 L420 464.38 L420.5 464.47 L421 464.57 L421.5 464.66 L422 464.74 L422.5 464.83 L423 464.92 L423.5 465 L424 465.08 L424.5 465.16 L425 465.24 L425.5 465.32 L426 465.39 L426.5 465.46 L427 465.54 L427.5 465.61 L428 465.67 L428.5 465.74 L429 465.81 L429.5 465.87 L430 465.93 L430.5 465.99 L431 466.05 L431.5 466.11 L432 466.16 L432.5 466.22 L433 466.27 L433.5 466.32 L434 466.37 L434.5 466.42 L435 466.46 L435.5 466.51 L436 466.55 L436.5 466.59 L437 466.63 L437.5 466.66 L438 466.7 L438.5 466.73 L439 466.77 L439.5 466.8 L440 466.83 L440.5 466.86 L441 466.88 L441.5 466.91 L442 466.93 L442.5 466.95 L443 466.97 L443.5 466.99 L444 467 L444.5 467.02 L445 467.03 L445.5 467.04 L446 467.05 L446.5 467.06 L447 467.07 L447.5 467.07 L448 467.08 L448.5 467.08 L449 467.08 L449.5 467.08 L450 467.07 L450.5 467.07 L451 467.06 L451.5 467.06 L452 467.05 L452.5 467.04 L453 467.02 L453.5 467.01 L454 467 L454.5 466.98 L455 466.96 L455.5 466.94 L456 466.92 L456.5 466.89 L457 466.87 L457.5 466.84 L458 466.82 L458.5 466.79 L459 466.76 L459.5 466.72 L460 466.69 L460.5 466.65 L461 466.62 L461.5 466.58 L462 466.54 L462.5 466.5 L463 466.45 L463.5 466.41 L464 466.36 L464.5 466.31 L465 466.27 L465.5 466.21 L466 466.16 L466.5 466.11 L467 466.05 L467.5 466 L468 465.94 L468.5 465.88 L469 465.82 L469.5 465.76 L470 465.69 L470.5 465.63 L471 465.56 L471.5 465.49 L472 465.42 L472.5 465.35 L473 465.28 L473.5 465.2 L474 465.13 L474.5 465.05 L475 464.97 L475.5 464.89 L476 464.81 L476.5 464.73 L477 464.64 L477.5 464.56 L478 464.47 L478.5 464.38 L479 464.29 L479.5 464.2 L480 464.11 L480.5 464.01 L481 463.92 L481.5 463.82 L482 463.72 L482.5 463.62 L483 463.52 L483.5 463.42 L484 463.32 L484.5 463.21 L485 463.1 L485.5 463 L486 462.89 L486.5 462.78 L487 462.67 L487.5 462.55 L488 462.44 L488.5 462.32 L489 462.21 L489.5 462.09 L490 461.97 L490.5 461.85 L491 461.73 L491.5 461.6 L492 461.48 L492.5 461.35 L493 461.22 L493.5 461.1 L494 460.97 L494.5 460.84 L495 460.7 L495.5 460.57 L496 460.44 L496.5 460.3 L497 460.16 L497.5 460.02 L498 459.88 L498.5 459.74 L499 459.6 L499.5 459.46 L500 459.31 L500.5 459.17 L501 459.02 L501.5 458.87 L502 458.72 L502.5 458.57 L503 458.42 L503.5 458.27 L504 458.12 L504.5 457.96 L505 457.81 L505.5 457.65 L506 457.49 L506.5 457.33 L507 457.17 L507.5 457.01 L508 456.85 L508.5 456.68 L509 456.52 L509.5 456.35 L510 456.19 L510.5 456.02 L511 455.85 L511.5 455.68 L512 455.51 L512.5 455.34 L513 455.16 L513.5 454.99 L514 454.81 L514.5 454.64 L515 454.46 L515.5 454.28 L516 454.1 L516.5 453.92 L517 453.74 L517.5 453.56 L518 453.38 L518.5 453.19 L519 453.01 L519.5 452.82 L520 452.64 L520.5 452.45 L521 452.26 L521.5 452.07 L522 451.88 L522.5 451.69 L523 451.5 L523.5 451.3 L524 451.11 L524.5 450.91 L525 450.72 L525.5 450.52 L526 450.32 L526.5 450.13 L527 449.93 L527.5 449.73 L528 449.53 L528.5 449.32 L529 449.12 L529.5 448.92 L530 448.72 L530.5 448.51 L531 448.31 L531.5 448.1 L532 447.89 L532.5 447.68 L533 447.48 L533.5 447.27 L534 447.06 L534.5 446.85 L535 446.64 L535.5 446.42 L536 446.21 L536.5 446 L537 445.78 L537.5 445.57 L538 445.35 L538.5 445.14 L539 444.92 L539.5 444.7 L540 444.49 L540.5 444.27 L540.8 444.14" fill="none" stroke="#4040ff" stroke-width="1.1" stroke-linejoin="round" />
<path d="M31.2 70.9v-2.8M31.2 13.95v2.8M73.8 70.9v-2.8M73.8 13.95v2.8M116.4 70.9v-2.8M116.4 13.95v2.8M159 70.9v-2.8M159 13.95v2.8M201.6 70.9v-2.8M201.6 13.95v2.8M244.2 70.9v-2.8M244.2 13.95v2.8M31.2 70.9h2.8M251.3 70.9h-2.8M31.2 51.92h2.8M251.3 51.92h-2.8M31.2 32.93h2.8M251.3 32.93h-2.8M31.2 13.95h2.8M251.3 13.95h-2.8" stroke="#666666" stroke-width="1.2" fill="none"/>
<rect x="31.2" y="13.95" width="220.1" height="56.95" fill="none" stroke="#666666" stroke-width="1.25"/>
<text transform="translate(29.4 74.4) scale(1 1)" text-anchor="end">-2</text>
<text transform="translate(29.4 55.42) scale(1 1)" text-anchor="end">0</text>
<text transform="translate(29.4 36.43) scale(1 1)" text-anchor="end">2</text>
<text transform="translate(29.4 17.45) scale(1 1)" text-anchor="end">4</text>
<text transform="translate(31.2 81.6) scale(1 1)" text-anchor="middle">2015</text>
<text transform="translate(73.8 81.6) scale(1 1)" text-anchor="middle">2016</text>
<text transform="translate(116.4 81.6) scale(1 1)" text-anchor="middle">2017</text>
<text transform="translate(159 81.6) scale(1 1)" text-anchor="middle">2018</text>
<text transform="translate(201.6 81.6) scale(1 1)" text-anchor="middle">2019</text>
<text transform="translate(244.2 81.6) scale(1 1)" text-anchor="middle">2020</text>
<text class="yl" transform="translate(18.8 42.83) rotate(-90)" text-anchor="middle">restructured</text>
<path d="M320.8 70.9v-2.8M320.8 13.95v2.8M363.4 70.9v-2.8M363.4 13.95v2.8M406 70.9v-2.8M406 13.95v2.8M448.6 70.9v-2.8M448.6 13.95v2.8M491.2 70.9v-2.8M491.2 13.95v2.8M533.8 70.9v-2.8M533.8 13.95v2.8M320.8 70.9h2.8M540.8 70.9h-2.8M320.8 51.92h2.8M540.8 51.92h-2.8M320.8 32.93h2.8M540.8 32.93h-2.8M320.8 13.95h2.8M540.8 13.95h-2.8" stroke="#666666" stroke-width="1.2" fill="none"/>
<rect x="320.8" y="13.95" width="220" height="56.95" fill="none" stroke="#666666" stroke-width="1.25"/>
<text transform="translate(319 74.4) scale(1 1)" text-anchor="end">-2</text>
<text transform="translate(319 55.42) scale(1 1)" text-anchor="end">0</text>
<text transform="translate(319 36.43) scale(1 1)" text-anchor="end">2</text>
<text transform="translate(319 17.45) scale(1 1)" text-anchor="end">4</text>
<text transform="translate(320.8 81.6) scale(1 1)" text-anchor="middle">2015</text>
<text transform="translate(363.4 81.6) scale(1 1)" text-anchor="middle">2016</text>
<text transform="translate(406 81.6) scale(1 1)" text-anchor="middle">2017</text>
<text transform="translate(448.6 81.6) scale(1 1)" text-anchor="middle">2018</text>
<text transform="translate(491.2 81.6) scale(1 1)" text-anchor="middle">2019</text>
<text transform="translate(533.8 81.6) scale(1 1)" text-anchor="middle">2020</text>
<text class="yl" transform="translate(308 43.62) rotate(-90)" text-anchor="middle">original</text>
<path d="M31.2 149.5v-2.8M31.2 93.6v2.8M73.8 149.5v-2.8M73.8 93.6v2.8M116.4 149.5v-2.8M116.4 93.6v2.8M159 149.5v-2.8M159 93.6v2.8M201.6 149.5v-2.8M201.6 93.6v2.8M244.2 149.5v-2.8M244.2 93.6v2.8M31.2 136.58h2.8M251.3 136.58h-2.8M31.2 122.53h2.8M251.3 122.53h-2.8M31.2 108.49h2.8M251.3 108.49h-2.8M31.2 94.44h2.8M251.3 94.44h-2.8" stroke="#666666" stroke-width="1.2" fill="none"/>
<rect x="31.2" y="93.6" width="220.1" height="55.9" fill="none" stroke="#666666" stroke-width="1.25"/>
<text transform="translate(29.4 140.08) scale(1 1)" text-anchor="end">-0.1</text>
<text transform="translate(29.4 126.03) scale(1 1)" text-anchor="end">0</text>
<text transform="translate(29.4 111.99) scale(1 1)" text-anchor="end">0.1</text>
<text transform="translate(29.4 97.94) scale(1 1)" text-anchor="end">0.2</text>
<text transform="translate(31.2 160.2) scale(1 1)" text-anchor="middle">2015</text>
<text transform="translate(73.8 160.2) scale(1 1)" text-anchor="middle">2016</text>
<text transform="translate(116.4 160.2) scale(1 1)" text-anchor="middle">2017</text>
<text transform="translate(159 160.2) scale(1 1)" text-anchor="middle">2018</text>
<text transform="translate(201.6 160.2) scale(1 1)" text-anchor="middle">2019</text>
<text transform="translate(244.2 160.2) scale(1 1)" text-anchor="middle">2020</text>
<text class="yl" transform="translate(11.4 121.95) rotate(-90)" text-anchor="middle">IMF1</text>
<path d="M320.8 149.5v-2.8M320.8 93.6v2.8M363.4 149.5v-2.8M363.4 93.6v2.8M406 149.5v-2.8M406 93.6v2.8M448.6 149.5v-2.8M448.6 93.6v2.8M491.2 149.5v-2.8M491.2 93.6v2.8M533.8 149.5v-2.8M533.8 93.6v2.8M320.8 142.14h2.8M540.8 142.14h-2.8M320.8 121.7h2.8M540.8 121.7h-2.8M320.8 101.26h2.8M540.8 101.26h-2.8" stroke="#666666" stroke-width="1.2" fill="none"/>
<rect x="320.8" y="93.6" width="220" height="55.9" fill="none" stroke="#666666" stroke-width="1.25"/>
<text transform="translate(319 145.64) scale(1 1)" text-anchor="end">-0.2</text>
<text transform="translate(319 125.2) scale(1 1)" text-anchor="end">0</text>
<text transform="translate(319 104.76) scale(1 1)" text-anchor="end">0.2</text>
<text transform="translate(320.8 160.2) scale(1 1)" text-anchor="middle">2015</text>
<text transform="translate(363.4 160.2) scale(1 1)" text-anchor="middle">2016</text>
<text transform="translate(406 160.2) scale(1 1)" text-anchor="middle">2017</text>
<text transform="translate(448.6 160.2) scale(1 1)" text-anchor="middle">2018</text>
<text transform="translate(491.2 160.2) scale(1 1)" text-anchor="middle">2019</text>
<text transform="translate(533.8 160.2) scale(1 1)" text-anchor="middle">2020</text>
<text class="yl" transform="translate(302 121.95) rotate(-90)" text-anchor="middle">IMF2</text>
<path d="M31.2 229.25v-2.8M31.2 172.45v2.8M73.8 229.25v-2.8M73.8 172.45v2.8M116.4 229.25v-2.8M116.4 172.45v2.8M159 229.25v-2.8M159 172.45v2.8M201.6 229.25v-2.8M201.6 172.45v2.8M244.2 229.25v-2.8M244.2 172.45v2.8M31.2 229.25h2.8M251.3 229.25h-2.8M31.2 200.85h2.8M251.3 200.85h-2.8M31.2 172.45h2.8M251.3 172.45h-2.8" stroke="#666666" stroke-width="1.2" fill="none"/>
<rect x="31.2" y="172.45" width="220.1" height="56.8" fill="none" stroke="#666666" stroke-width="1.25"/>
<text transform="translate(29.4 232.75) scale(1 1)" text-anchor="end">-0.5</text>
<text transform="translate(29.4 204.35) scale(1 1)" text-anchor="end">0</text>
<text transform="translate(29.4 175.95) scale(1 1)" text-anchor="end">0.5</text>
<text transform="translate(31.2 239.95) scale(1 1)" text-anchor="middle">2015</text>
<text transform="translate(73.8 239.95) scale(1 1)" text-anchor="middle">2016</text>
<text transform="translate(116.4 239.95) scale(1 1)" text-anchor="middle">2017</text>
<text transform="translate(159 239.95) scale(1 1)" text-anchor="middle">2018</text>
<text transform="translate(201.6 239.95) scale(1 1)" text-anchor="middle">2019</text>
<text transform="translate(244.2 239.95) scale(1 1)" text-anchor="middle">2020</text>
<text class="yl" transform="translate(11.4 201.25) rotate(-90)" text-anchor="middle">IMF3</text>
<path d="M320.8 229.25v-2.8M320.8 172.45v2.8M363.4 229.25v-2.8M363.4 172.45v2.8M406 229.25v-2.8M406 172.45v2.8M448.6 229.25v-2.8M448.6 172.45v2.8M491.2 229.25v-2.8M491.2 172.45v2.8M533.8 229.25v-2.8M533.8 172.45v2.8M320.8 229.25h2.8M540.8 229.25h-2.8M320.8 200.85h2.8M540.8 200.85h-2.8M320.8 172.45h2.8M540.8 172.45h-2.8" stroke="#666666" stroke-width="1.2" fill="none"/>
<rect x="320.8" y="172.45" width="220" height="56.8" fill="none" stroke="#666666" stroke-width="1.25"/>
<text transform="translate(319 232.75) scale(1 1)" text-anchor="end">-0.5</text>
<text transform="translate(319 204.35) scale(1 1)" text-anchor="end">0</text>
<text transform="translate(319 175.95) scale(1 1)" text-anchor="end">0.5</text>
<text transform="translate(320.8 239.95) scale(1 1)" text-anchor="middle">2015</text>
<text transform="translate(363.4 239.95) scale(1 1)" text-anchor="middle">2016</text>
<text transform="translate(406 239.95) scale(1 1)" text-anchor="middle">2017</text>
<text transform="translate(448.6 239.95) scale(1 1)" text-anchor="middle">2018</text>
<text transform="translate(491.2 239.95) scale(1 1)" text-anchor="middle">2019</text>
<text transform="translate(533.8 239.95) scale(1 1)" text-anchor="middle">2020</text>
<text class="yl" transform="translate(301.8 201.25) rotate(-90)" text-anchor="middle">IMF4</text>
<path d="M31.2 308.35v-2.8M31.2 251.8v2.8M73.8 308.35v-2.8M73.8 251.8v2.8M116.4 308.35v-2.8M116.4 251.8v2.8M159 308.35v-2.8M159 251.8v2.8M201.6 308.35v-2.8M201.6 251.8v2.8M244.2 308.35v-2.8M244.2 251.8v2.8M31.2 298.03h2.8M251.3 298.03h-2.8M31.2 280.68h2.8M251.3 280.68h-2.8M31.2 263.34h2.8M251.3 263.34h-2.8" stroke="#666666" stroke-width="1.2" fill="none"/>
<rect x="31.2" y="251.8" width="220.1" height="56.55" fill="none" stroke="#666666" stroke-width="1.25"/>
<text transform="translate(29.4 301.53) scale(1 1)" text-anchor="end">-0.2</text>
<text transform="translate(29.4 284.18) scale(1 1)" text-anchor="end">0</text>
<text transform="translate(29.4 266.84) scale(1 1)" text-anchor="end">0.2</text>
<text transform="translate(31.2 319.05) scale(1 1)" text-anchor="middle">2015</text>
<text transform="translate(73.8 319.05) scale(1 1)" text-anchor="middle">2016</text>
<text transform="translate(116.4 319.05) scale(1 1)" text-anchor="middle">2017</text>
<text transform="translate(159 319.05) scale(1 1)" text-anchor="middle">2018</text>
<text transform="translate(201.6 319.05) scale(1 1)" text-anchor="middle">2019</text>
<text transform="translate(244.2 319.05) scale(1 1)" text-anchor="middle">2020</text>
<text class="yl" transform="translate(11.9 280.48) rotate(-90)" text-anchor="middle">IMF5</text>
<path d="M320.8 308.35v-2.8M320.8 251.8v2.8M363.4 308.35v-2.8M363.4 251.8v2.8M406 308.35v-2.8M406 251.8v2.8M448.6 308.35v-2.8M448.6 251.8v2.8M491.2 308.35v-2.8M491.2 251.8v2.8M533.8 308.35v-2.8M533.8 251.8v2.8M320.8 308.35h2.8M540.8 308.35h-2.8M320.8 280.08h2.8M540.8 280.08h-2.8M320.8 251.8h2.8M540.8 251.8h-2.8" stroke="#666666" stroke-width="1.2" fill="none"/>
<rect x="320.8" y="251.8" width="220" height="56.55" fill="none" stroke="#666666" stroke-width="1.25"/>
<text transform="translate(319 311.85) scale(1 1)" text-anchor="end">-2</text>
<text transform="translate(319 283.58) scale(1 1)" text-anchor="end">0</text>
<text transform="translate(319 255.3) scale(1 1)" text-anchor="end">2</text>
<text transform="translate(320.8 319.05) scale(1 1)" text-anchor="middle">2015</text>
<text transform="translate(363.4 319.05) scale(1 1)" text-anchor="middle">2016</text>
<text transform="translate(406 319.05) scale(1 1)" text-anchor="middle">2017</text>
<text transform="translate(448.6 319.05) scale(1 1)" text-anchor="middle">2018</text>
<text transform="translate(491.2 319.05) scale(1 1)" text-anchor="middle">2019</text>
<text transform="translate(533.8 319.05) scale(1 1)" text-anchor="middle">2020</text>
<text class="yl" transform="translate(308.6 280.48) rotate(-90)" text-anchor="middle">IMF6</text>
<path d="M31.2 387.6v-2.8M31.2 330.8v2.8M73.8 387.6v-2.8M73.8 330.8v2.8M116.4 387.6v-2.8M116.4 330.8v2.8M159 387.6v-2.8M159 330.8v2.8M201.6 387.6v-2.8M201.6 330.8v2.8M244.2 387.6v-2.8M244.2 330.8v2.8M31.2 380.87h2.8M251.3 380.87h-2.8M31.2 357.84h2.8M251.3 357.84h-2.8M31.2 334.81h2.8M251.3 334.81h-2.8" stroke="#666666" stroke-width="1.2" fill="none"/>
<rect x="31.2" y="330.8" width="220.1" height="56.8" fill="none" stroke="#666666" stroke-width="1.25"/>
<text transform="translate(29.4 384.37) scale(1 1)" text-anchor="end">-0.5</text>
<text transform="translate(29.4 361.34) scale(1 1)" text-anchor="end">0</text>
<text transform="translate(29.4 338.31) scale(1 1)" text-anchor="end">0.5</text>
<text transform="translate(31.2 398.3) scale(1 1)" text-anchor="middle">2015</text>
<text transform="translate(73.8 398.3) scale(1 1)" text-anchor="middle">2016</text>
<text transform="translate(116.4 398.3) scale(1 1)" text-anchor="middle">2017</text>
<text transform="translate(159 398.3) scale(1 1)" text-anchor="middle">2018</text>
<text transform="translate(201.6 398.3) scale(1 1)" text-anchor="middle">2019</text>
<text transform="translate(244.2 398.3) scale(1 1)" text-anchor="middle">2020</text>
<text class="yl" transform="translate(11.4 359.6) rotate(-90)" text-anchor="middle">IMF7</text>
<path d="M320.8 387.6v-2.8M320.8 330.8v2.8M363.4 387.6v-2.8M363.4 330.8v2.8M406 387.6v-2.8M406 330.8v2.8M448.6 387.6v-2.8M448.6 330.8v2.8M491.2 387.6v-2.8M491.2 330.8v2.8M533.8 387.6v-2.8M533.8 330.8v2.8M320.8 386.13h2.8M540.8 386.13h-2.8M320.8 359.31h2.8M540.8 359.31h-2.8M320.8 332.49h2.8M540.8 332.49h-2.8" stroke="#666666" stroke-width="1.2" fill="none"/>
<rect x="320.8" y="330.8" width="220" height="56.8" fill="none" stroke="#666666" stroke-width="1.25"/>
<text transform="translate(319 389.63) scale(1 1)" text-anchor="end">-0.2</text>
<text transform="translate(319 362.81) scale(1 1)" text-anchor="end">0</text>
<text transform="translate(319 335.99) scale(1 1)" text-anchor="end">0.2</text>
<text transform="translate(320.8 398.3) scale(1 1)" text-anchor="middle">2015</text>
<text transform="translate(363.4 398.3) scale(1 1)" text-anchor="middle">2016</text>
<text transform="translate(406 398.3) scale(1 1)" text-anchor="middle">2017</text>
<text transform="translate(448.6 398.3) scale(1 1)" text-anchor="middle">2018</text>
<text transform="translate(491.2 398.3) scale(1 1)" text-anchor="middle">2019</text>
<text transform="translate(533.8 398.3) scale(1 1)" text-anchor="middle">2020</text>
<text class="yl" transform="translate(301.9 359.6) rotate(-90)" text-anchor="middle">IMF8</text>
<path d="M31.2 467.35v-2.8M31.2 410.35v2.8M73.8 467.35v-2.8M73.8 410.35v2.8M116.4 467.35v-2.8M116.4 410.35v2.8M159 467.35v-2.8M159 410.35v2.8M201.6 467.35v-2.8M201.6 410.35v2.8M244.2 467.35v-2.8M244.2 410.35v2.8M31.2 467.35h2.8M251.3 467.35h-2.8M31.2 438.85h2.8M251.3 438.85h-2.8M31.2 410.35h2.8M251.3 410.35h-2.8" stroke="#666666" stroke-width="1.2" fill="none"/>
<rect x="31.2" y="410.35" width="220.1" height="57" fill="none" stroke="#666666" stroke-width="1.25"/>
<text transform="translate(29.4 470.85) scale(1 1)" text-anchor="end">-0.1</text>
<text transform="translate(29.4 442.35) scale(1 1)" text-anchor="end">0</text>
<text transform="translate(29.4 413.85) scale(1 1)" text-anchor="end">0.1</text>
<text transform="translate(31.2 478.05) scale(1 1)" text-anchor="middle">2015</text>
<text transform="translate(73.8 478.05) scale(1 1)" text-anchor="middle">2016</text>
<text transform="translate(116.4 478.05) scale(1 1)" text-anchor="middle">2017</text>
<text transform="translate(159 478.05) scale(1 1)" text-anchor="middle">2018</text>
<text transform="translate(201.6 478.05) scale(1 1)" text-anchor="middle">2019</text>
<text transform="translate(244.2 478.05) scale(1 1)" text-anchor="middle">2020</text>
<text class="yl" transform="translate(12.2 439.25) rotate(-90)" text-anchor="middle">IMF9</text>
<path d="M320.8 467.35v-2.8M320.8 410.35v2.8M363.4 467.35v-2.8M363.4 410.35v2.8M406 467.35v-2.8M406 410.35v2.8M448.6 467.35v-2.8M448.6 410.35v2.8M491.2 467.35v-2.8M491.2 410.35v2.8M533.8 467.35v-2.8M533.8 410.35v2.8M320.8 467.35h2.8M540.8 467.35h-2.8M320.8 448.35h2.8M540.8 448.35h-2.8M320.8 429.35h2.8M540.8 429.35h-2.8M320.8 410.35h2.8M540.8 410.35h-2.8" stroke="#666666" stroke-width="1.2" fill="none"/>
<rect x="320.8" y="410.35" width="220" height="57" fill="none" stroke="#666666" stroke-width="1.25"/>
<text transform="translate(319 470.85) scale(1 1)" text-anchor="end">0</text>
<text transform="translate(319 451.85) scale(1 1)" text-anchor="end">0.5</text>
<text transform="translate(319 432.85) scale(1 1)" text-anchor="end">1</text>
<text transform="translate(319 413.85) scale(1 1)" text-anchor="end">1.5</text>
<text transform="translate(320.8 478.05) scale(1 1)" text-anchor="middle">2015</text>
<text transform="translate(363.4 478.05) scale(1 1)" text-anchor="middle">2016</text>
<text transform="translate(406 478.05) scale(1 1)" text-anchor="middle">2017</text>
<text transform="translate(448.6 478.05) scale(1 1)" text-anchor="middle">2018</text>
<text transform="translate(491.2 478.05) scale(1 1)" text-anchor="middle">2019</text>
<text transform="translate(533.8 478.05) scale(1 1)" text-anchor="middle">2020</text>
<text class="yl" transform="translate(304.1 439.25) rotate(-90)" text-anchor="middle">residual</text>
</svg>
</body></html>
